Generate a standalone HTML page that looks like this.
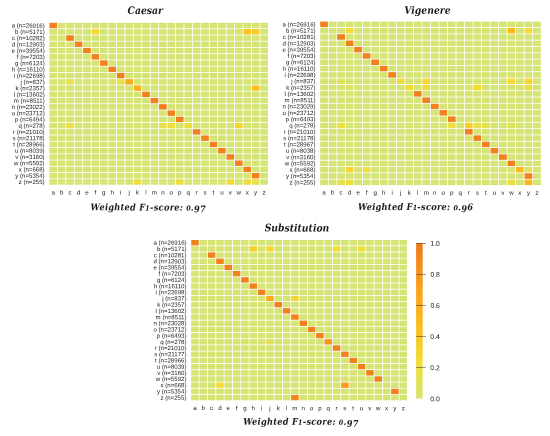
<!DOCTYPE html>
<html><head><meta charset="utf-8"><title>Confusion matrices</title>
<style>
html,body{margin:0;padding:0;background:#fff}
body{width:550px;height:436px;overflow:hidden}
svg{display:block}
text{font-family:"Liberation Sans",sans-serif;fill:#1a1a1a;text-rendering:geometricPrecision}
.yl text{font-size:6.1px;text-anchor:end}
.xl text{font-size:6.2px;text-anchor:middle}
.cbl text{font-size:6.8px}
.ti,.ca{font-family:"DejaVu Serif Condensed","DejaVu Serif","Liberation Serif",serif;font-weight:bold;font-style:italic;fill:#1c1c1c;text-anchor:middle}
.ti{font-size:10.3px}
.ca{font-size:9.2px;letter-spacing:0.24px}
.os{font-size:7.1px}
</style></head><body>
<svg width="550" height="436" viewBox="0 0 550 436">
<rect width="550" height="436" fill="#fff"/>
<g filter="url(#bl)">
<rect x="49.00" y="22.40" width="219.30" height="162.70" fill="#ffffff"/>
<rect x="49.40" y="22.80" width="7.63" height="5.46" fill="#f0811a"/>
<rect x="57.83" y="22.80" width="7.63" height="5.46" fill="#d5e474"/>
<rect x="66.27" y="22.80" width="7.63" height="5.46" fill="#d5e474"/>
<rect x="74.70" y="22.80" width="7.63" height="5.46" fill="#d5e474"/>
<rect x="83.14" y="22.80" width="7.63" height="5.46" fill="#d5e474"/>
<rect x="91.57" y="22.80" width="7.63" height="5.46" fill="#d5e474"/>
<rect x="100.01" y="22.80" width="7.63" height="5.46" fill="#d5e474"/>
<rect x="108.44" y="22.80" width="7.63" height="5.46" fill="#d5e474"/>
<rect x="116.88" y="22.80" width="7.63" height="5.46" fill="#d5e474"/>
<rect x="125.31" y="22.80" width="7.63" height="5.46" fill="#d5e474"/>
<rect x="133.75" y="22.80" width="7.63" height="5.46" fill="#d5e474"/>
<rect x="142.18" y="22.80" width="7.63" height="5.46" fill="#d5e474"/>
<rect x="150.62" y="22.80" width="7.63" height="5.46" fill="#d5e474"/>
<rect x="159.05" y="22.80" width="7.63" height="5.46" fill="#d5e474"/>
<rect x="167.48" y="22.80" width="7.63" height="5.46" fill="#d5e474"/>
<rect x="175.92" y="22.80" width="7.63" height="5.46" fill="#d5e474"/>
<rect x="184.35" y="22.80" width="7.63" height="5.46" fill="#d5e474"/>
<rect x="192.79" y="22.80" width="7.63" height="5.46" fill="#d5e474"/>
<rect x="201.22" y="22.80" width="7.63" height="5.46" fill="#d5e474"/>
<rect x="209.66" y="22.80" width="7.63" height="5.46" fill="#d5e474"/>
<rect x="218.09" y="22.80" width="7.63" height="5.46" fill="#d5e474"/>
<rect x="226.53" y="22.80" width="7.63" height="5.46" fill="#d5e474"/>
<rect x="234.96" y="22.80" width="7.63" height="5.46" fill="#d5e474"/>
<rect x="243.40" y="22.80" width="7.63" height="5.46" fill="#d5e474"/>
<rect x="251.83" y="22.80" width="7.63" height="5.46" fill="#d5e474"/>
<rect x="260.27" y="22.80" width="7.63" height="5.46" fill="#d5e474"/>
<rect x="49.40" y="29.06" width="7.63" height="5.46" fill="#d5e474"/>
<rect x="57.83" y="29.06" width="7.63" height="5.46" fill="#d5e474"/>
<rect x="66.27" y="29.06" width="7.63" height="5.46" fill="#d5e474"/>
<rect x="74.70" y="29.06" width="7.63" height="5.46" fill="#d5e474"/>
<rect x="83.14" y="29.06" width="7.63" height="5.46" fill="#d5e474"/>
<rect x="91.57" y="29.06" width="7.63" height="5.46" fill="#f3db33"/>
<rect x="100.01" y="29.06" width="7.63" height="5.46" fill="#d5e474"/>
<rect x="108.44" y="29.06" width="7.63" height="5.46" fill="#d5e474"/>
<rect x="116.88" y="29.06" width="7.63" height="5.46" fill="#d5e474"/>
<rect x="125.31" y="29.06" width="7.63" height="5.46" fill="#d5e474"/>
<rect x="133.75" y="29.06" width="7.63" height="5.46" fill="#d5e474"/>
<rect x="142.18" y="29.06" width="7.63" height="5.46" fill="#d5e474"/>
<rect x="150.62" y="29.06" width="7.63" height="5.46" fill="#d5e474"/>
<rect x="159.05" y="29.06" width="7.63" height="5.46" fill="#d5e474"/>
<rect x="167.48" y="29.06" width="7.63" height="5.46" fill="#d5e474"/>
<rect x="175.92" y="29.06" width="7.63" height="5.46" fill="#d5e474"/>
<rect x="184.35" y="29.06" width="7.63" height="5.46" fill="#d5e474"/>
<rect x="192.79" y="29.06" width="7.63" height="5.46" fill="#d5e474"/>
<rect x="201.22" y="29.06" width="7.63" height="5.46" fill="#d5e474"/>
<rect x="209.66" y="29.06" width="7.63" height="5.46" fill="#d5e474"/>
<rect x="218.09" y="29.06" width="7.63" height="5.46" fill="#d5e474"/>
<rect x="226.53" y="29.06" width="7.63" height="5.46" fill="#d5e474"/>
<rect x="234.96" y="29.06" width="7.63" height="5.46" fill="#dfe160"/>
<rect x="243.40" y="29.06" width="7.63" height="5.46" fill="#f8c422"/>
<rect x="251.83" y="29.06" width="7.63" height="5.46" fill="#f7ca26"/>
<rect x="260.27" y="29.06" width="7.63" height="5.46" fill="#d5e474"/>
<rect x="49.40" y="35.32" width="7.63" height="5.46" fill="#d5e474"/>
<rect x="57.83" y="35.32" width="7.63" height="5.46" fill="#d5e474"/>
<rect x="66.27" y="35.32" width="7.63" height="5.46" fill="#f0811a"/>
<rect x="74.70" y="35.32" width="7.63" height="5.46" fill="#d5e474"/>
<rect x="83.14" y="35.32" width="7.63" height="5.46" fill="#d5e474"/>
<rect x="91.57" y="35.32" width="7.63" height="5.46" fill="#d5e474"/>
<rect x="100.01" y="35.32" width="7.63" height="5.46" fill="#d5e474"/>
<rect x="108.44" y="35.32" width="7.63" height="5.46" fill="#d5e474"/>
<rect x="116.88" y="35.32" width="7.63" height="5.46" fill="#d5e474"/>
<rect x="125.31" y="35.32" width="7.63" height="5.46" fill="#d5e474"/>
<rect x="133.75" y="35.32" width="7.63" height="5.46" fill="#d5e474"/>
<rect x="142.18" y="35.32" width="7.63" height="5.46" fill="#d5e474"/>
<rect x="150.62" y="35.32" width="7.63" height="5.46" fill="#d5e474"/>
<rect x="159.05" y="35.32" width="7.63" height="5.46" fill="#d5e474"/>
<rect x="167.48" y="35.32" width="7.63" height="5.46" fill="#d5e474"/>
<rect x="175.92" y="35.32" width="7.63" height="5.46" fill="#d5e474"/>
<rect x="184.35" y="35.32" width="7.63" height="5.46" fill="#d5e474"/>
<rect x="192.79" y="35.32" width="7.63" height="5.46" fill="#d5e474"/>
<rect x="201.22" y="35.32" width="7.63" height="5.46" fill="#d5e474"/>
<rect x="209.66" y="35.32" width="7.63" height="5.46" fill="#d5e474"/>
<rect x="218.09" y="35.32" width="7.63" height="5.46" fill="#d5e474"/>
<rect x="226.53" y="35.32" width="7.63" height="5.46" fill="#d5e474"/>
<rect x="234.96" y="35.32" width="7.63" height="5.46" fill="#d5e474"/>
<rect x="243.40" y="35.32" width="7.63" height="5.46" fill="#d5e474"/>
<rect x="251.83" y="35.32" width="7.63" height="5.46" fill="#d5e474"/>
<rect x="260.27" y="35.32" width="7.63" height="5.46" fill="#d5e474"/>
<rect x="49.40" y="41.57" width="7.63" height="5.46" fill="#d5e474"/>
<rect x="57.83" y="41.57" width="7.63" height="5.46" fill="#d5e474"/>
<rect x="66.27" y="41.57" width="7.63" height="5.46" fill="#d5e474"/>
<rect x="74.70" y="41.57" width="7.63" height="5.46" fill="#f0811a"/>
<rect x="83.14" y="41.57" width="7.63" height="5.46" fill="#d5e474"/>
<rect x="91.57" y="41.57" width="7.63" height="5.46" fill="#d5e474"/>
<rect x="100.01" y="41.57" width="7.63" height="5.46" fill="#d5e474"/>
<rect x="108.44" y="41.57" width="7.63" height="5.46" fill="#d5e474"/>
<rect x="116.88" y="41.57" width="7.63" height="5.46" fill="#d5e474"/>
<rect x="125.31" y="41.57" width="7.63" height="5.46" fill="#d5e474"/>
<rect x="133.75" y="41.57" width="7.63" height="5.46" fill="#d5e474"/>
<rect x="142.18" y="41.57" width="7.63" height="5.46" fill="#d5e474"/>
<rect x="150.62" y="41.57" width="7.63" height="5.46" fill="#d5e474"/>
<rect x="159.05" y="41.57" width="7.63" height="5.46" fill="#d5e474"/>
<rect x="167.48" y="41.57" width="7.63" height="5.46" fill="#d5e474"/>
<rect x="175.92" y="41.57" width="7.63" height="5.46" fill="#d5e474"/>
<rect x="184.35" y="41.57" width="7.63" height="5.46" fill="#d5e474"/>
<rect x="192.79" y="41.57" width="7.63" height="5.46" fill="#d5e474"/>
<rect x="201.22" y="41.57" width="7.63" height="5.46" fill="#d5e474"/>
<rect x="209.66" y="41.57" width="7.63" height="5.46" fill="#d5e474"/>
<rect x="218.09" y="41.57" width="7.63" height="5.46" fill="#d5e474"/>
<rect x="226.53" y="41.57" width="7.63" height="5.46" fill="#d5e474"/>
<rect x="234.96" y="41.57" width="7.63" height="5.46" fill="#d5e474"/>
<rect x="243.40" y="41.57" width="7.63" height="5.46" fill="#d5e474"/>
<rect x="251.83" y="41.57" width="7.63" height="5.46" fill="#d5e474"/>
<rect x="260.27" y="41.57" width="7.63" height="5.46" fill="#d5e474"/>
<rect x="49.40" y="47.83" width="7.63" height="5.46" fill="#d5e474"/>
<rect x="57.83" y="47.83" width="7.63" height="5.46" fill="#d5e474"/>
<rect x="66.27" y="47.83" width="7.63" height="5.46" fill="#d5e474"/>
<rect x="74.70" y="47.83" width="7.63" height="5.46" fill="#d5e474"/>
<rect x="83.14" y="47.83" width="7.63" height="5.46" fill="#f0811a"/>
<rect x="91.57" y="47.83" width="7.63" height="5.46" fill="#d5e474"/>
<rect x="100.01" y="47.83" width="7.63" height="5.46" fill="#d5e474"/>
<rect x="108.44" y="47.83" width="7.63" height="5.46" fill="#d5e474"/>
<rect x="116.88" y="47.83" width="7.63" height="5.46" fill="#d5e474"/>
<rect x="125.31" y="47.83" width="7.63" height="5.46" fill="#d5e474"/>
<rect x="133.75" y="47.83" width="7.63" height="5.46" fill="#d5e474"/>
<rect x="142.18" y="47.83" width="7.63" height="5.46" fill="#d5e474"/>
<rect x="150.62" y="47.83" width="7.63" height="5.46" fill="#d5e474"/>
<rect x="159.05" y="47.83" width="7.63" height="5.46" fill="#d5e474"/>
<rect x="167.48" y="47.83" width="7.63" height="5.46" fill="#d5e474"/>
<rect x="175.92" y="47.83" width="7.63" height="5.46" fill="#d5e474"/>
<rect x="184.35" y="47.83" width="7.63" height="5.46" fill="#d5e474"/>
<rect x="192.79" y="47.83" width="7.63" height="5.46" fill="#d5e474"/>
<rect x="201.22" y="47.83" width="7.63" height="5.46" fill="#d5e474"/>
<rect x="209.66" y="47.83" width="7.63" height="5.46" fill="#d5e474"/>
<rect x="218.09" y="47.83" width="7.63" height="5.46" fill="#d5e474"/>
<rect x="226.53" y="47.83" width="7.63" height="5.46" fill="#d5e474"/>
<rect x="234.96" y="47.83" width="7.63" height="5.46" fill="#d5e474"/>
<rect x="243.40" y="47.83" width="7.63" height="5.46" fill="#d5e474"/>
<rect x="251.83" y="47.83" width="7.63" height="5.46" fill="#d5e474"/>
<rect x="260.27" y="47.83" width="7.63" height="5.46" fill="#d5e474"/>
<rect x="49.40" y="54.09" width="7.63" height="5.46" fill="#d5e474"/>
<rect x="57.83" y="54.09" width="7.63" height="5.46" fill="#d5e474"/>
<rect x="66.27" y="54.09" width="7.63" height="5.46" fill="#d5e474"/>
<rect x="74.70" y="54.09" width="7.63" height="5.46" fill="#d5e474"/>
<rect x="83.14" y="54.09" width="7.63" height="5.46" fill="#d5e474"/>
<rect x="91.57" y="54.09" width="7.63" height="5.46" fill="#f0811a"/>
<rect x="100.01" y="54.09" width="7.63" height="5.46" fill="#d5e474"/>
<rect x="108.44" y="54.09" width="7.63" height="5.46" fill="#d5e474"/>
<rect x="116.88" y="54.09" width="7.63" height="5.46" fill="#d5e474"/>
<rect x="125.31" y="54.09" width="7.63" height="5.46" fill="#d5e474"/>
<rect x="133.75" y="54.09" width="7.63" height="5.46" fill="#d5e474"/>
<rect x="142.18" y="54.09" width="7.63" height="5.46" fill="#d5e474"/>
<rect x="150.62" y="54.09" width="7.63" height="5.46" fill="#d5e474"/>
<rect x="159.05" y="54.09" width="7.63" height="5.46" fill="#d5e474"/>
<rect x="167.48" y="54.09" width="7.63" height="5.46" fill="#d5e474"/>
<rect x="175.92" y="54.09" width="7.63" height="5.46" fill="#d5e474"/>
<rect x="184.35" y="54.09" width="7.63" height="5.46" fill="#d5e474"/>
<rect x="192.79" y="54.09" width="7.63" height="5.46" fill="#d5e474"/>
<rect x="201.22" y="54.09" width="7.63" height="5.46" fill="#d5e474"/>
<rect x="209.66" y="54.09" width="7.63" height="5.46" fill="#d5e474"/>
<rect x="218.09" y="54.09" width="7.63" height="5.46" fill="#d5e474"/>
<rect x="226.53" y="54.09" width="7.63" height="5.46" fill="#d5e474"/>
<rect x="234.96" y="54.09" width="7.63" height="5.46" fill="#d5e474"/>
<rect x="243.40" y="54.09" width="7.63" height="5.46" fill="#d5e474"/>
<rect x="251.83" y="54.09" width="7.63" height="5.46" fill="#d5e474"/>
<rect x="260.27" y="54.09" width="7.63" height="5.46" fill="#d5e474"/>
<rect x="49.40" y="60.35" width="7.63" height="5.46" fill="#d5e474"/>
<rect x="57.83" y="60.35" width="7.63" height="5.46" fill="#d5e474"/>
<rect x="66.27" y="60.35" width="7.63" height="5.46" fill="#d5e474"/>
<rect x="74.70" y="60.35" width="7.63" height="5.46" fill="#d5e474"/>
<rect x="83.14" y="60.35" width="7.63" height="5.46" fill="#d5e474"/>
<rect x="91.57" y="60.35" width="7.63" height="5.46" fill="#d5e474"/>
<rect x="100.01" y="60.35" width="7.63" height="5.46" fill="#f0811a"/>
<rect x="108.44" y="60.35" width="7.63" height="5.46" fill="#d5e474"/>
<rect x="116.88" y="60.35" width="7.63" height="5.46" fill="#d5e474"/>
<rect x="125.31" y="60.35" width="7.63" height="5.46" fill="#d5e474"/>
<rect x="133.75" y="60.35" width="7.63" height="5.46" fill="#d5e474"/>
<rect x="142.18" y="60.35" width="7.63" height="5.46" fill="#d5e474"/>
<rect x="150.62" y="60.35" width="7.63" height="5.46" fill="#d5e474"/>
<rect x="159.05" y="60.35" width="7.63" height="5.46" fill="#d5e474"/>
<rect x="167.48" y="60.35" width="7.63" height="5.46" fill="#d5e474"/>
<rect x="175.92" y="60.35" width="7.63" height="5.46" fill="#d5e474"/>
<rect x="184.35" y="60.35" width="7.63" height="5.46" fill="#d5e474"/>
<rect x="192.79" y="60.35" width="7.63" height="5.46" fill="#d5e474"/>
<rect x="201.22" y="60.35" width="7.63" height="5.46" fill="#d5e474"/>
<rect x="209.66" y="60.35" width="7.63" height="5.46" fill="#d5e474"/>
<rect x="218.09" y="60.35" width="7.63" height="5.46" fill="#d5e474"/>
<rect x="226.53" y="60.35" width="7.63" height="5.46" fill="#d5e474"/>
<rect x="234.96" y="60.35" width="7.63" height="5.46" fill="#d5e474"/>
<rect x="243.40" y="60.35" width="7.63" height="5.46" fill="#d5e474"/>
<rect x="251.83" y="60.35" width="7.63" height="5.46" fill="#d5e474"/>
<rect x="260.27" y="60.35" width="7.63" height="5.46" fill="#d5e474"/>
<rect x="49.40" y="66.60" width="7.63" height="5.46" fill="#d5e474"/>
<rect x="57.83" y="66.60" width="7.63" height="5.46" fill="#d5e474"/>
<rect x="66.27" y="66.60" width="7.63" height="5.46" fill="#d5e474"/>
<rect x="74.70" y="66.60" width="7.63" height="5.46" fill="#d5e474"/>
<rect x="83.14" y="66.60" width="7.63" height="5.46" fill="#d5e474"/>
<rect x="91.57" y="66.60" width="7.63" height="5.46" fill="#d5e474"/>
<rect x="100.01" y="66.60" width="7.63" height="5.46" fill="#d5e474"/>
<rect x="108.44" y="66.60" width="7.63" height="5.46" fill="#f0811a"/>
<rect x="116.88" y="66.60" width="7.63" height="5.46" fill="#d5e474"/>
<rect x="125.31" y="66.60" width="7.63" height="5.46" fill="#d5e474"/>
<rect x="133.75" y="66.60" width="7.63" height="5.46" fill="#d5e474"/>
<rect x="142.18" y="66.60" width="7.63" height="5.46" fill="#d5e474"/>
<rect x="150.62" y="66.60" width="7.63" height="5.46" fill="#d5e474"/>
<rect x="159.05" y="66.60" width="7.63" height="5.46" fill="#d5e474"/>
<rect x="167.48" y="66.60" width="7.63" height="5.46" fill="#d5e474"/>
<rect x="175.92" y="66.60" width="7.63" height="5.46" fill="#d5e474"/>
<rect x="184.35" y="66.60" width="7.63" height="5.46" fill="#d5e474"/>
<rect x="192.79" y="66.60" width="7.63" height="5.46" fill="#d5e474"/>
<rect x="201.22" y="66.60" width="7.63" height="5.46" fill="#d5e474"/>
<rect x="209.66" y="66.60" width="7.63" height="5.46" fill="#d5e474"/>
<rect x="218.09" y="66.60" width="7.63" height="5.46" fill="#d5e474"/>
<rect x="226.53" y="66.60" width="7.63" height="5.46" fill="#d5e474"/>
<rect x="234.96" y="66.60" width="7.63" height="5.46" fill="#d5e474"/>
<rect x="243.40" y="66.60" width="7.63" height="5.46" fill="#d5e474"/>
<rect x="251.83" y="66.60" width="7.63" height="5.46" fill="#d5e474"/>
<rect x="260.27" y="66.60" width="7.63" height="5.46" fill="#d5e474"/>
<rect x="49.40" y="72.86" width="7.63" height="5.46" fill="#d5e474"/>
<rect x="57.83" y="72.86" width="7.63" height="5.46" fill="#d5e474"/>
<rect x="66.27" y="72.86" width="7.63" height="5.46" fill="#d5e474"/>
<rect x="74.70" y="72.86" width="7.63" height="5.46" fill="#d5e474"/>
<rect x="83.14" y="72.86" width="7.63" height="5.46" fill="#d5e474"/>
<rect x="91.57" y="72.86" width="7.63" height="5.46" fill="#d5e474"/>
<rect x="100.01" y="72.86" width="7.63" height="5.46" fill="#d5e474"/>
<rect x="108.44" y="72.86" width="7.63" height="5.46" fill="#d5e474"/>
<rect x="116.88" y="72.86" width="7.63" height="5.46" fill="#f0811a"/>
<rect x="125.31" y="72.86" width="7.63" height="5.46" fill="#d5e474"/>
<rect x="133.75" y="72.86" width="7.63" height="5.46" fill="#d5e474"/>
<rect x="142.18" y="72.86" width="7.63" height="5.46" fill="#d5e474"/>
<rect x="150.62" y="72.86" width="7.63" height="5.46" fill="#d5e474"/>
<rect x="159.05" y="72.86" width="7.63" height="5.46" fill="#d5e474"/>
<rect x="167.48" y="72.86" width="7.63" height="5.46" fill="#d5e474"/>
<rect x="175.92" y="72.86" width="7.63" height="5.46" fill="#d5e474"/>
<rect x="184.35" y="72.86" width="7.63" height="5.46" fill="#d5e474"/>
<rect x="192.79" y="72.86" width="7.63" height="5.46" fill="#d5e474"/>
<rect x="201.22" y="72.86" width="7.63" height="5.46" fill="#d5e474"/>
<rect x="209.66" y="72.86" width="7.63" height="5.46" fill="#d5e474"/>
<rect x="218.09" y="72.86" width="7.63" height="5.46" fill="#d5e474"/>
<rect x="226.53" y="72.86" width="7.63" height="5.46" fill="#d5e474"/>
<rect x="234.96" y="72.86" width="7.63" height="5.46" fill="#d5e474"/>
<rect x="243.40" y="72.86" width="7.63" height="5.46" fill="#d5e474"/>
<rect x="251.83" y="72.86" width="7.63" height="5.46" fill="#d5e474"/>
<rect x="260.27" y="72.86" width="7.63" height="5.46" fill="#d5e474"/>
<rect x="49.40" y="79.12" width="7.63" height="5.46" fill="#d5e474"/>
<rect x="57.83" y="79.12" width="7.63" height="5.46" fill="#d5e474"/>
<rect x="66.27" y="79.12" width="7.63" height="5.46" fill="#e8df4b"/>
<rect x="74.70" y="79.12" width="7.63" height="5.46" fill="#d5e474"/>
<rect x="83.14" y="79.12" width="7.63" height="5.46" fill="#d5e474"/>
<rect x="91.57" y="79.12" width="7.63" height="5.46" fill="#d5e474"/>
<rect x="100.01" y="79.12" width="7.63" height="5.46" fill="#d5e474"/>
<rect x="108.44" y="79.12" width="7.63" height="5.46" fill="#dbe267"/>
<rect x="116.88" y="79.12" width="7.63" height="5.46" fill="#e7df4e"/>
<rect x="125.31" y="79.12" width="7.63" height="5.46" fill="#faab1b"/>
<rect x="133.75" y="79.12" width="7.63" height="5.46" fill="#d5e474"/>
<rect x="142.18" y="79.12" width="7.63" height="5.46" fill="#d5e474"/>
<rect x="150.62" y="79.12" width="7.63" height="5.46" fill="#dfe160"/>
<rect x="159.05" y="79.12" width="7.63" height="5.46" fill="#d5e474"/>
<rect x="167.48" y="79.12" width="7.63" height="5.46" fill="#d5e474"/>
<rect x="175.92" y="79.12" width="7.63" height="5.46" fill="#d5e474"/>
<rect x="184.35" y="79.12" width="7.63" height="5.46" fill="#d5e474"/>
<rect x="192.79" y="79.12" width="7.63" height="5.46" fill="#d5e474"/>
<rect x="201.22" y="79.12" width="7.63" height="5.46" fill="#d5e474"/>
<rect x="209.66" y="79.12" width="7.63" height="5.46" fill="#d5e474"/>
<rect x="218.09" y="79.12" width="7.63" height="5.46" fill="#d5e474"/>
<rect x="226.53" y="79.12" width="7.63" height="5.46" fill="#d5e474"/>
<rect x="234.96" y="79.12" width="7.63" height="5.46" fill="#d5e474"/>
<rect x="243.40" y="79.12" width="7.63" height="5.46" fill="#d5e474"/>
<rect x="251.83" y="79.12" width="7.63" height="5.46" fill="#d5e474"/>
<rect x="260.27" y="79.12" width="7.63" height="5.46" fill="#d5e474"/>
<rect x="49.40" y="85.38" width="7.63" height="5.46" fill="#d5e474"/>
<rect x="57.83" y="85.38" width="7.63" height="5.46" fill="#d5e474"/>
<rect x="66.27" y="85.38" width="7.63" height="5.46" fill="#d5e474"/>
<rect x="74.70" y="85.38" width="7.63" height="5.46" fill="#d5e474"/>
<rect x="83.14" y="85.38" width="7.63" height="5.46" fill="#d5e474"/>
<rect x="91.57" y="85.38" width="7.63" height="5.46" fill="#d5e474"/>
<rect x="100.01" y="85.38" width="7.63" height="5.46" fill="#d5e474"/>
<rect x="108.44" y="85.38" width="7.63" height="5.46" fill="#d5e474"/>
<rect x="116.88" y="85.38" width="7.63" height="5.46" fill="#d5e474"/>
<rect x="125.31" y="85.38" width="7.63" height="5.46" fill="#d5e474"/>
<rect x="133.75" y="85.38" width="7.63" height="5.46" fill="#fab01b"/>
<rect x="142.18" y="85.38" width="7.63" height="5.46" fill="#d5e474"/>
<rect x="150.62" y="85.38" width="7.63" height="5.46" fill="#d5e474"/>
<rect x="159.05" y="85.38" width="7.63" height="5.46" fill="#d5e474"/>
<rect x="167.48" y="85.38" width="7.63" height="5.46" fill="#d5e474"/>
<rect x="175.92" y="85.38" width="7.63" height="5.46" fill="#d5e474"/>
<rect x="184.35" y="85.38" width="7.63" height="5.46" fill="#d5e474"/>
<rect x="192.79" y="85.38" width="7.63" height="5.46" fill="#d5e474"/>
<rect x="201.22" y="85.38" width="7.63" height="5.46" fill="#d5e474"/>
<rect x="209.66" y="85.38" width="7.63" height="5.46" fill="#d5e474"/>
<rect x="218.09" y="85.38" width="7.63" height="5.46" fill="#d5e474"/>
<rect x="226.53" y="85.38" width="7.63" height="5.46" fill="#d5e474"/>
<rect x="234.96" y="85.38" width="7.63" height="5.46" fill="#d5e474"/>
<rect x="243.40" y="85.38" width="7.63" height="5.46" fill="#d5e474"/>
<rect x="251.83" y="85.38" width="7.63" height="5.46" fill="#f8c422"/>
<rect x="260.27" y="85.38" width="7.63" height="5.46" fill="#d5e474"/>
<rect x="49.40" y="91.63" width="7.63" height="5.46" fill="#d5e474"/>
<rect x="57.83" y="91.63" width="7.63" height="5.46" fill="#d5e474"/>
<rect x="66.27" y="91.63" width="7.63" height="5.46" fill="#d5e474"/>
<rect x="74.70" y="91.63" width="7.63" height="5.46" fill="#d5e474"/>
<rect x="83.14" y="91.63" width="7.63" height="5.46" fill="#d5e474"/>
<rect x="91.57" y="91.63" width="7.63" height="5.46" fill="#d5e474"/>
<rect x="100.01" y="91.63" width="7.63" height="5.46" fill="#d5e474"/>
<rect x="108.44" y="91.63" width="7.63" height="5.46" fill="#d5e474"/>
<rect x="116.88" y="91.63" width="7.63" height="5.46" fill="#d5e474"/>
<rect x="125.31" y="91.63" width="7.63" height="5.46" fill="#d5e474"/>
<rect x="133.75" y="91.63" width="7.63" height="5.46" fill="#d5e474"/>
<rect x="142.18" y="91.63" width="7.63" height="5.46" fill="#f0811a"/>
<rect x="150.62" y="91.63" width="7.63" height="5.46" fill="#d5e474"/>
<rect x="159.05" y="91.63" width="7.63" height="5.46" fill="#d5e474"/>
<rect x="167.48" y="91.63" width="7.63" height="5.46" fill="#d5e474"/>
<rect x="175.92" y="91.63" width="7.63" height="5.46" fill="#d5e474"/>
<rect x="184.35" y="91.63" width="7.63" height="5.46" fill="#d5e474"/>
<rect x="192.79" y="91.63" width="7.63" height="5.46" fill="#d5e474"/>
<rect x="201.22" y="91.63" width="7.63" height="5.46" fill="#d5e474"/>
<rect x="209.66" y="91.63" width="7.63" height="5.46" fill="#d5e474"/>
<rect x="218.09" y="91.63" width="7.63" height="5.46" fill="#d5e474"/>
<rect x="226.53" y="91.63" width="7.63" height="5.46" fill="#d5e474"/>
<rect x="234.96" y="91.63" width="7.63" height="5.46" fill="#d5e474"/>
<rect x="243.40" y="91.63" width="7.63" height="5.46" fill="#d5e474"/>
<rect x="251.83" y="91.63" width="7.63" height="5.46" fill="#d5e474"/>
<rect x="260.27" y="91.63" width="7.63" height="5.46" fill="#d5e474"/>
<rect x="49.40" y="97.89" width="7.63" height="5.46" fill="#d5e474"/>
<rect x="57.83" y="97.89" width="7.63" height="5.46" fill="#d5e474"/>
<rect x="66.27" y="97.89" width="7.63" height="5.46" fill="#d5e474"/>
<rect x="74.70" y="97.89" width="7.63" height="5.46" fill="#d5e474"/>
<rect x="83.14" y="97.89" width="7.63" height="5.46" fill="#d5e474"/>
<rect x="91.57" y="97.89" width="7.63" height="5.46" fill="#d5e474"/>
<rect x="100.01" y="97.89" width="7.63" height="5.46" fill="#d5e474"/>
<rect x="108.44" y="97.89" width="7.63" height="5.46" fill="#d5e474"/>
<rect x="116.88" y="97.89" width="7.63" height="5.46" fill="#d5e474"/>
<rect x="125.31" y="97.89" width="7.63" height="5.46" fill="#d5e474"/>
<rect x="133.75" y="97.89" width="7.63" height="5.46" fill="#d5e474"/>
<rect x="142.18" y="97.89" width="7.63" height="5.46" fill="#d5e474"/>
<rect x="150.62" y="97.89" width="7.63" height="5.46" fill="#f0811a"/>
<rect x="159.05" y="97.89" width="7.63" height="5.46" fill="#d5e474"/>
<rect x="167.48" y="97.89" width="7.63" height="5.46" fill="#d5e474"/>
<rect x="175.92" y="97.89" width="7.63" height="5.46" fill="#d5e474"/>
<rect x="184.35" y="97.89" width="7.63" height="5.46" fill="#d5e474"/>
<rect x="192.79" y="97.89" width="7.63" height="5.46" fill="#d5e474"/>
<rect x="201.22" y="97.89" width="7.63" height="5.46" fill="#d5e474"/>
<rect x="209.66" y="97.89" width="7.63" height="5.46" fill="#d5e474"/>
<rect x="218.09" y="97.89" width="7.63" height="5.46" fill="#d5e474"/>
<rect x="226.53" y="97.89" width="7.63" height="5.46" fill="#d5e474"/>
<rect x="234.96" y="97.89" width="7.63" height="5.46" fill="#d5e474"/>
<rect x="243.40" y="97.89" width="7.63" height="5.46" fill="#d5e474"/>
<rect x="251.83" y="97.89" width="7.63" height="5.46" fill="#d5e474"/>
<rect x="260.27" y="97.89" width="7.63" height="5.46" fill="#d5e474"/>
<rect x="49.40" y="104.15" width="7.63" height="5.46" fill="#d5e474"/>
<rect x="57.83" y="104.15" width="7.63" height="5.46" fill="#d5e474"/>
<rect x="66.27" y="104.15" width="7.63" height="5.46" fill="#d5e474"/>
<rect x="74.70" y="104.15" width="7.63" height="5.46" fill="#d5e474"/>
<rect x="83.14" y="104.15" width="7.63" height="5.46" fill="#d5e474"/>
<rect x="91.57" y="104.15" width="7.63" height="5.46" fill="#d5e474"/>
<rect x="100.01" y="104.15" width="7.63" height="5.46" fill="#d5e474"/>
<rect x="108.44" y="104.15" width="7.63" height="5.46" fill="#d5e474"/>
<rect x="116.88" y="104.15" width="7.63" height="5.46" fill="#d5e474"/>
<rect x="125.31" y="104.15" width="7.63" height="5.46" fill="#d5e474"/>
<rect x="133.75" y="104.15" width="7.63" height="5.46" fill="#d5e474"/>
<rect x="142.18" y="104.15" width="7.63" height="5.46" fill="#d5e474"/>
<rect x="150.62" y="104.15" width="7.63" height="5.46" fill="#d5e474"/>
<rect x="159.05" y="104.15" width="7.63" height="5.46" fill="#f0811a"/>
<rect x="167.48" y="104.15" width="7.63" height="5.46" fill="#d5e474"/>
<rect x="175.92" y="104.15" width="7.63" height="5.46" fill="#d5e474"/>
<rect x="184.35" y="104.15" width="7.63" height="5.46" fill="#d5e474"/>
<rect x="192.79" y="104.15" width="7.63" height="5.46" fill="#d5e474"/>
<rect x="201.22" y="104.15" width="7.63" height="5.46" fill="#d5e474"/>
<rect x="209.66" y="104.15" width="7.63" height="5.46" fill="#d5e474"/>
<rect x="218.09" y="104.15" width="7.63" height="5.46" fill="#d5e474"/>
<rect x="226.53" y="104.15" width="7.63" height="5.46" fill="#d5e474"/>
<rect x="234.96" y="104.15" width="7.63" height="5.46" fill="#d5e474"/>
<rect x="243.40" y="104.15" width="7.63" height="5.46" fill="#d5e474"/>
<rect x="251.83" y="104.15" width="7.63" height="5.46" fill="#d5e474"/>
<rect x="260.27" y="104.15" width="7.63" height="5.46" fill="#d5e474"/>
<rect x="49.40" y="110.41" width="7.63" height="5.46" fill="#d5e474"/>
<rect x="57.83" y="110.41" width="7.63" height="5.46" fill="#d5e474"/>
<rect x="66.27" y="110.41" width="7.63" height="5.46" fill="#d5e474"/>
<rect x="74.70" y="110.41" width="7.63" height="5.46" fill="#d5e474"/>
<rect x="83.14" y="110.41" width="7.63" height="5.46" fill="#d5e474"/>
<rect x="91.57" y="110.41" width="7.63" height="5.46" fill="#d5e474"/>
<rect x="100.01" y="110.41" width="7.63" height="5.46" fill="#d5e474"/>
<rect x="108.44" y="110.41" width="7.63" height="5.46" fill="#d5e474"/>
<rect x="116.88" y="110.41" width="7.63" height="5.46" fill="#d5e474"/>
<rect x="125.31" y="110.41" width="7.63" height="5.46" fill="#d5e474"/>
<rect x="133.75" y="110.41" width="7.63" height="5.46" fill="#d5e474"/>
<rect x="142.18" y="110.41" width="7.63" height="5.46" fill="#d5e474"/>
<rect x="150.62" y="110.41" width="7.63" height="5.46" fill="#d5e474"/>
<rect x="159.05" y="110.41" width="7.63" height="5.46" fill="#d5e474"/>
<rect x="167.48" y="110.41" width="7.63" height="5.46" fill="#f0811a"/>
<rect x="175.92" y="110.41" width="7.63" height="5.46" fill="#d5e474"/>
<rect x="184.35" y="110.41" width="7.63" height="5.46" fill="#d5e474"/>
<rect x="192.79" y="110.41" width="7.63" height="5.46" fill="#d5e474"/>
<rect x="201.22" y="110.41" width="7.63" height="5.46" fill="#d5e474"/>
<rect x="209.66" y="110.41" width="7.63" height="5.46" fill="#d5e474"/>
<rect x="218.09" y="110.41" width="7.63" height="5.46" fill="#d5e474"/>
<rect x="226.53" y="110.41" width="7.63" height="5.46" fill="#d5e474"/>
<rect x="234.96" y="110.41" width="7.63" height="5.46" fill="#d5e474"/>
<rect x="243.40" y="110.41" width="7.63" height="5.46" fill="#d5e474"/>
<rect x="251.83" y="110.41" width="7.63" height="5.46" fill="#d5e474"/>
<rect x="260.27" y="110.41" width="7.63" height="5.46" fill="#d5e474"/>
<rect x="49.40" y="116.67" width="7.63" height="5.46" fill="#d5e474"/>
<rect x="57.83" y="116.67" width="7.63" height="5.46" fill="#d5e474"/>
<rect x="66.27" y="116.67" width="7.63" height="5.46" fill="#d5e474"/>
<rect x="74.70" y="116.67" width="7.63" height="5.46" fill="#d5e474"/>
<rect x="83.14" y="116.67" width="7.63" height="5.46" fill="#d5e474"/>
<rect x="91.57" y="116.67" width="7.63" height="5.46" fill="#d5e474"/>
<rect x="100.01" y="116.67" width="7.63" height="5.46" fill="#d5e474"/>
<rect x="108.44" y="116.67" width="7.63" height="5.46" fill="#d5e474"/>
<rect x="116.88" y="116.67" width="7.63" height="5.46" fill="#d5e474"/>
<rect x="125.31" y="116.67" width="7.63" height="5.46" fill="#d5e474"/>
<rect x="133.75" y="116.67" width="7.63" height="5.46" fill="#d5e474"/>
<rect x="142.18" y="116.67" width="7.63" height="5.46" fill="#d5e474"/>
<rect x="150.62" y="116.67" width="7.63" height="5.46" fill="#d5e474"/>
<rect x="159.05" y="116.67" width="7.63" height="5.46" fill="#d5e474"/>
<rect x="167.48" y="116.67" width="7.63" height="5.46" fill="#d5e474"/>
<rect x="175.92" y="116.67" width="7.63" height="5.46" fill="#f0811a"/>
<rect x="184.35" y="116.67" width="7.63" height="5.46" fill="#d5e474"/>
<rect x="192.79" y="116.67" width="7.63" height="5.46" fill="#d5e474"/>
<rect x="201.22" y="116.67" width="7.63" height="5.46" fill="#d5e474"/>
<rect x="209.66" y="116.67" width="7.63" height="5.46" fill="#d5e474"/>
<rect x="218.09" y="116.67" width="7.63" height="5.46" fill="#d5e474"/>
<rect x="226.53" y="116.67" width="7.63" height="5.46" fill="#d5e474"/>
<rect x="234.96" y="116.67" width="7.63" height="5.46" fill="#d5e474"/>
<rect x="243.40" y="116.67" width="7.63" height="5.46" fill="#d5e474"/>
<rect x="251.83" y="116.67" width="7.63" height="5.46" fill="#d5e474"/>
<rect x="260.27" y="116.67" width="7.63" height="5.46" fill="#d5e474"/>
<rect x="49.40" y="122.92" width="7.63" height="5.46" fill="#d5e474"/>
<rect x="57.83" y="122.92" width="7.63" height="5.46" fill="#d5e474"/>
<rect x="66.27" y="122.92" width="7.63" height="5.46" fill="#edde41"/>
<rect x="74.70" y="122.92" width="7.63" height="5.46" fill="#d5e474"/>
<rect x="83.14" y="122.92" width="7.63" height="5.46" fill="#d5e474"/>
<rect x="91.57" y="122.92" width="7.63" height="5.46" fill="#d5e474"/>
<rect x="100.01" y="122.92" width="7.63" height="5.46" fill="#d5e474"/>
<rect x="108.44" y="122.92" width="7.63" height="5.46" fill="#d5e474"/>
<rect x="116.88" y="122.92" width="7.63" height="5.46" fill="#d5e474"/>
<rect x="125.31" y="122.92" width="7.63" height="5.46" fill="#d5e474"/>
<rect x="133.75" y="122.92" width="7.63" height="5.46" fill="#d5e474"/>
<rect x="142.18" y="122.92" width="7.63" height="5.46" fill="#d5e474"/>
<rect x="150.62" y="122.92" width="7.63" height="5.46" fill="#d5e474"/>
<rect x="159.05" y="122.92" width="7.63" height="5.46" fill="#e7df4e"/>
<rect x="167.48" y="122.92" width="7.63" height="5.46" fill="#edde41"/>
<rect x="175.92" y="122.92" width="7.63" height="5.46" fill="#d5e474"/>
<rect x="184.35" y="122.92" width="7.63" height="5.46" fill="#edde41"/>
<rect x="192.79" y="122.92" width="7.63" height="5.46" fill="#d5e474"/>
<rect x="201.22" y="122.92" width="7.63" height="5.46" fill="#d5e474"/>
<rect x="209.66" y="122.92" width="7.63" height="5.46" fill="#d5e474"/>
<rect x="218.09" y="122.92" width="7.63" height="5.46" fill="#d5e474"/>
<rect x="226.53" y="122.92" width="7.63" height="5.46" fill="#d5e474"/>
<rect x="234.96" y="122.92" width="7.63" height="5.46" fill="#f5d52f"/>
<rect x="243.40" y="122.92" width="7.63" height="5.46" fill="#d5e474"/>
<rect x="251.83" y="122.92" width="7.63" height="5.46" fill="#d5e474"/>
<rect x="260.27" y="122.92" width="7.63" height="5.46" fill="#d5e474"/>
<rect x="49.40" y="129.18" width="7.63" height="5.46" fill="#d5e474"/>
<rect x="57.83" y="129.18" width="7.63" height="5.46" fill="#d5e474"/>
<rect x="66.27" y="129.18" width="7.63" height="5.46" fill="#d5e474"/>
<rect x="74.70" y="129.18" width="7.63" height="5.46" fill="#d5e474"/>
<rect x="83.14" y="129.18" width="7.63" height="5.46" fill="#d5e474"/>
<rect x="91.57" y="129.18" width="7.63" height="5.46" fill="#d5e474"/>
<rect x="100.01" y="129.18" width="7.63" height="5.46" fill="#d5e474"/>
<rect x="108.44" y="129.18" width="7.63" height="5.46" fill="#d5e474"/>
<rect x="116.88" y="129.18" width="7.63" height="5.46" fill="#d5e474"/>
<rect x="125.31" y="129.18" width="7.63" height="5.46" fill="#d5e474"/>
<rect x="133.75" y="129.18" width="7.63" height="5.46" fill="#d5e474"/>
<rect x="142.18" y="129.18" width="7.63" height="5.46" fill="#d5e474"/>
<rect x="150.62" y="129.18" width="7.63" height="5.46" fill="#d5e474"/>
<rect x="159.05" y="129.18" width="7.63" height="5.46" fill="#d5e474"/>
<rect x="167.48" y="129.18" width="7.63" height="5.46" fill="#d5e474"/>
<rect x="175.92" y="129.18" width="7.63" height="5.46" fill="#d5e474"/>
<rect x="184.35" y="129.18" width="7.63" height="5.46" fill="#d5e474"/>
<rect x="192.79" y="129.18" width="7.63" height="5.46" fill="#f0811a"/>
<rect x="201.22" y="129.18" width="7.63" height="5.46" fill="#d5e474"/>
<rect x="209.66" y="129.18" width="7.63" height="5.46" fill="#d5e474"/>
<rect x="218.09" y="129.18" width="7.63" height="5.46" fill="#d5e474"/>
<rect x="226.53" y="129.18" width="7.63" height="5.46" fill="#d5e474"/>
<rect x="234.96" y="129.18" width="7.63" height="5.46" fill="#d5e474"/>
<rect x="243.40" y="129.18" width="7.63" height="5.46" fill="#d5e474"/>
<rect x="251.83" y="129.18" width="7.63" height="5.46" fill="#d5e474"/>
<rect x="260.27" y="129.18" width="7.63" height="5.46" fill="#d5e474"/>
<rect x="49.40" y="135.44" width="7.63" height="5.46" fill="#d5e474"/>
<rect x="57.83" y="135.44" width="7.63" height="5.46" fill="#d5e474"/>
<rect x="66.27" y="135.44" width="7.63" height="5.46" fill="#d5e474"/>
<rect x="74.70" y="135.44" width="7.63" height="5.46" fill="#d5e474"/>
<rect x="83.14" y="135.44" width="7.63" height="5.46" fill="#d5e474"/>
<rect x="91.57" y="135.44" width="7.63" height="5.46" fill="#d5e474"/>
<rect x="100.01" y="135.44" width="7.63" height="5.46" fill="#d5e474"/>
<rect x="108.44" y="135.44" width="7.63" height="5.46" fill="#d5e474"/>
<rect x="116.88" y="135.44" width="7.63" height="5.46" fill="#d5e474"/>
<rect x="125.31" y="135.44" width="7.63" height="5.46" fill="#d5e474"/>
<rect x="133.75" y="135.44" width="7.63" height="5.46" fill="#d5e474"/>
<rect x="142.18" y="135.44" width="7.63" height="5.46" fill="#d5e474"/>
<rect x="150.62" y="135.44" width="7.63" height="5.46" fill="#d5e474"/>
<rect x="159.05" y="135.44" width="7.63" height="5.46" fill="#d5e474"/>
<rect x="167.48" y="135.44" width="7.63" height="5.46" fill="#d5e474"/>
<rect x="175.92" y="135.44" width="7.63" height="5.46" fill="#d5e474"/>
<rect x="184.35" y="135.44" width="7.63" height="5.46" fill="#d5e474"/>
<rect x="192.79" y="135.44" width="7.63" height="5.46" fill="#d5e474"/>
<rect x="201.22" y="135.44" width="7.63" height="5.46" fill="#f0811a"/>
<rect x="209.66" y="135.44" width="7.63" height="5.46" fill="#d5e474"/>
<rect x="218.09" y="135.44" width="7.63" height="5.46" fill="#d5e474"/>
<rect x="226.53" y="135.44" width="7.63" height="5.46" fill="#d5e474"/>
<rect x="234.96" y="135.44" width="7.63" height="5.46" fill="#d5e474"/>
<rect x="243.40" y="135.44" width="7.63" height="5.46" fill="#d5e474"/>
<rect x="251.83" y="135.44" width="7.63" height="5.46" fill="#d5e474"/>
<rect x="260.27" y="135.44" width="7.63" height="5.46" fill="#d5e474"/>
<rect x="49.40" y="141.70" width="7.63" height="5.46" fill="#d5e474"/>
<rect x="57.83" y="141.70" width="7.63" height="5.46" fill="#d5e474"/>
<rect x="66.27" y="141.70" width="7.63" height="5.46" fill="#d5e474"/>
<rect x="74.70" y="141.70" width="7.63" height="5.46" fill="#d5e474"/>
<rect x="83.14" y="141.70" width="7.63" height="5.46" fill="#d5e474"/>
<rect x="91.57" y="141.70" width="7.63" height="5.46" fill="#d5e474"/>
<rect x="100.01" y="141.70" width="7.63" height="5.46" fill="#d5e474"/>
<rect x="108.44" y="141.70" width="7.63" height="5.46" fill="#d5e474"/>
<rect x="116.88" y="141.70" width="7.63" height="5.46" fill="#d5e474"/>
<rect x="125.31" y="141.70" width="7.63" height="5.46" fill="#d5e474"/>
<rect x="133.75" y="141.70" width="7.63" height="5.46" fill="#d5e474"/>
<rect x="142.18" y="141.70" width="7.63" height="5.46" fill="#d5e474"/>
<rect x="150.62" y="141.70" width="7.63" height="5.46" fill="#d5e474"/>
<rect x="159.05" y="141.70" width="7.63" height="5.46" fill="#d5e474"/>
<rect x="167.48" y="141.70" width="7.63" height="5.46" fill="#d5e474"/>
<rect x="175.92" y="141.70" width="7.63" height="5.46" fill="#d5e474"/>
<rect x="184.35" y="141.70" width="7.63" height="5.46" fill="#d5e474"/>
<rect x="192.79" y="141.70" width="7.63" height="5.46" fill="#d5e474"/>
<rect x="201.22" y="141.70" width="7.63" height="5.46" fill="#d5e474"/>
<rect x="209.66" y="141.70" width="7.63" height="5.46" fill="#f0811a"/>
<rect x="218.09" y="141.70" width="7.63" height="5.46" fill="#d5e474"/>
<rect x="226.53" y="141.70" width="7.63" height="5.46" fill="#d5e474"/>
<rect x="234.96" y="141.70" width="7.63" height="5.46" fill="#d5e474"/>
<rect x="243.40" y="141.70" width="7.63" height="5.46" fill="#d5e474"/>
<rect x="251.83" y="141.70" width="7.63" height="5.46" fill="#d5e474"/>
<rect x="260.27" y="141.70" width="7.63" height="5.46" fill="#d5e474"/>
<rect x="49.40" y="147.95" width="7.63" height="5.46" fill="#d5e474"/>
<rect x="57.83" y="147.95" width="7.63" height="5.46" fill="#d5e474"/>
<rect x="66.27" y="147.95" width="7.63" height="5.46" fill="#d5e474"/>
<rect x="74.70" y="147.95" width="7.63" height="5.46" fill="#d5e474"/>
<rect x="83.14" y="147.95" width="7.63" height="5.46" fill="#d5e474"/>
<rect x="91.57" y="147.95" width="7.63" height="5.46" fill="#d5e474"/>
<rect x="100.01" y="147.95" width="7.63" height="5.46" fill="#d5e474"/>
<rect x="108.44" y="147.95" width="7.63" height="5.46" fill="#d5e474"/>
<rect x="116.88" y="147.95" width="7.63" height="5.46" fill="#d5e474"/>
<rect x="125.31" y="147.95" width="7.63" height="5.46" fill="#d5e474"/>
<rect x="133.75" y="147.95" width="7.63" height="5.46" fill="#d5e474"/>
<rect x="142.18" y="147.95" width="7.63" height="5.46" fill="#d5e474"/>
<rect x="150.62" y="147.95" width="7.63" height="5.46" fill="#d5e474"/>
<rect x="159.05" y="147.95" width="7.63" height="5.46" fill="#d5e474"/>
<rect x="167.48" y="147.95" width="7.63" height="5.46" fill="#d5e474"/>
<rect x="175.92" y="147.95" width="7.63" height="5.46" fill="#d5e474"/>
<rect x="184.35" y="147.95" width="7.63" height="5.46" fill="#d5e474"/>
<rect x="192.79" y="147.95" width="7.63" height="5.46" fill="#d5e474"/>
<rect x="201.22" y="147.95" width="7.63" height="5.46" fill="#d5e474"/>
<rect x="209.66" y="147.95" width="7.63" height="5.46" fill="#d5e474"/>
<rect x="218.09" y="147.95" width="7.63" height="5.46" fill="#f0811a"/>
<rect x="226.53" y="147.95" width="7.63" height="5.46" fill="#d5e474"/>
<rect x="234.96" y="147.95" width="7.63" height="5.46" fill="#d5e474"/>
<rect x="243.40" y="147.95" width="7.63" height="5.46" fill="#d5e474"/>
<rect x="251.83" y="147.95" width="7.63" height="5.46" fill="#d5e474"/>
<rect x="260.27" y="147.95" width="7.63" height="5.46" fill="#d5e474"/>
<rect x="49.40" y="154.21" width="7.63" height="5.46" fill="#d5e474"/>
<rect x="57.83" y="154.21" width="7.63" height="5.46" fill="#d5e474"/>
<rect x="66.27" y="154.21" width="7.63" height="5.46" fill="#d5e474"/>
<rect x="74.70" y="154.21" width="7.63" height="5.46" fill="#d5e474"/>
<rect x="83.14" y="154.21" width="7.63" height="5.46" fill="#d5e474"/>
<rect x="91.57" y="154.21" width="7.63" height="5.46" fill="#d5e474"/>
<rect x="100.01" y="154.21" width="7.63" height="5.46" fill="#d5e474"/>
<rect x="108.44" y="154.21" width="7.63" height="5.46" fill="#d5e474"/>
<rect x="116.88" y="154.21" width="7.63" height="5.46" fill="#d5e474"/>
<rect x="125.31" y="154.21" width="7.63" height="5.46" fill="#d5e474"/>
<rect x="133.75" y="154.21" width="7.63" height="5.46" fill="#d5e474"/>
<rect x="142.18" y="154.21" width="7.63" height="5.46" fill="#d5e474"/>
<rect x="150.62" y="154.21" width="7.63" height="5.46" fill="#d5e474"/>
<rect x="159.05" y="154.21" width="7.63" height="5.46" fill="#d5e474"/>
<rect x="167.48" y="154.21" width="7.63" height="5.46" fill="#d5e474"/>
<rect x="175.92" y="154.21" width="7.63" height="5.46" fill="#d5e474"/>
<rect x="184.35" y="154.21" width="7.63" height="5.46" fill="#d5e474"/>
<rect x="192.79" y="154.21" width="7.63" height="5.46" fill="#d5e474"/>
<rect x="201.22" y="154.21" width="7.63" height="5.46" fill="#d5e474"/>
<rect x="209.66" y="154.21" width="7.63" height="5.46" fill="#d5e474"/>
<rect x="218.09" y="154.21" width="7.63" height="5.46" fill="#d5e474"/>
<rect x="226.53" y="154.21" width="7.63" height="5.46" fill="#f0811a"/>
<rect x="234.96" y="154.21" width="7.63" height="5.46" fill="#d5e474"/>
<rect x="243.40" y="154.21" width="7.63" height="5.46" fill="#d5e474"/>
<rect x="251.83" y="154.21" width="7.63" height="5.46" fill="#d5e474"/>
<rect x="260.27" y="154.21" width="7.63" height="5.46" fill="#d5e474"/>
<rect x="49.40" y="160.47" width="7.63" height="5.46" fill="#d5e474"/>
<rect x="57.83" y="160.47" width="7.63" height="5.46" fill="#d5e474"/>
<rect x="66.27" y="160.47" width="7.63" height="5.46" fill="#d5e474"/>
<rect x="74.70" y="160.47" width="7.63" height="5.46" fill="#d5e474"/>
<rect x="83.14" y="160.47" width="7.63" height="5.46" fill="#d5e474"/>
<rect x="91.57" y="160.47" width="7.63" height="5.46" fill="#d5e474"/>
<rect x="100.01" y="160.47" width="7.63" height="5.46" fill="#d5e474"/>
<rect x="108.44" y="160.47" width="7.63" height="5.46" fill="#d5e474"/>
<rect x="116.88" y="160.47" width="7.63" height="5.46" fill="#d5e474"/>
<rect x="125.31" y="160.47" width="7.63" height="5.46" fill="#d5e474"/>
<rect x="133.75" y="160.47" width="7.63" height="5.46" fill="#d5e474"/>
<rect x="142.18" y="160.47" width="7.63" height="5.46" fill="#d5e474"/>
<rect x="150.62" y="160.47" width="7.63" height="5.46" fill="#d5e474"/>
<rect x="159.05" y="160.47" width="7.63" height="5.46" fill="#d5e474"/>
<rect x="167.48" y="160.47" width="7.63" height="5.46" fill="#d5e474"/>
<rect x="175.92" y="160.47" width="7.63" height="5.46" fill="#d5e474"/>
<rect x="184.35" y="160.47" width="7.63" height="5.46" fill="#d5e474"/>
<rect x="192.79" y="160.47" width="7.63" height="5.46" fill="#d5e474"/>
<rect x="201.22" y="160.47" width="7.63" height="5.46" fill="#d5e474"/>
<rect x="209.66" y="160.47" width="7.63" height="5.46" fill="#d5e474"/>
<rect x="218.09" y="160.47" width="7.63" height="5.46" fill="#d5e474"/>
<rect x="226.53" y="160.47" width="7.63" height="5.46" fill="#d5e474"/>
<rect x="234.96" y="160.47" width="7.63" height="5.46" fill="#f0811a"/>
<rect x="243.40" y="160.47" width="7.63" height="5.46" fill="#d5e474"/>
<rect x="251.83" y="160.47" width="7.63" height="5.46" fill="#d5e474"/>
<rect x="260.27" y="160.47" width="7.63" height="5.46" fill="#d5e474"/>
<rect x="49.40" y="166.73" width="7.63" height="5.46" fill="#d5e474"/>
<rect x="57.83" y="166.73" width="7.63" height="5.46" fill="#d5e474"/>
<rect x="66.27" y="166.73" width="7.63" height="5.46" fill="#d5e474"/>
<rect x="74.70" y="166.73" width="7.63" height="5.46" fill="#d5e474"/>
<rect x="83.14" y="166.73" width="7.63" height="5.46" fill="#d5e474"/>
<rect x="91.57" y="166.73" width="7.63" height="5.46" fill="#d5e474"/>
<rect x="100.01" y="166.73" width="7.63" height="5.46" fill="#d5e474"/>
<rect x="108.44" y="166.73" width="7.63" height="5.46" fill="#d5e474"/>
<rect x="116.88" y="166.73" width="7.63" height="5.46" fill="#d5e474"/>
<rect x="125.31" y="166.73" width="7.63" height="5.46" fill="#d5e474"/>
<rect x="133.75" y="166.73" width="7.63" height="5.46" fill="#d5e474"/>
<rect x="142.18" y="166.73" width="7.63" height="5.46" fill="#d5e474"/>
<rect x="150.62" y="166.73" width="7.63" height="5.46" fill="#d5e474"/>
<rect x="159.05" y="166.73" width="7.63" height="5.46" fill="#d5e474"/>
<rect x="167.48" y="166.73" width="7.63" height="5.46" fill="#d5e474"/>
<rect x="175.92" y="166.73" width="7.63" height="5.46" fill="#d5e474"/>
<rect x="184.35" y="166.73" width="7.63" height="5.46" fill="#d5e474"/>
<rect x="192.79" y="166.73" width="7.63" height="5.46" fill="#d5e474"/>
<rect x="201.22" y="166.73" width="7.63" height="5.46" fill="#d5e474"/>
<rect x="209.66" y="166.73" width="7.63" height="5.46" fill="#d5e474"/>
<rect x="218.09" y="166.73" width="7.63" height="5.46" fill="#d5e474"/>
<rect x="226.53" y="166.73" width="7.63" height="5.46" fill="#d5e474"/>
<rect x="234.96" y="166.73" width="7.63" height="5.46" fill="#d5e474"/>
<rect x="243.40" y="166.73" width="7.63" height="5.46" fill="#f0811a"/>
<rect x="251.83" y="166.73" width="7.63" height="5.46" fill="#d5e474"/>
<rect x="260.27" y="166.73" width="7.63" height="5.46" fill="#d5e474"/>
<rect x="49.40" y="172.98" width="7.63" height="5.46" fill="#d5e474"/>
<rect x="57.83" y="172.98" width="7.63" height="5.46" fill="#d5e474"/>
<rect x="66.27" y="172.98" width="7.63" height="5.46" fill="#d5e474"/>
<rect x="74.70" y="172.98" width="7.63" height="5.46" fill="#d5e474"/>
<rect x="83.14" y="172.98" width="7.63" height="5.46" fill="#d5e474"/>
<rect x="91.57" y="172.98" width="7.63" height="5.46" fill="#d5e474"/>
<rect x="100.01" y="172.98" width="7.63" height="5.46" fill="#d5e474"/>
<rect x="108.44" y="172.98" width="7.63" height="5.46" fill="#d5e474"/>
<rect x="116.88" y="172.98" width="7.63" height="5.46" fill="#d5e474"/>
<rect x="125.31" y="172.98" width="7.63" height="5.46" fill="#d5e474"/>
<rect x="133.75" y="172.98" width="7.63" height="5.46" fill="#d5e474"/>
<rect x="142.18" y="172.98" width="7.63" height="5.46" fill="#d5e474"/>
<rect x="150.62" y="172.98" width="7.63" height="5.46" fill="#d5e474"/>
<rect x="159.05" y="172.98" width="7.63" height="5.46" fill="#d5e474"/>
<rect x="167.48" y="172.98" width="7.63" height="5.46" fill="#d5e474"/>
<rect x="175.92" y="172.98" width="7.63" height="5.46" fill="#d5e474"/>
<rect x="184.35" y="172.98" width="7.63" height="5.46" fill="#d5e474"/>
<rect x="192.79" y="172.98" width="7.63" height="5.46" fill="#d5e474"/>
<rect x="201.22" y="172.98" width="7.63" height="5.46" fill="#d5e474"/>
<rect x="209.66" y="172.98" width="7.63" height="5.46" fill="#d5e474"/>
<rect x="218.09" y="172.98" width="7.63" height="5.46" fill="#d5e474"/>
<rect x="226.53" y="172.98" width="7.63" height="5.46" fill="#d5e474"/>
<rect x="234.96" y="172.98" width="7.63" height="5.46" fill="#d5e474"/>
<rect x="243.40" y="172.98" width="7.63" height="5.46" fill="#d5e474"/>
<rect x="251.83" y="172.98" width="7.63" height="5.46" fill="#f0811a"/>
<rect x="260.27" y="172.98" width="7.63" height="5.46" fill="#d5e474"/>
<rect x="49.40" y="179.24" width="7.63" height="5.46" fill="#d5e474"/>
<rect x="57.83" y="179.24" width="7.63" height="5.46" fill="#d5e474"/>
<rect x="66.27" y="179.24" width="7.63" height="5.46" fill="#d5e474"/>
<rect x="74.70" y="179.24" width="7.63" height="5.46" fill="#d5e474"/>
<rect x="83.14" y="179.24" width="7.63" height="5.46" fill="#d5e474"/>
<rect x="91.57" y="179.24" width="7.63" height="5.46" fill="#d5e474"/>
<rect x="100.01" y="179.24" width="7.63" height="5.46" fill="#d5e474"/>
<rect x="108.44" y="179.24" width="7.63" height="5.46" fill="#d5e474"/>
<rect x="116.88" y="179.24" width="7.63" height="5.46" fill="#d5e474"/>
<rect x="125.31" y="179.24" width="7.63" height="5.46" fill="#d5e474"/>
<rect x="133.75" y="179.24" width="7.63" height="5.46" fill="#edde41"/>
<rect x="142.18" y="179.24" width="7.63" height="5.46" fill="#d5e474"/>
<rect x="150.62" y="179.24" width="7.63" height="5.46" fill="#d5e474"/>
<rect x="159.05" y="179.24" width="7.63" height="5.46" fill="#d5e474"/>
<rect x="167.48" y="179.24" width="7.63" height="5.46" fill="#d5e474"/>
<rect x="175.92" y="179.24" width="7.63" height="5.46" fill="#edde41"/>
<rect x="184.35" y="179.24" width="7.63" height="5.46" fill="#d5e474"/>
<rect x="192.79" y="179.24" width="7.63" height="5.46" fill="#d5e474"/>
<rect x="201.22" y="179.24" width="7.63" height="5.46" fill="#d5e474"/>
<rect x="209.66" y="179.24" width="7.63" height="5.46" fill="#d5e474"/>
<rect x="218.09" y="179.24" width="7.63" height="5.46" fill="#d5e474"/>
<rect x="226.53" y="179.24" width="7.63" height="5.46" fill="#f4d932"/>
<rect x="234.96" y="179.24" width="7.63" height="5.46" fill="#d5e474"/>
<rect x="243.40" y="179.24" width="7.63" height="5.46" fill="#edde41"/>
<rect x="251.83" y="179.24" width="7.63" height="5.46" fill="#e8df4b"/>
<rect x="260.27" y="179.24" width="7.63" height="5.46" fill="#d5e474"/>
</g>
<g class="yl" transform="rotate(0.05 29 104)">
<text x="44.70" y="27.63">a (n=26916)</text>
<text x="44.70" y="33.89">b (n=5171)</text>
<text x="44.70" y="40.14">c (n=10282)</text>
<text x="44.70" y="46.40">d (n=12903)</text>
<text x="44.70" y="52.66">e (n=39554)</text>
<text x="44.70" y="58.92">f (n=7203)</text>
<text x="44.70" y="65.17">g (n=6124)</text>
<text x="44.70" y="71.43">h (n=16110)</text>
<text x="44.70" y="77.69">i (n=22698)</text>
<text x="44.70" y="83.95">j (n=837)</text>
<text x="44.70" y="90.21">k (n=2357)</text>
<text x="44.70" y="96.46">l (n=13602)</text>
<text x="44.70" y="102.72">m (n=8511)</text>
<text x="44.70" y="108.98">n (n=23022)</text>
<text x="44.70" y="115.24">o (n=23712)</text>
<text x="44.70" y="121.49">p (n=6494)</text>
<text x="44.70" y="127.75">q (n=278)</text>
<text x="44.70" y="134.01">r (n=21010)</text>
<text x="44.70" y="140.27">s (n=21178)</text>
<text x="44.70" y="146.53">t (n=28966)</text>
<text x="44.70" y="152.78">u (n=8039)</text>
<text x="44.70" y="159.04">v (n=3160)</text>
<text x="44.70" y="165.30">w (n=5592)</text>
<text x="44.70" y="171.56">x (n=668)</text>
<text x="44.70" y="177.81">y (n=5354)</text>
<text x="44.70" y="184.07">z (n=255)</text>
</g><g class="xl" transform="rotate(0.05 159 194)">
<text x="53.22" y="194.50">a</text>
<text x="61.65" y="194.50">b</text>
<text x="70.09" y="194.50">c</text>
<text x="78.52" y="194.50">d</text>
<text x="86.96" y="194.50">e</text>
<text x="95.39" y="194.50">f</text>
<text x="103.82" y="194.50">g</text>
<text x="112.26" y="194.50">h</text>
<text x="120.69" y="194.50">i</text>
<text x="129.13" y="194.50">j</text>
<text x="137.56" y="194.50">k</text>
<text x="146.00" y="194.50">l</text>
<text x="154.43" y="194.50">m</text>
<text x="162.87" y="194.50">n</text>
<text x="171.30" y="194.50">o</text>
<text x="179.74" y="194.50">p</text>
<text x="188.17" y="194.50">q</text>
<text x="196.61" y="194.50">r</text>
<text x="205.04" y="194.50">s</text>
<text x="213.47" y="194.50">t</text>
<text x="221.91" y="194.50">u</text>
<text x="230.34" y="194.50">v</text>
<text x="238.78" y="194.50">w</text>
<text x="247.21" y="194.50">x</text>
<text x="255.65" y="194.50">y</text>
<text x="264.08" y="194.50">z</text>
</g>
<text class="ti" x="145.20" y="14.00" transform="rotate(0.05 145 14)">Caesar</text>
<text class="ca" x="148.30" y="210.40" transform="rotate(0.05 148 210)">Weighted F<tspan class="os">1</tspan>-score: <tspan class="os">0</tspan>.<tspan dy="1.9">9</tspan>7</text>
<g filter="url(#bl)">
<rect x="319.80" y="21.20" width="221.40" height="164.30" fill="#ffffff"/>
<rect x="320.20" y="21.60" width="7.72" height="5.52" fill="#f0811a"/>
<rect x="328.72" y="21.60" width="7.72" height="5.52" fill="#d5e474"/>
<rect x="337.23" y="21.60" width="7.72" height="5.52" fill="#d5e474"/>
<rect x="345.75" y="21.60" width="7.72" height="5.52" fill="#d5e474"/>
<rect x="354.26" y="21.60" width="7.72" height="5.52" fill="#d5e474"/>
<rect x="362.78" y="21.60" width="7.72" height="5.52" fill="#d5e474"/>
<rect x="371.29" y="21.60" width="7.72" height="5.52" fill="#d5e474"/>
<rect x="379.81" y="21.60" width="7.72" height="5.52" fill="#d5e474"/>
<rect x="388.32" y="21.60" width="7.72" height="5.52" fill="#d5e474"/>
<rect x="396.84" y="21.60" width="7.72" height="5.52" fill="#d5e474"/>
<rect x="405.35" y="21.60" width="7.72" height="5.52" fill="#d5e474"/>
<rect x="413.87" y="21.60" width="7.72" height="5.52" fill="#d5e474"/>
<rect x="422.38" y="21.60" width="7.72" height="5.52" fill="#d5e474"/>
<rect x="430.90" y="21.60" width="7.72" height="5.52" fill="#d5e474"/>
<rect x="439.42" y="21.60" width="7.72" height="5.52" fill="#d5e474"/>
<rect x="447.93" y="21.60" width="7.72" height="5.52" fill="#d5e474"/>
<rect x="456.45" y="21.60" width="7.72" height="5.52" fill="#d5e474"/>
<rect x="464.96" y="21.60" width="7.72" height="5.52" fill="#d5e474"/>
<rect x="473.48" y="21.60" width="7.72" height="5.52" fill="#d5e474"/>
<rect x="481.99" y="21.60" width="7.72" height="5.52" fill="#d5e474"/>
<rect x="490.51" y="21.60" width="7.72" height="5.52" fill="#d5e474"/>
<rect x="499.02" y="21.60" width="7.72" height="5.52" fill="#d5e474"/>
<rect x="507.54" y="21.60" width="7.72" height="5.52" fill="#d5e474"/>
<rect x="516.05" y="21.60" width="7.72" height="5.52" fill="#d5e474"/>
<rect x="524.57" y="21.60" width="7.72" height="5.52" fill="#d5e474"/>
<rect x="533.08" y="21.60" width="7.72" height="5.52" fill="#d5e474"/>
<rect x="320.20" y="27.92" width="7.72" height="5.52" fill="#d5e474"/>
<rect x="328.72" y="27.92" width="7.72" height="5.52" fill="#d5e474"/>
<rect x="337.23" y="27.92" width="7.72" height="5.52" fill="#d5e474"/>
<rect x="345.75" y="27.92" width="7.72" height="5.52" fill="#f3dc34"/>
<rect x="354.26" y="27.92" width="7.72" height="5.52" fill="#d5e474"/>
<rect x="362.78" y="27.92" width="7.72" height="5.52" fill="#d5e474"/>
<rect x="371.29" y="27.92" width="7.72" height="5.52" fill="#d5e474"/>
<rect x="379.81" y="27.92" width="7.72" height="5.52" fill="#d5e474"/>
<rect x="388.32" y="27.92" width="7.72" height="5.52" fill="#d5e474"/>
<rect x="396.84" y="27.92" width="7.72" height="5.52" fill="#d5e474"/>
<rect x="405.35" y="27.92" width="7.72" height="5.52" fill="#d5e474"/>
<rect x="413.87" y="27.92" width="7.72" height="5.52" fill="#d5e474"/>
<rect x="422.38" y="27.92" width="7.72" height="5.52" fill="#d5e474"/>
<rect x="430.90" y="27.92" width="7.72" height="5.52" fill="#d5e474"/>
<rect x="439.42" y="27.92" width="7.72" height="5.52" fill="#d5e474"/>
<rect x="447.93" y="27.92" width="7.72" height="5.52" fill="#d5e474"/>
<rect x="456.45" y="27.92" width="7.72" height="5.52" fill="#d5e474"/>
<rect x="464.96" y="27.92" width="7.72" height="5.52" fill="#d5e474"/>
<rect x="473.48" y="27.92" width="7.72" height="5.52" fill="#d5e474"/>
<rect x="481.99" y="27.92" width="7.72" height="5.52" fill="#d5e474"/>
<rect x="490.51" y="27.92" width="7.72" height="5.52" fill="#d5e474"/>
<rect x="499.02" y="27.92" width="7.72" height="5.52" fill="#d5e474"/>
<rect x="507.54" y="27.92" width="7.72" height="5.52" fill="#fbb91a"/>
<rect x="516.05" y="27.92" width="7.72" height="5.52" fill="#d5e474"/>
<rect x="524.57" y="27.92" width="7.72" height="5.52" fill="#f3dc34"/>
<rect x="533.08" y="27.92" width="7.72" height="5.52" fill="#d5e474"/>
<rect x="320.20" y="34.24" width="7.72" height="5.52" fill="#d5e474"/>
<rect x="328.72" y="34.24" width="7.72" height="5.52" fill="#d5e474"/>
<rect x="337.23" y="34.24" width="7.72" height="5.52" fill="#f0811a"/>
<rect x="345.75" y="34.24" width="7.72" height="5.52" fill="#d5e474"/>
<rect x="354.26" y="34.24" width="7.72" height="5.52" fill="#d5e474"/>
<rect x="362.78" y="34.24" width="7.72" height="5.52" fill="#d5e474"/>
<rect x="371.29" y="34.24" width="7.72" height="5.52" fill="#d5e474"/>
<rect x="379.81" y="34.24" width="7.72" height="5.52" fill="#d5e474"/>
<rect x="388.32" y="34.24" width="7.72" height="5.52" fill="#d5e474"/>
<rect x="396.84" y="34.24" width="7.72" height="5.52" fill="#d5e474"/>
<rect x="405.35" y="34.24" width="7.72" height="5.52" fill="#d5e474"/>
<rect x="413.87" y="34.24" width="7.72" height="5.52" fill="#d5e474"/>
<rect x="422.38" y="34.24" width="7.72" height="5.52" fill="#d5e474"/>
<rect x="430.90" y="34.24" width="7.72" height="5.52" fill="#d5e474"/>
<rect x="439.42" y="34.24" width="7.72" height="5.52" fill="#d5e474"/>
<rect x="447.93" y="34.24" width="7.72" height="5.52" fill="#d5e474"/>
<rect x="456.45" y="34.24" width="7.72" height="5.52" fill="#d5e474"/>
<rect x="464.96" y="34.24" width="7.72" height="5.52" fill="#d5e474"/>
<rect x="473.48" y="34.24" width="7.72" height="5.52" fill="#d5e474"/>
<rect x="481.99" y="34.24" width="7.72" height="5.52" fill="#d5e474"/>
<rect x="490.51" y="34.24" width="7.72" height="5.52" fill="#d5e474"/>
<rect x="499.02" y="34.24" width="7.72" height="5.52" fill="#d5e474"/>
<rect x="507.54" y="34.24" width="7.72" height="5.52" fill="#d5e474"/>
<rect x="516.05" y="34.24" width="7.72" height="5.52" fill="#d5e474"/>
<rect x="524.57" y="34.24" width="7.72" height="5.52" fill="#d5e474"/>
<rect x="533.08" y="34.24" width="7.72" height="5.52" fill="#d5e474"/>
<rect x="320.20" y="40.56" width="7.72" height="5.52" fill="#d5e474"/>
<rect x="328.72" y="40.56" width="7.72" height="5.52" fill="#d5e474"/>
<rect x="337.23" y="40.56" width="7.72" height="5.52" fill="#d5e474"/>
<rect x="345.75" y="40.56" width="7.72" height="5.52" fill="#f0811a"/>
<rect x="354.26" y="40.56" width="7.72" height="5.52" fill="#d5e474"/>
<rect x="362.78" y="40.56" width="7.72" height="5.52" fill="#d5e474"/>
<rect x="371.29" y="40.56" width="7.72" height="5.52" fill="#d5e474"/>
<rect x="379.81" y="40.56" width="7.72" height="5.52" fill="#d5e474"/>
<rect x="388.32" y="40.56" width="7.72" height="5.52" fill="#d5e474"/>
<rect x="396.84" y="40.56" width="7.72" height="5.52" fill="#d5e474"/>
<rect x="405.35" y="40.56" width="7.72" height="5.52" fill="#d5e474"/>
<rect x="413.87" y="40.56" width="7.72" height="5.52" fill="#d5e474"/>
<rect x="422.38" y="40.56" width="7.72" height="5.52" fill="#d5e474"/>
<rect x="430.90" y="40.56" width="7.72" height="5.52" fill="#d5e474"/>
<rect x="439.42" y="40.56" width="7.72" height="5.52" fill="#d5e474"/>
<rect x="447.93" y="40.56" width="7.72" height="5.52" fill="#d5e474"/>
<rect x="456.45" y="40.56" width="7.72" height="5.52" fill="#d5e474"/>
<rect x="464.96" y="40.56" width="7.72" height="5.52" fill="#d5e474"/>
<rect x="473.48" y="40.56" width="7.72" height="5.52" fill="#d5e474"/>
<rect x="481.99" y="40.56" width="7.72" height="5.52" fill="#d5e474"/>
<rect x="490.51" y="40.56" width="7.72" height="5.52" fill="#d5e474"/>
<rect x="499.02" y="40.56" width="7.72" height="5.52" fill="#d5e474"/>
<rect x="507.54" y="40.56" width="7.72" height="5.52" fill="#d5e474"/>
<rect x="516.05" y="40.56" width="7.72" height="5.52" fill="#d5e474"/>
<rect x="524.57" y="40.56" width="7.72" height="5.52" fill="#d5e474"/>
<rect x="533.08" y="40.56" width="7.72" height="5.52" fill="#d5e474"/>
<rect x="320.20" y="46.88" width="7.72" height="5.52" fill="#d5e474"/>
<rect x="328.72" y="46.88" width="7.72" height="5.52" fill="#d5e474"/>
<rect x="337.23" y="46.88" width="7.72" height="5.52" fill="#d5e474"/>
<rect x="345.75" y="46.88" width="7.72" height="5.52" fill="#d5e474"/>
<rect x="354.26" y="46.88" width="7.72" height="5.52" fill="#f0811a"/>
<rect x="362.78" y="46.88" width="7.72" height="5.52" fill="#d5e474"/>
<rect x="371.29" y="46.88" width="7.72" height="5.52" fill="#d5e474"/>
<rect x="379.81" y="46.88" width="7.72" height="5.52" fill="#d5e474"/>
<rect x="388.32" y="46.88" width="7.72" height="5.52" fill="#d5e474"/>
<rect x="396.84" y="46.88" width="7.72" height="5.52" fill="#d5e474"/>
<rect x="405.35" y="46.88" width="7.72" height="5.52" fill="#d5e474"/>
<rect x="413.87" y="46.88" width="7.72" height="5.52" fill="#d5e474"/>
<rect x="422.38" y="46.88" width="7.72" height="5.52" fill="#d5e474"/>
<rect x="430.90" y="46.88" width="7.72" height="5.52" fill="#d5e474"/>
<rect x="439.42" y="46.88" width="7.72" height="5.52" fill="#d5e474"/>
<rect x="447.93" y="46.88" width="7.72" height="5.52" fill="#d5e474"/>
<rect x="456.45" y="46.88" width="7.72" height="5.52" fill="#d5e474"/>
<rect x="464.96" y="46.88" width="7.72" height="5.52" fill="#d5e474"/>
<rect x="473.48" y="46.88" width="7.72" height="5.52" fill="#d5e474"/>
<rect x="481.99" y="46.88" width="7.72" height="5.52" fill="#d5e474"/>
<rect x="490.51" y="46.88" width="7.72" height="5.52" fill="#d5e474"/>
<rect x="499.02" y="46.88" width="7.72" height="5.52" fill="#d5e474"/>
<rect x="507.54" y="46.88" width="7.72" height="5.52" fill="#d5e474"/>
<rect x="516.05" y="46.88" width="7.72" height="5.52" fill="#d5e474"/>
<rect x="524.57" y="46.88" width="7.72" height="5.52" fill="#d5e474"/>
<rect x="533.08" y="46.88" width="7.72" height="5.52" fill="#d5e474"/>
<rect x="320.20" y="53.20" width="7.72" height="5.52" fill="#d5e474"/>
<rect x="328.72" y="53.20" width="7.72" height="5.52" fill="#d5e474"/>
<rect x="337.23" y="53.20" width="7.72" height="5.52" fill="#d5e474"/>
<rect x="345.75" y="53.20" width="7.72" height="5.52" fill="#d5e474"/>
<rect x="354.26" y="53.20" width="7.72" height="5.52" fill="#d5e474"/>
<rect x="362.78" y="53.20" width="7.72" height="5.52" fill="#f0811a"/>
<rect x="371.29" y="53.20" width="7.72" height="5.52" fill="#d5e474"/>
<rect x="379.81" y="53.20" width="7.72" height="5.52" fill="#d5e474"/>
<rect x="388.32" y="53.20" width="7.72" height="5.52" fill="#d5e474"/>
<rect x="396.84" y="53.20" width="7.72" height="5.52" fill="#d5e474"/>
<rect x="405.35" y="53.20" width="7.72" height="5.52" fill="#d5e474"/>
<rect x="413.87" y="53.20" width="7.72" height="5.52" fill="#d5e474"/>
<rect x="422.38" y="53.20" width="7.72" height="5.52" fill="#d5e474"/>
<rect x="430.90" y="53.20" width="7.72" height="5.52" fill="#d5e474"/>
<rect x="439.42" y="53.20" width="7.72" height="5.52" fill="#d5e474"/>
<rect x="447.93" y="53.20" width="7.72" height="5.52" fill="#d5e474"/>
<rect x="456.45" y="53.20" width="7.72" height="5.52" fill="#d5e474"/>
<rect x="464.96" y="53.20" width="7.72" height="5.52" fill="#d5e474"/>
<rect x="473.48" y="53.20" width="7.72" height="5.52" fill="#d5e474"/>
<rect x="481.99" y="53.20" width="7.72" height="5.52" fill="#d5e474"/>
<rect x="490.51" y="53.20" width="7.72" height="5.52" fill="#d5e474"/>
<rect x="499.02" y="53.20" width="7.72" height="5.52" fill="#d5e474"/>
<rect x="507.54" y="53.20" width="7.72" height="5.52" fill="#d5e474"/>
<rect x="516.05" y="53.20" width="7.72" height="5.52" fill="#d5e474"/>
<rect x="524.57" y="53.20" width="7.72" height="5.52" fill="#d5e474"/>
<rect x="533.08" y="53.20" width="7.72" height="5.52" fill="#d5e474"/>
<rect x="320.20" y="59.52" width="7.72" height="5.52" fill="#d5e474"/>
<rect x="328.72" y="59.52" width="7.72" height="5.52" fill="#d5e474"/>
<rect x="337.23" y="59.52" width="7.72" height="5.52" fill="#d5e474"/>
<rect x="345.75" y="59.52" width="7.72" height="5.52" fill="#d5e474"/>
<rect x="354.26" y="59.52" width="7.72" height="5.52" fill="#d5e474"/>
<rect x="362.78" y="59.52" width="7.72" height="5.52" fill="#d5e474"/>
<rect x="371.29" y="59.52" width="7.72" height="5.52" fill="#f0811a"/>
<rect x="379.81" y="59.52" width="7.72" height="5.52" fill="#d5e474"/>
<rect x="388.32" y="59.52" width="7.72" height="5.52" fill="#d5e474"/>
<rect x="396.84" y="59.52" width="7.72" height="5.52" fill="#d5e474"/>
<rect x="405.35" y="59.52" width="7.72" height="5.52" fill="#d5e474"/>
<rect x="413.87" y="59.52" width="7.72" height="5.52" fill="#d5e474"/>
<rect x="422.38" y="59.52" width="7.72" height="5.52" fill="#d5e474"/>
<rect x="430.90" y="59.52" width="7.72" height="5.52" fill="#d5e474"/>
<rect x="439.42" y="59.52" width="7.72" height="5.52" fill="#d5e474"/>
<rect x="447.93" y="59.52" width="7.72" height="5.52" fill="#d5e474"/>
<rect x="456.45" y="59.52" width="7.72" height="5.52" fill="#d5e474"/>
<rect x="464.96" y="59.52" width="7.72" height="5.52" fill="#d5e474"/>
<rect x="473.48" y="59.52" width="7.72" height="5.52" fill="#d5e474"/>
<rect x="481.99" y="59.52" width="7.72" height="5.52" fill="#d5e474"/>
<rect x="490.51" y="59.52" width="7.72" height="5.52" fill="#d5e474"/>
<rect x="499.02" y="59.52" width="7.72" height="5.52" fill="#d5e474"/>
<rect x="507.54" y="59.52" width="7.72" height="5.52" fill="#d5e474"/>
<rect x="516.05" y="59.52" width="7.72" height="5.52" fill="#d5e474"/>
<rect x="524.57" y="59.52" width="7.72" height="5.52" fill="#d5e474"/>
<rect x="533.08" y="59.52" width="7.72" height="5.52" fill="#d5e474"/>
<rect x="320.20" y="65.83" width="7.72" height="5.52" fill="#d5e474"/>
<rect x="328.72" y="65.83" width="7.72" height="5.52" fill="#d5e474"/>
<rect x="337.23" y="65.83" width="7.72" height="5.52" fill="#d5e474"/>
<rect x="345.75" y="65.83" width="7.72" height="5.52" fill="#d5e474"/>
<rect x="354.26" y="65.83" width="7.72" height="5.52" fill="#d5e474"/>
<rect x="362.78" y="65.83" width="7.72" height="5.52" fill="#d5e474"/>
<rect x="371.29" y="65.83" width="7.72" height="5.52" fill="#d5e474"/>
<rect x="379.81" y="65.83" width="7.72" height="5.52" fill="#f0811a"/>
<rect x="388.32" y="65.83" width="7.72" height="5.52" fill="#d5e474"/>
<rect x="396.84" y="65.83" width="7.72" height="5.52" fill="#d5e474"/>
<rect x="405.35" y="65.83" width="7.72" height="5.52" fill="#d5e474"/>
<rect x="413.87" y="65.83" width="7.72" height="5.52" fill="#d5e474"/>
<rect x="422.38" y="65.83" width="7.72" height="5.52" fill="#d5e474"/>
<rect x="430.90" y="65.83" width="7.72" height="5.52" fill="#d5e474"/>
<rect x="439.42" y="65.83" width="7.72" height="5.52" fill="#d5e474"/>
<rect x="447.93" y="65.83" width="7.72" height="5.52" fill="#d5e474"/>
<rect x="456.45" y="65.83" width="7.72" height="5.52" fill="#d5e474"/>
<rect x="464.96" y="65.83" width="7.72" height="5.52" fill="#d5e474"/>
<rect x="473.48" y="65.83" width="7.72" height="5.52" fill="#d5e474"/>
<rect x="481.99" y="65.83" width="7.72" height="5.52" fill="#d5e474"/>
<rect x="490.51" y="65.83" width="7.72" height="5.52" fill="#d5e474"/>
<rect x="499.02" y="65.83" width="7.72" height="5.52" fill="#d5e474"/>
<rect x="507.54" y="65.83" width="7.72" height="5.52" fill="#d5e474"/>
<rect x="516.05" y="65.83" width="7.72" height="5.52" fill="#d5e474"/>
<rect x="524.57" y="65.83" width="7.72" height="5.52" fill="#d5e474"/>
<rect x="533.08" y="65.83" width="7.72" height="5.52" fill="#d5e474"/>
<rect x="320.20" y="72.15" width="7.72" height="5.52" fill="#d5e474"/>
<rect x="328.72" y="72.15" width="7.72" height="5.52" fill="#d5e474"/>
<rect x="337.23" y="72.15" width="7.72" height="5.52" fill="#d5e474"/>
<rect x="345.75" y="72.15" width="7.72" height="5.52" fill="#d5e474"/>
<rect x="354.26" y="72.15" width="7.72" height="5.52" fill="#d5e474"/>
<rect x="362.78" y="72.15" width="7.72" height="5.52" fill="#d5e474"/>
<rect x="371.29" y="72.15" width="7.72" height="5.52" fill="#d5e474"/>
<rect x="379.81" y="72.15" width="7.72" height="5.52" fill="#d5e474"/>
<rect x="388.32" y="72.15" width="7.72" height="5.52" fill="#f0811a"/>
<rect x="396.84" y="72.15" width="7.72" height="5.52" fill="#d5e474"/>
<rect x="405.35" y="72.15" width="7.72" height="5.52" fill="#d5e474"/>
<rect x="413.87" y="72.15" width="7.72" height="5.52" fill="#d5e474"/>
<rect x="422.38" y="72.15" width="7.72" height="5.52" fill="#d5e474"/>
<rect x="430.90" y="72.15" width="7.72" height="5.52" fill="#d5e474"/>
<rect x="439.42" y="72.15" width="7.72" height="5.52" fill="#d5e474"/>
<rect x="447.93" y="72.15" width="7.72" height="5.52" fill="#d5e474"/>
<rect x="456.45" y="72.15" width="7.72" height="5.52" fill="#d5e474"/>
<rect x="464.96" y="72.15" width="7.72" height="5.52" fill="#d5e474"/>
<rect x="473.48" y="72.15" width="7.72" height="5.52" fill="#d5e474"/>
<rect x="481.99" y="72.15" width="7.72" height="5.52" fill="#d5e474"/>
<rect x="490.51" y="72.15" width="7.72" height="5.52" fill="#d5e474"/>
<rect x="499.02" y="72.15" width="7.72" height="5.52" fill="#d5e474"/>
<rect x="507.54" y="72.15" width="7.72" height="5.52" fill="#d5e474"/>
<rect x="516.05" y="72.15" width="7.72" height="5.52" fill="#d5e474"/>
<rect x="524.57" y="72.15" width="7.72" height="5.52" fill="#d5e474"/>
<rect x="533.08" y="72.15" width="7.72" height="5.52" fill="#d5e474"/>
<rect x="320.20" y="78.47" width="7.72" height="5.52" fill="#d5e474"/>
<rect x="328.72" y="78.47" width="7.72" height="5.52" fill="#d5e474"/>
<rect x="337.23" y="78.47" width="7.72" height="5.52" fill="#e1e15a"/>
<rect x="345.75" y="78.47" width="7.72" height="5.52" fill="#d5e474"/>
<rect x="354.26" y="78.47" width="7.72" height="5.52" fill="#d5e474"/>
<rect x="362.78" y="78.47" width="7.72" height="5.52" fill="#d5e474"/>
<rect x="371.29" y="78.47" width="7.72" height="5.52" fill="#d5e474"/>
<rect x="379.81" y="78.47" width="7.72" height="5.52" fill="#d5e474"/>
<rect x="388.32" y="78.47" width="7.72" height="5.52" fill="#d5e474"/>
<rect x="396.84" y="78.47" width="7.72" height="5.52" fill="#edde41"/>
<rect x="405.35" y="78.47" width="7.72" height="5.52" fill="#d5e474"/>
<rect x="413.87" y="78.47" width="7.72" height="5.52" fill="#d5e474"/>
<rect x="422.38" y="78.47" width="7.72" height="5.52" fill="#f5d52f"/>
<rect x="430.90" y="78.47" width="7.72" height="5.52" fill="#d5e474"/>
<rect x="439.42" y="78.47" width="7.72" height="5.52" fill="#d5e474"/>
<rect x="447.93" y="78.47" width="7.72" height="5.52" fill="#d5e474"/>
<rect x="456.45" y="78.47" width="7.72" height="5.52" fill="#d5e474"/>
<rect x="464.96" y="78.47" width="7.72" height="5.52" fill="#d5e474"/>
<rect x="473.48" y="78.47" width="7.72" height="5.52" fill="#d5e474"/>
<rect x="481.99" y="78.47" width="7.72" height="5.52" fill="#d5e474"/>
<rect x="490.51" y="78.47" width="7.72" height="5.52" fill="#d5e474"/>
<rect x="499.02" y="78.47" width="7.72" height="5.52" fill="#d5e474"/>
<rect x="507.54" y="78.47" width="7.72" height="5.52" fill="#f3dc34"/>
<rect x="516.05" y="78.47" width="7.72" height="5.52" fill="#d5e474"/>
<rect x="524.57" y="78.47" width="7.72" height="5.52" fill="#f5d52f"/>
<rect x="533.08" y="78.47" width="7.72" height="5.52" fill="#d5e474"/>
<rect x="320.20" y="84.79" width="7.72" height="5.52" fill="#d5e474"/>
<rect x="328.72" y="84.79" width="7.72" height="5.52" fill="#d5e474"/>
<rect x="337.23" y="84.79" width="7.72" height="5.52" fill="#d5e474"/>
<rect x="345.75" y="84.79" width="7.72" height="5.52" fill="#dde262"/>
<rect x="354.26" y="84.79" width="7.72" height="5.52" fill="#d5e474"/>
<rect x="362.78" y="84.79" width="7.72" height="5.52" fill="#d5e474"/>
<rect x="371.29" y="84.79" width="7.72" height="5.52" fill="#d5e474"/>
<rect x="379.81" y="84.79" width="7.72" height="5.52" fill="#d5e474"/>
<rect x="388.32" y="84.79" width="7.72" height="5.52" fill="#d5e474"/>
<rect x="396.84" y="84.79" width="7.72" height="5.52" fill="#d5e474"/>
<rect x="405.35" y="84.79" width="7.72" height="5.52" fill="#f4d932"/>
<rect x="413.87" y="84.79" width="7.72" height="5.52" fill="#d5e474"/>
<rect x="422.38" y="84.79" width="7.72" height="5.52" fill="#edde41"/>
<rect x="430.90" y="84.79" width="7.72" height="5.52" fill="#d5e474"/>
<rect x="439.42" y="84.79" width="7.72" height="5.52" fill="#d5e474"/>
<rect x="447.93" y="84.79" width="7.72" height="5.52" fill="#d5e474"/>
<rect x="456.45" y="84.79" width="7.72" height="5.52" fill="#d5e474"/>
<rect x="464.96" y="84.79" width="7.72" height="5.52" fill="#d5e474"/>
<rect x="473.48" y="84.79" width="7.72" height="5.52" fill="#f4d932"/>
<rect x="481.99" y="84.79" width="7.72" height="5.52" fill="#d5e474"/>
<rect x="490.51" y="84.79" width="7.72" height="5.52" fill="#d5e474"/>
<rect x="499.02" y="84.79" width="7.72" height="5.52" fill="#d5e474"/>
<rect x="507.54" y="84.79" width="7.72" height="5.52" fill="#d5e474"/>
<rect x="516.05" y="84.79" width="7.72" height="5.52" fill="#d5e474"/>
<rect x="524.57" y="84.79" width="7.72" height="5.52" fill="#edde41"/>
<rect x="533.08" y="84.79" width="7.72" height="5.52" fill="#d5e474"/>
<rect x="320.20" y="91.11" width="7.72" height="5.52" fill="#d5e474"/>
<rect x="328.72" y="91.11" width="7.72" height="5.52" fill="#d5e474"/>
<rect x="337.23" y="91.11" width="7.72" height="5.52" fill="#d5e474"/>
<rect x="345.75" y="91.11" width="7.72" height="5.52" fill="#d5e474"/>
<rect x="354.26" y="91.11" width="7.72" height="5.52" fill="#d5e474"/>
<rect x="362.78" y="91.11" width="7.72" height="5.52" fill="#d5e474"/>
<rect x="371.29" y="91.11" width="7.72" height="5.52" fill="#d5e474"/>
<rect x="379.81" y="91.11" width="7.72" height="5.52" fill="#d5e474"/>
<rect x="388.32" y="91.11" width="7.72" height="5.52" fill="#d5e474"/>
<rect x="396.84" y="91.11" width="7.72" height="5.52" fill="#d5e474"/>
<rect x="405.35" y="91.11" width="7.72" height="5.52" fill="#d5e474"/>
<rect x="413.87" y="91.11" width="7.72" height="5.52" fill="#f0811a"/>
<rect x="422.38" y="91.11" width="7.72" height="5.52" fill="#d5e474"/>
<rect x="430.90" y="91.11" width="7.72" height="5.52" fill="#d5e474"/>
<rect x="439.42" y="91.11" width="7.72" height="5.52" fill="#d5e474"/>
<rect x="447.93" y="91.11" width="7.72" height="5.52" fill="#d5e474"/>
<rect x="456.45" y="91.11" width="7.72" height="5.52" fill="#d5e474"/>
<rect x="464.96" y="91.11" width="7.72" height="5.52" fill="#d5e474"/>
<rect x="473.48" y="91.11" width="7.72" height="5.52" fill="#d5e474"/>
<rect x="481.99" y="91.11" width="7.72" height="5.52" fill="#d5e474"/>
<rect x="490.51" y="91.11" width="7.72" height="5.52" fill="#d5e474"/>
<rect x="499.02" y="91.11" width="7.72" height="5.52" fill="#d5e474"/>
<rect x="507.54" y="91.11" width="7.72" height="5.52" fill="#d5e474"/>
<rect x="516.05" y="91.11" width="7.72" height="5.52" fill="#d5e474"/>
<rect x="524.57" y="91.11" width="7.72" height="5.52" fill="#d5e474"/>
<rect x="533.08" y="91.11" width="7.72" height="5.52" fill="#d5e474"/>
<rect x="320.20" y="97.43" width="7.72" height="5.52" fill="#d5e474"/>
<rect x="328.72" y="97.43" width="7.72" height="5.52" fill="#d5e474"/>
<rect x="337.23" y="97.43" width="7.72" height="5.52" fill="#d5e474"/>
<rect x="345.75" y="97.43" width="7.72" height="5.52" fill="#d5e474"/>
<rect x="354.26" y="97.43" width="7.72" height="5.52" fill="#d5e474"/>
<rect x="362.78" y="97.43" width="7.72" height="5.52" fill="#d5e474"/>
<rect x="371.29" y="97.43" width="7.72" height="5.52" fill="#d5e474"/>
<rect x="379.81" y="97.43" width="7.72" height="5.52" fill="#d5e474"/>
<rect x="388.32" y="97.43" width="7.72" height="5.52" fill="#d5e474"/>
<rect x="396.84" y="97.43" width="7.72" height="5.52" fill="#d5e474"/>
<rect x="405.35" y="97.43" width="7.72" height="5.52" fill="#d5e474"/>
<rect x="413.87" y="97.43" width="7.72" height="5.52" fill="#d5e474"/>
<rect x="422.38" y="97.43" width="7.72" height="5.52" fill="#f0811a"/>
<rect x="430.90" y="97.43" width="7.72" height="5.52" fill="#d5e474"/>
<rect x="439.42" y="97.43" width="7.72" height="5.52" fill="#d5e474"/>
<rect x="447.93" y="97.43" width="7.72" height="5.52" fill="#d5e474"/>
<rect x="456.45" y="97.43" width="7.72" height="5.52" fill="#d5e474"/>
<rect x="464.96" y="97.43" width="7.72" height="5.52" fill="#d5e474"/>
<rect x="473.48" y="97.43" width="7.72" height="5.52" fill="#d5e474"/>
<rect x="481.99" y="97.43" width="7.72" height="5.52" fill="#d5e474"/>
<rect x="490.51" y="97.43" width="7.72" height="5.52" fill="#d5e474"/>
<rect x="499.02" y="97.43" width="7.72" height="5.52" fill="#d5e474"/>
<rect x="507.54" y="97.43" width="7.72" height="5.52" fill="#d5e474"/>
<rect x="516.05" y="97.43" width="7.72" height="5.52" fill="#d5e474"/>
<rect x="524.57" y="97.43" width="7.72" height="5.52" fill="#d5e474"/>
<rect x="533.08" y="97.43" width="7.72" height="5.52" fill="#d5e474"/>
<rect x="320.20" y="103.75" width="7.72" height="5.52" fill="#d5e474"/>
<rect x="328.72" y="103.75" width="7.72" height="5.52" fill="#d5e474"/>
<rect x="337.23" y="103.75" width="7.72" height="5.52" fill="#d5e474"/>
<rect x="345.75" y="103.75" width="7.72" height="5.52" fill="#d5e474"/>
<rect x="354.26" y="103.75" width="7.72" height="5.52" fill="#d5e474"/>
<rect x="362.78" y="103.75" width="7.72" height="5.52" fill="#d5e474"/>
<rect x="371.29" y="103.75" width="7.72" height="5.52" fill="#d5e474"/>
<rect x="379.81" y="103.75" width="7.72" height="5.52" fill="#d5e474"/>
<rect x="388.32" y="103.75" width="7.72" height="5.52" fill="#d5e474"/>
<rect x="396.84" y="103.75" width="7.72" height="5.52" fill="#d5e474"/>
<rect x="405.35" y="103.75" width="7.72" height="5.52" fill="#d5e474"/>
<rect x="413.87" y="103.75" width="7.72" height="5.52" fill="#d5e474"/>
<rect x="422.38" y="103.75" width="7.72" height="5.52" fill="#d5e474"/>
<rect x="430.90" y="103.75" width="7.72" height="5.52" fill="#f0811a"/>
<rect x="439.42" y="103.75" width="7.72" height="5.52" fill="#d5e474"/>
<rect x="447.93" y="103.75" width="7.72" height="5.52" fill="#d5e474"/>
<rect x="456.45" y="103.75" width="7.72" height="5.52" fill="#d5e474"/>
<rect x="464.96" y="103.75" width="7.72" height="5.52" fill="#d5e474"/>
<rect x="473.48" y="103.75" width="7.72" height="5.52" fill="#d5e474"/>
<rect x="481.99" y="103.75" width="7.72" height="5.52" fill="#d5e474"/>
<rect x="490.51" y="103.75" width="7.72" height="5.52" fill="#d5e474"/>
<rect x="499.02" y="103.75" width="7.72" height="5.52" fill="#d5e474"/>
<rect x="507.54" y="103.75" width="7.72" height="5.52" fill="#d5e474"/>
<rect x="516.05" y="103.75" width="7.72" height="5.52" fill="#d5e474"/>
<rect x="524.57" y="103.75" width="7.72" height="5.52" fill="#d5e474"/>
<rect x="533.08" y="103.75" width="7.72" height="5.52" fill="#d5e474"/>
<rect x="320.20" y="110.07" width="7.72" height="5.52" fill="#d5e474"/>
<rect x="328.72" y="110.07" width="7.72" height="5.52" fill="#d5e474"/>
<rect x="337.23" y="110.07" width="7.72" height="5.52" fill="#d5e474"/>
<rect x="345.75" y="110.07" width="7.72" height="5.52" fill="#d5e474"/>
<rect x="354.26" y="110.07" width="7.72" height="5.52" fill="#d5e474"/>
<rect x="362.78" y="110.07" width="7.72" height="5.52" fill="#d5e474"/>
<rect x="371.29" y="110.07" width="7.72" height="5.52" fill="#d5e474"/>
<rect x="379.81" y="110.07" width="7.72" height="5.52" fill="#d5e474"/>
<rect x="388.32" y="110.07" width="7.72" height="5.52" fill="#d5e474"/>
<rect x="396.84" y="110.07" width="7.72" height="5.52" fill="#d5e474"/>
<rect x="405.35" y="110.07" width="7.72" height="5.52" fill="#d5e474"/>
<rect x="413.87" y="110.07" width="7.72" height="5.52" fill="#d5e474"/>
<rect x="422.38" y="110.07" width="7.72" height="5.52" fill="#d5e474"/>
<rect x="430.90" y="110.07" width="7.72" height="5.52" fill="#d5e474"/>
<rect x="439.42" y="110.07" width="7.72" height="5.52" fill="#f0811a"/>
<rect x="447.93" y="110.07" width="7.72" height="5.52" fill="#d5e474"/>
<rect x="456.45" y="110.07" width="7.72" height="5.52" fill="#d5e474"/>
<rect x="464.96" y="110.07" width="7.72" height="5.52" fill="#d5e474"/>
<rect x="473.48" y="110.07" width="7.72" height="5.52" fill="#d5e474"/>
<rect x="481.99" y="110.07" width="7.72" height="5.52" fill="#d5e474"/>
<rect x="490.51" y="110.07" width="7.72" height="5.52" fill="#d5e474"/>
<rect x="499.02" y="110.07" width="7.72" height="5.52" fill="#d5e474"/>
<rect x="507.54" y="110.07" width="7.72" height="5.52" fill="#d5e474"/>
<rect x="516.05" y="110.07" width="7.72" height="5.52" fill="#d5e474"/>
<rect x="524.57" y="110.07" width="7.72" height="5.52" fill="#d5e474"/>
<rect x="533.08" y="110.07" width="7.72" height="5.52" fill="#d5e474"/>
<rect x="320.20" y="116.39" width="7.72" height="5.52" fill="#d5e474"/>
<rect x="328.72" y="116.39" width="7.72" height="5.52" fill="#d5e474"/>
<rect x="337.23" y="116.39" width="7.72" height="5.52" fill="#d5e474"/>
<rect x="345.75" y="116.39" width="7.72" height="5.52" fill="#d5e474"/>
<rect x="354.26" y="116.39" width="7.72" height="5.52" fill="#d5e474"/>
<rect x="362.78" y="116.39" width="7.72" height="5.52" fill="#d5e474"/>
<rect x="371.29" y="116.39" width="7.72" height="5.52" fill="#d5e474"/>
<rect x="379.81" y="116.39" width="7.72" height="5.52" fill="#d5e474"/>
<rect x="388.32" y="116.39" width="7.72" height="5.52" fill="#d5e474"/>
<rect x="396.84" y="116.39" width="7.72" height="5.52" fill="#d5e474"/>
<rect x="405.35" y="116.39" width="7.72" height="5.52" fill="#d5e474"/>
<rect x="413.87" y="116.39" width="7.72" height="5.52" fill="#d5e474"/>
<rect x="422.38" y="116.39" width="7.72" height="5.52" fill="#d5e474"/>
<rect x="430.90" y="116.39" width="7.72" height="5.52" fill="#d5e474"/>
<rect x="439.42" y="116.39" width="7.72" height="5.52" fill="#d5e474"/>
<rect x="447.93" y="116.39" width="7.72" height="5.52" fill="#f0811a"/>
<rect x="456.45" y="116.39" width="7.72" height="5.52" fill="#d5e474"/>
<rect x="464.96" y="116.39" width="7.72" height="5.52" fill="#d5e474"/>
<rect x="473.48" y="116.39" width="7.72" height="5.52" fill="#d5e474"/>
<rect x="481.99" y="116.39" width="7.72" height="5.52" fill="#d5e474"/>
<rect x="490.51" y="116.39" width="7.72" height="5.52" fill="#d5e474"/>
<rect x="499.02" y="116.39" width="7.72" height="5.52" fill="#d5e474"/>
<rect x="507.54" y="116.39" width="7.72" height="5.52" fill="#d5e474"/>
<rect x="516.05" y="116.39" width="7.72" height="5.52" fill="#d5e474"/>
<rect x="524.57" y="116.39" width="7.72" height="5.52" fill="#d5e474"/>
<rect x="533.08" y="116.39" width="7.72" height="5.52" fill="#d5e474"/>
<rect x="320.20" y="122.71" width="7.72" height="5.52" fill="#d5e474"/>
<rect x="328.72" y="122.71" width="7.72" height="5.52" fill="#d5e474"/>
<rect x="337.23" y="122.71" width="7.72" height="5.52" fill="#edde41"/>
<rect x="345.75" y="122.71" width="7.72" height="5.52" fill="#d5e474"/>
<rect x="354.26" y="122.71" width="7.72" height="5.52" fill="#d5e474"/>
<rect x="362.78" y="122.71" width="7.72" height="5.52" fill="#d5e474"/>
<rect x="371.29" y="122.71" width="7.72" height="5.52" fill="#d5e474"/>
<rect x="379.81" y="122.71" width="7.72" height="5.52" fill="#d5e474"/>
<rect x="388.32" y="122.71" width="7.72" height="5.52" fill="#d5e474"/>
<rect x="396.84" y="122.71" width="7.72" height="5.52" fill="#d5e474"/>
<rect x="405.35" y="122.71" width="7.72" height="5.52" fill="#d5e474"/>
<rect x="413.87" y="122.71" width="7.72" height="5.52" fill="#d5e474"/>
<rect x="422.38" y="122.71" width="7.72" height="5.52" fill="#d5e474"/>
<rect x="430.90" y="122.71" width="7.72" height="5.52" fill="#d5e474"/>
<rect x="439.42" y="122.71" width="7.72" height="5.52" fill="#d5e474"/>
<rect x="447.93" y="122.71" width="7.72" height="5.52" fill="#edde41"/>
<rect x="456.45" y="122.71" width="7.72" height="5.52" fill="#d5e474"/>
<rect x="464.96" y="122.71" width="7.72" height="5.52" fill="#f6cf2b"/>
<rect x="473.48" y="122.71" width="7.72" height="5.52" fill="#e6e050"/>
<rect x="481.99" y="122.71" width="7.72" height="5.52" fill="#e6e050"/>
<rect x="490.51" y="122.71" width="7.72" height="5.52" fill="#d5e474"/>
<rect x="499.02" y="122.71" width="7.72" height="5.52" fill="#d5e474"/>
<rect x="507.54" y="122.71" width="7.72" height="5.52" fill="#e1e15a"/>
<rect x="516.05" y="122.71" width="7.72" height="5.52" fill="#d5e474"/>
<rect x="524.57" y="122.71" width="7.72" height="5.52" fill="#d5e474"/>
<rect x="533.08" y="122.71" width="7.72" height="5.52" fill="#d5e474"/>
<rect x="320.20" y="129.03" width="7.72" height="5.52" fill="#d5e474"/>
<rect x="328.72" y="129.03" width="7.72" height="5.52" fill="#d5e474"/>
<rect x="337.23" y="129.03" width="7.72" height="5.52" fill="#d5e474"/>
<rect x="345.75" y="129.03" width="7.72" height="5.52" fill="#d5e474"/>
<rect x="354.26" y="129.03" width="7.72" height="5.52" fill="#d5e474"/>
<rect x="362.78" y="129.03" width="7.72" height="5.52" fill="#d5e474"/>
<rect x="371.29" y="129.03" width="7.72" height="5.52" fill="#d5e474"/>
<rect x="379.81" y="129.03" width="7.72" height="5.52" fill="#d5e474"/>
<rect x="388.32" y="129.03" width="7.72" height="5.52" fill="#d5e474"/>
<rect x="396.84" y="129.03" width="7.72" height="5.52" fill="#d5e474"/>
<rect x="405.35" y="129.03" width="7.72" height="5.52" fill="#d5e474"/>
<rect x="413.87" y="129.03" width="7.72" height="5.52" fill="#d5e474"/>
<rect x="422.38" y="129.03" width="7.72" height="5.52" fill="#d5e474"/>
<rect x="430.90" y="129.03" width="7.72" height="5.52" fill="#d5e474"/>
<rect x="439.42" y="129.03" width="7.72" height="5.52" fill="#d5e474"/>
<rect x="447.93" y="129.03" width="7.72" height="5.52" fill="#d5e474"/>
<rect x="456.45" y="129.03" width="7.72" height="5.52" fill="#d5e474"/>
<rect x="464.96" y="129.03" width="7.72" height="5.52" fill="#f0811a"/>
<rect x="473.48" y="129.03" width="7.72" height="5.52" fill="#d5e474"/>
<rect x="481.99" y="129.03" width="7.72" height="5.52" fill="#d5e474"/>
<rect x="490.51" y="129.03" width="7.72" height="5.52" fill="#d5e474"/>
<rect x="499.02" y="129.03" width="7.72" height="5.52" fill="#d5e474"/>
<rect x="507.54" y="129.03" width="7.72" height="5.52" fill="#d5e474"/>
<rect x="516.05" y="129.03" width="7.72" height="5.52" fill="#d5e474"/>
<rect x="524.57" y="129.03" width="7.72" height="5.52" fill="#d5e474"/>
<rect x="533.08" y="129.03" width="7.72" height="5.52" fill="#d5e474"/>
<rect x="320.20" y="135.35" width="7.72" height="5.52" fill="#d5e474"/>
<rect x="328.72" y="135.35" width="7.72" height="5.52" fill="#d5e474"/>
<rect x="337.23" y="135.35" width="7.72" height="5.52" fill="#d5e474"/>
<rect x="345.75" y="135.35" width="7.72" height="5.52" fill="#d5e474"/>
<rect x="354.26" y="135.35" width="7.72" height="5.52" fill="#d5e474"/>
<rect x="362.78" y="135.35" width="7.72" height="5.52" fill="#d5e474"/>
<rect x="371.29" y="135.35" width="7.72" height="5.52" fill="#d5e474"/>
<rect x="379.81" y="135.35" width="7.72" height="5.52" fill="#d5e474"/>
<rect x="388.32" y="135.35" width="7.72" height="5.52" fill="#d5e474"/>
<rect x="396.84" y="135.35" width="7.72" height="5.52" fill="#d5e474"/>
<rect x="405.35" y="135.35" width="7.72" height="5.52" fill="#d5e474"/>
<rect x="413.87" y="135.35" width="7.72" height="5.52" fill="#d5e474"/>
<rect x="422.38" y="135.35" width="7.72" height="5.52" fill="#d5e474"/>
<rect x="430.90" y="135.35" width="7.72" height="5.52" fill="#d5e474"/>
<rect x="439.42" y="135.35" width="7.72" height="5.52" fill="#d5e474"/>
<rect x="447.93" y="135.35" width="7.72" height="5.52" fill="#d5e474"/>
<rect x="456.45" y="135.35" width="7.72" height="5.52" fill="#d5e474"/>
<rect x="464.96" y="135.35" width="7.72" height="5.52" fill="#d5e474"/>
<rect x="473.48" y="135.35" width="7.72" height="5.52" fill="#f0811a"/>
<rect x="481.99" y="135.35" width="7.72" height="5.52" fill="#d5e474"/>
<rect x="490.51" y="135.35" width="7.72" height="5.52" fill="#d5e474"/>
<rect x="499.02" y="135.35" width="7.72" height="5.52" fill="#d5e474"/>
<rect x="507.54" y="135.35" width="7.72" height="5.52" fill="#d5e474"/>
<rect x="516.05" y="135.35" width="7.72" height="5.52" fill="#d5e474"/>
<rect x="524.57" y="135.35" width="7.72" height="5.52" fill="#d5e474"/>
<rect x="533.08" y="135.35" width="7.72" height="5.52" fill="#d5e474"/>
<rect x="320.20" y="141.67" width="7.72" height="5.52" fill="#d5e474"/>
<rect x="328.72" y="141.67" width="7.72" height="5.52" fill="#d5e474"/>
<rect x="337.23" y="141.67" width="7.72" height="5.52" fill="#d5e474"/>
<rect x="345.75" y="141.67" width="7.72" height="5.52" fill="#d5e474"/>
<rect x="354.26" y="141.67" width="7.72" height="5.52" fill="#d5e474"/>
<rect x="362.78" y="141.67" width="7.72" height="5.52" fill="#d5e474"/>
<rect x="371.29" y="141.67" width="7.72" height="5.52" fill="#d5e474"/>
<rect x="379.81" y="141.67" width="7.72" height="5.52" fill="#d5e474"/>
<rect x="388.32" y="141.67" width="7.72" height="5.52" fill="#d5e474"/>
<rect x="396.84" y="141.67" width="7.72" height="5.52" fill="#d5e474"/>
<rect x="405.35" y="141.67" width="7.72" height="5.52" fill="#d5e474"/>
<rect x="413.87" y="141.67" width="7.72" height="5.52" fill="#d5e474"/>
<rect x="422.38" y="141.67" width="7.72" height="5.52" fill="#d5e474"/>
<rect x="430.90" y="141.67" width="7.72" height="5.52" fill="#d5e474"/>
<rect x="439.42" y="141.67" width="7.72" height="5.52" fill="#d5e474"/>
<rect x="447.93" y="141.67" width="7.72" height="5.52" fill="#d5e474"/>
<rect x="456.45" y="141.67" width="7.72" height="5.52" fill="#d5e474"/>
<rect x="464.96" y="141.67" width="7.72" height="5.52" fill="#d5e474"/>
<rect x="473.48" y="141.67" width="7.72" height="5.52" fill="#d5e474"/>
<rect x="481.99" y="141.67" width="7.72" height="5.52" fill="#f0811a"/>
<rect x="490.51" y="141.67" width="7.72" height="5.52" fill="#d5e474"/>
<rect x="499.02" y="141.67" width="7.72" height="5.52" fill="#d5e474"/>
<rect x="507.54" y="141.67" width="7.72" height="5.52" fill="#d5e474"/>
<rect x="516.05" y="141.67" width="7.72" height="5.52" fill="#d5e474"/>
<rect x="524.57" y="141.67" width="7.72" height="5.52" fill="#d5e474"/>
<rect x="533.08" y="141.67" width="7.72" height="5.52" fill="#d5e474"/>
<rect x="320.20" y="147.98" width="7.72" height="5.52" fill="#d5e474"/>
<rect x="328.72" y="147.98" width="7.72" height="5.52" fill="#d5e474"/>
<rect x="337.23" y="147.98" width="7.72" height="5.52" fill="#d5e474"/>
<rect x="345.75" y="147.98" width="7.72" height="5.52" fill="#d5e474"/>
<rect x="354.26" y="147.98" width="7.72" height="5.52" fill="#d5e474"/>
<rect x="362.78" y="147.98" width="7.72" height="5.52" fill="#d5e474"/>
<rect x="371.29" y="147.98" width="7.72" height="5.52" fill="#d5e474"/>
<rect x="379.81" y="147.98" width="7.72" height="5.52" fill="#d5e474"/>
<rect x="388.32" y="147.98" width="7.72" height="5.52" fill="#d5e474"/>
<rect x="396.84" y="147.98" width="7.72" height="5.52" fill="#d5e474"/>
<rect x="405.35" y="147.98" width="7.72" height="5.52" fill="#d5e474"/>
<rect x="413.87" y="147.98" width="7.72" height="5.52" fill="#d5e474"/>
<rect x="422.38" y="147.98" width="7.72" height="5.52" fill="#d5e474"/>
<rect x="430.90" y="147.98" width="7.72" height="5.52" fill="#d5e474"/>
<rect x="439.42" y="147.98" width="7.72" height="5.52" fill="#d5e474"/>
<rect x="447.93" y="147.98" width="7.72" height="5.52" fill="#d5e474"/>
<rect x="456.45" y="147.98" width="7.72" height="5.52" fill="#d5e474"/>
<rect x="464.96" y="147.98" width="7.72" height="5.52" fill="#d5e474"/>
<rect x="473.48" y="147.98" width="7.72" height="5.52" fill="#d5e474"/>
<rect x="481.99" y="147.98" width="7.72" height="5.52" fill="#d5e474"/>
<rect x="490.51" y="147.98" width="7.72" height="5.52" fill="#f0811a"/>
<rect x="499.02" y="147.98" width="7.72" height="5.52" fill="#d5e474"/>
<rect x="507.54" y="147.98" width="7.72" height="5.52" fill="#d5e474"/>
<rect x="516.05" y="147.98" width="7.72" height="5.52" fill="#d5e474"/>
<rect x="524.57" y="147.98" width="7.72" height="5.52" fill="#d5e474"/>
<rect x="533.08" y="147.98" width="7.72" height="5.52" fill="#d5e474"/>
<rect x="320.20" y="154.30" width="7.72" height="5.52" fill="#d5e474"/>
<rect x="328.72" y="154.30" width="7.72" height="5.52" fill="#d5e474"/>
<rect x="337.23" y="154.30" width="7.72" height="5.52" fill="#d5e474"/>
<rect x="345.75" y="154.30" width="7.72" height="5.52" fill="#d5e474"/>
<rect x="354.26" y="154.30" width="7.72" height="5.52" fill="#d5e474"/>
<rect x="362.78" y="154.30" width="7.72" height="5.52" fill="#d5e474"/>
<rect x="371.29" y="154.30" width="7.72" height="5.52" fill="#d5e474"/>
<rect x="379.81" y="154.30" width="7.72" height="5.52" fill="#d5e474"/>
<rect x="388.32" y="154.30" width="7.72" height="5.52" fill="#d5e474"/>
<rect x="396.84" y="154.30" width="7.72" height="5.52" fill="#d5e474"/>
<rect x="405.35" y="154.30" width="7.72" height="5.52" fill="#d5e474"/>
<rect x="413.87" y="154.30" width="7.72" height="5.52" fill="#d5e474"/>
<rect x="422.38" y="154.30" width="7.72" height="5.52" fill="#d5e474"/>
<rect x="430.90" y="154.30" width="7.72" height="5.52" fill="#d5e474"/>
<rect x="439.42" y="154.30" width="7.72" height="5.52" fill="#d5e474"/>
<rect x="447.93" y="154.30" width="7.72" height="5.52" fill="#d5e474"/>
<rect x="456.45" y="154.30" width="7.72" height="5.52" fill="#d5e474"/>
<rect x="464.96" y="154.30" width="7.72" height="5.52" fill="#d5e474"/>
<rect x="473.48" y="154.30" width="7.72" height="5.52" fill="#d5e474"/>
<rect x="481.99" y="154.30" width="7.72" height="5.52" fill="#d5e474"/>
<rect x="490.51" y="154.30" width="7.72" height="5.52" fill="#d5e474"/>
<rect x="499.02" y="154.30" width="7.72" height="5.52" fill="#f0811a"/>
<rect x="507.54" y="154.30" width="7.72" height="5.52" fill="#d5e474"/>
<rect x="516.05" y="154.30" width="7.72" height="5.52" fill="#d5e474"/>
<rect x="524.57" y="154.30" width="7.72" height="5.52" fill="#d5e474"/>
<rect x="533.08" y="154.30" width="7.72" height="5.52" fill="#d5e474"/>
<rect x="320.20" y="160.62" width="7.72" height="5.52" fill="#d5e474"/>
<rect x="328.72" y="160.62" width="7.72" height="5.52" fill="#d5e474"/>
<rect x="337.23" y="160.62" width="7.72" height="5.52" fill="#d5e474"/>
<rect x="345.75" y="160.62" width="7.72" height="5.52" fill="#d5e474"/>
<rect x="354.26" y="160.62" width="7.72" height="5.52" fill="#d5e474"/>
<rect x="362.78" y="160.62" width="7.72" height="5.52" fill="#d5e474"/>
<rect x="371.29" y="160.62" width="7.72" height="5.52" fill="#d5e474"/>
<rect x="379.81" y="160.62" width="7.72" height="5.52" fill="#d5e474"/>
<rect x="388.32" y="160.62" width="7.72" height="5.52" fill="#d5e474"/>
<rect x="396.84" y="160.62" width="7.72" height="5.52" fill="#d5e474"/>
<rect x="405.35" y="160.62" width="7.72" height="5.52" fill="#d5e474"/>
<rect x="413.87" y="160.62" width="7.72" height="5.52" fill="#d5e474"/>
<rect x="422.38" y="160.62" width="7.72" height="5.52" fill="#d5e474"/>
<rect x="430.90" y="160.62" width="7.72" height="5.52" fill="#d5e474"/>
<rect x="439.42" y="160.62" width="7.72" height="5.52" fill="#d5e474"/>
<rect x="447.93" y="160.62" width="7.72" height="5.52" fill="#d5e474"/>
<rect x="456.45" y="160.62" width="7.72" height="5.52" fill="#d5e474"/>
<rect x="464.96" y="160.62" width="7.72" height="5.52" fill="#d5e474"/>
<rect x="473.48" y="160.62" width="7.72" height="5.52" fill="#d5e474"/>
<rect x="481.99" y="160.62" width="7.72" height="5.52" fill="#d5e474"/>
<rect x="490.51" y="160.62" width="7.72" height="5.52" fill="#d5e474"/>
<rect x="499.02" y="160.62" width="7.72" height="5.52" fill="#d5e474"/>
<rect x="507.54" y="160.62" width="7.72" height="5.52" fill="#f0811a"/>
<rect x="516.05" y="160.62" width="7.72" height="5.52" fill="#d5e474"/>
<rect x="524.57" y="160.62" width="7.72" height="5.52" fill="#d5e474"/>
<rect x="533.08" y="160.62" width="7.72" height="5.52" fill="#d5e474"/>
<rect x="320.20" y="166.94" width="7.72" height="5.52" fill="#d5e474"/>
<rect x="328.72" y="166.94" width="7.72" height="5.52" fill="#d5e474"/>
<rect x="337.23" y="166.94" width="7.72" height="5.52" fill="#d5e474"/>
<rect x="345.75" y="166.94" width="7.72" height="5.52" fill="#f5d52f"/>
<rect x="354.26" y="166.94" width="7.72" height="5.52" fill="#d5e474"/>
<rect x="362.78" y="166.94" width="7.72" height="5.52" fill="#edde41"/>
<rect x="371.29" y="166.94" width="7.72" height="5.52" fill="#d5e474"/>
<rect x="379.81" y="166.94" width="7.72" height="5.52" fill="#d5e474"/>
<rect x="388.32" y="166.94" width="7.72" height="5.52" fill="#d5e474"/>
<rect x="396.84" y="166.94" width="7.72" height="5.52" fill="#d5e474"/>
<rect x="405.35" y="166.94" width="7.72" height="5.52" fill="#d5e474"/>
<rect x="413.87" y="166.94" width="7.72" height="5.52" fill="#d5e474"/>
<rect x="422.38" y="166.94" width="7.72" height="5.52" fill="#d5e474"/>
<rect x="430.90" y="166.94" width="7.72" height="5.52" fill="#d5e474"/>
<rect x="439.42" y="166.94" width="7.72" height="5.52" fill="#d5e474"/>
<rect x="447.93" y="166.94" width="7.72" height="5.52" fill="#d5e474"/>
<rect x="456.45" y="166.94" width="7.72" height="5.52" fill="#d5e474"/>
<rect x="464.96" y="166.94" width="7.72" height="5.52" fill="#d5e474"/>
<rect x="473.48" y="166.94" width="7.72" height="5.52" fill="#d5e474"/>
<rect x="481.99" y="166.94" width="7.72" height="5.52" fill="#d5e474"/>
<rect x="490.51" y="166.94" width="7.72" height="5.52" fill="#d5e474"/>
<rect x="499.02" y="166.94" width="7.72" height="5.52" fill="#d5e474"/>
<rect x="507.54" y="166.94" width="7.72" height="5.52" fill="#d5e474"/>
<rect x="516.05" y="166.94" width="7.72" height="5.52" fill="#fbb91a"/>
<rect x="524.57" y="166.94" width="7.72" height="5.52" fill="#e1e15a"/>
<rect x="533.08" y="166.94" width="7.72" height="5.52" fill="#d5e474"/>
<rect x="320.20" y="173.26" width="7.72" height="5.52" fill="#d5e474"/>
<rect x="328.72" y="173.26" width="7.72" height="5.52" fill="#d5e474"/>
<rect x="337.23" y="173.26" width="7.72" height="5.52" fill="#d5e474"/>
<rect x="345.75" y="173.26" width="7.72" height="5.52" fill="#d5e474"/>
<rect x="354.26" y="173.26" width="7.72" height="5.52" fill="#d5e474"/>
<rect x="362.78" y="173.26" width="7.72" height="5.52" fill="#d5e474"/>
<rect x="371.29" y="173.26" width="7.72" height="5.52" fill="#d5e474"/>
<rect x="379.81" y="173.26" width="7.72" height="5.52" fill="#d5e474"/>
<rect x="388.32" y="173.26" width="7.72" height="5.52" fill="#d5e474"/>
<rect x="396.84" y="173.26" width="7.72" height="5.52" fill="#d5e474"/>
<rect x="405.35" y="173.26" width="7.72" height="5.52" fill="#d5e474"/>
<rect x="413.87" y="173.26" width="7.72" height="5.52" fill="#d5e474"/>
<rect x="422.38" y="173.26" width="7.72" height="5.52" fill="#d5e474"/>
<rect x="430.90" y="173.26" width="7.72" height="5.52" fill="#d5e474"/>
<rect x="439.42" y="173.26" width="7.72" height="5.52" fill="#d5e474"/>
<rect x="447.93" y="173.26" width="7.72" height="5.52" fill="#d5e474"/>
<rect x="456.45" y="173.26" width="7.72" height="5.52" fill="#d5e474"/>
<rect x="464.96" y="173.26" width="7.72" height="5.52" fill="#d5e474"/>
<rect x="473.48" y="173.26" width="7.72" height="5.52" fill="#d5e474"/>
<rect x="481.99" y="173.26" width="7.72" height="5.52" fill="#d5e474"/>
<rect x="490.51" y="173.26" width="7.72" height="5.52" fill="#d5e474"/>
<rect x="499.02" y="173.26" width="7.72" height="5.52" fill="#d5e474"/>
<rect x="507.54" y="173.26" width="7.72" height="5.52" fill="#d5e474"/>
<rect x="516.05" y="173.26" width="7.72" height="5.52" fill="#d5e474"/>
<rect x="524.57" y="173.26" width="7.72" height="5.52" fill="#f0811a"/>
<rect x="533.08" y="173.26" width="7.72" height="5.52" fill="#d5e474"/>
<rect x="320.20" y="179.58" width="7.72" height="5.52" fill="#d5e474"/>
<rect x="328.72" y="179.58" width="7.72" height="5.52" fill="#d5e474"/>
<rect x="337.23" y="179.58" width="7.72" height="5.52" fill="#e6e050"/>
<rect x="345.75" y="179.58" width="7.72" height="5.52" fill="#edde41"/>
<rect x="354.26" y="179.58" width="7.72" height="5.52" fill="#d5e474"/>
<rect x="362.78" y="179.58" width="7.72" height="5.52" fill="#d5e474"/>
<rect x="371.29" y="179.58" width="7.72" height="5.52" fill="#d5e474"/>
<rect x="379.81" y="179.58" width="7.72" height="5.52" fill="#d5e474"/>
<rect x="388.32" y="179.58" width="7.72" height="5.52" fill="#d5e474"/>
<rect x="396.84" y="179.58" width="7.72" height="5.52" fill="#d5e474"/>
<rect x="405.35" y="179.58" width="7.72" height="5.52" fill="#d5e474"/>
<rect x="413.87" y="179.58" width="7.72" height="5.52" fill="#d5e474"/>
<rect x="422.38" y="179.58" width="7.72" height="5.52" fill="#d5e474"/>
<rect x="430.90" y="179.58" width="7.72" height="5.52" fill="#d5e474"/>
<rect x="439.42" y="179.58" width="7.72" height="5.52" fill="#d5e474"/>
<rect x="447.93" y="179.58" width="7.72" height="5.52" fill="#d5e474"/>
<rect x="456.45" y="179.58" width="7.72" height="5.52" fill="#d5e474"/>
<rect x="464.96" y="179.58" width="7.72" height="5.52" fill="#d5e474"/>
<rect x="473.48" y="179.58" width="7.72" height="5.52" fill="#d5e474"/>
<rect x="481.99" y="179.58" width="7.72" height="5.52" fill="#d5e474"/>
<rect x="490.51" y="179.58" width="7.72" height="5.52" fill="#d5e474"/>
<rect x="499.02" y="179.58" width="7.72" height="5.52" fill="#d5e474"/>
<rect x="507.54" y="179.58" width="7.72" height="5.52" fill="#edde41"/>
<rect x="516.05" y="179.58" width="7.72" height="5.52" fill="#d5e474"/>
<rect x="524.57" y="179.58" width="7.72" height="5.52" fill="#fbb91a"/>
<rect x="533.08" y="179.58" width="7.72" height="5.52" fill="#d5e474"/>
</g>
<g class="yl" transform="rotate(0.05 300 103)">
<text x="315.50" y="26.46">a (n=26916)</text>
<text x="315.50" y="32.78">b (n=5171)</text>
<text x="315.50" y="39.10">c (n=10281)</text>
<text x="315.50" y="45.42">d (n=12903)</text>
<text x="315.50" y="51.74">e (n=39554)</text>
<text x="315.50" y="58.06">f (n=7203)</text>
<text x="315.50" y="64.38">g (n=6124)</text>
<text x="315.50" y="70.69">h (n=16110)</text>
<text x="315.50" y="77.01">i (n=22698)</text>
<text x="315.50" y="83.33">j (n=837)</text>
<text x="315.50" y="89.65">k (n=2357)</text>
<text x="315.50" y="95.97">l (n=13602)</text>
<text x="315.50" y="102.29">m (n=8511)</text>
<text x="315.50" y="108.61">n (n=23029)</text>
<text x="315.50" y="114.93">o (n=23712)</text>
<text x="315.50" y="121.25">p (n=6493)</text>
<text x="315.50" y="127.57">q (n=278)</text>
<text x="315.50" y="133.89">r (n=21010)</text>
<text x="315.50" y="140.21">s (n=21178)</text>
<text x="315.50" y="146.53">t (n=28967)</text>
<text x="315.50" y="152.84">u (n=8038)</text>
<text x="315.50" y="159.16">v (n=3160)</text>
<text x="315.50" y="165.48">w (n=5592)</text>
<text x="315.50" y="171.80">x (n=668)</text>
<text x="315.50" y="178.12">y (n=5354)</text>
<text x="315.50" y="184.44">z (n=255)</text>
</g><g class="xl" transform="rotate(0.05 430 195)">
<text x="324.06" y="194.70">a</text>
<text x="332.57" y="194.70">b</text>
<text x="341.09" y="194.70">c</text>
<text x="349.60" y="194.70">d</text>
<text x="358.12" y="194.70">e</text>
<text x="366.63" y="194.70">f</text>
<text x="375.15" y="194.70">g</text>
<text x="383.67" y="194.70">h</text>
<text x="392.18" y="194.70">i</text>
<text x="400.70" y="194.70">j</text>
<text x="409.21" y="194.70">k</text>
<text x="417.73" y="194.70">l</text>
<text x="426.24" y="194.70">m</text>
<text x="434.76" y="194.70">n</text>
<text x="443.27" y="194.70">o</text>
<text x="451.79" y="194.70">p</text>
<text x="460.30" y="194.70">q</text>
<text x="468.82" y="194.70">r</text>
<text x="477.33" y="194.70">s</text>
<text x="485.85" y="194.70">t</text>
<text x="494.37" y="194.70">u</text>
<text x="502.88" y="194.70">v</text>
<text x="511.40" y="194.70">w</text>
<text x="519.91" y="194.70">x</text>
<text x="528.43" y="194.70">y</text>
<text x="536.94" y="194.70">z</text>
</g>
<text class="ti" x="427.50" y="13.80" transform="rotate(0.05 428 14)">Vigenere</text>
<text class="ca" x="415.60" y="210.10" transform="rotate(0.05 416 210)">Weighted F<tspan class="os">1</tspan>-score: <tspan class="os">0</tspan>.<tspan dy="1.9">9</tspan><tspan dy="-1.9">6</tspan></text>
<g filter="url(#bl)">
<rect x="190.80" y="239.60" width="216.60" height="161.10" fill="#ffffff"/>
<rect x="191.20" y="240.00" width="7.53" height="5.40" fill="#f0811a"/>
<rect x="199.53" y="240.00" width="7.53" height="5.40" fill="#d5e474"/>
<rect x="207.86" y="240.00" width="7.53" height="5.40" fill="#d5e474"/>
<rect x="216.19" y="240.00" width="7.53" height="5.40" fill="#d5e474"/>
<rect x="224.52" y="240.00" width="7.53" height="5.40" fill="#d5e474"/>
<rect x="232.85" y="240.00" width="7.53" height="5.40" fill="#d5e474"/>
<rect x="241.18" y="240.00" width="7.53" height="5.40" fill="#d5e474"/>
<rect x="249.52" y="240.00" width="7.53" height="5.40" fill="#d5e474"/>
<rect x="257.85" y="240.00" width="7.53" height="5.40" fill="#d5e474"/>
<rect x="266.18" y="240.00" width="7.53" height="5.40" fill="#d5e474"/>
<rect x="274.51" y="240.00" width="7.53" height="5.40" fill="#d5e474"/>
<rect x="282.84" y="240.00" width="7.53" height="5.40" fill="#d5e474"/>
<rect x="291.17" y="240.00" width="7.53" height="5.40" fill="#d5e474"/>
<rect x="299.50" y="240.00" width="7.53" height="5.40" fill="#d5e474"/>
<rect x="307.83" y="240.00" width="7.53" height="5.40" fill="#d5e474"/>
<rect x="316.16" y="240.00" width="7.53" height="5.40" fill="#d5e474"/>
<rect x="324.49" y="240.00" width="7.53" height="5.40" fill="#d5e474"/>
<rect x="332.82" y="240.00" width="7.53" height="5.40" fill="#d5e474"/>
<rect x="341.15" y="240.00" width="7.53" height="5.40" fill="#d5e474"/>
<rect x="349.48" y="240.00" width="7.53" height="5.40" fill="#d5e474"/>
<rect x="357.82" y="240.00" width="7.53" height="5.40" fill="#d5e474"/>
<rect x="366.15" y="240.00" width="7.53" height="5.40" fill="#d5e474"/>
<rect x="374.48" y="240.00" width="7.53" height="5.40" fill="#d5e474"/>
<rect x="382.81" y="240.00" width="7.53" height="5.40" fill="#d5e474"/>
<rect x="391.14" y="240.00" width="7.53" height="5.40" fill="#d5e474"/>
<rect x="399.47" y="240.00" width="7.53" height="5.40" fill="#d5e474"/>
<rect x="191.20" y="246.20" width="7.53" height="5.40" fill="#d5e474"/>
<rect x="199.53" y="246.20" width="7.53" height="5.40" fill="#d5e474"/>
<rect x="207.86" y="246.20" width="7.53" height="5.40" fill="#d5e474"/>
<rect x="216.19" y="246.20" width="7.53" height="5.40" fill="#d5e474"/>
<rect x="224.52" y="246.20" width="7.53" height="5.40" fill="#d5e474"/>
<rect x="232.85" y="246.20" width="7.53" height="5.40" fill="#d5e474"/>
<rect x="241.18" y="246.20" width="7.53" height="5.40" fill="#d5e474"/>
<rect x="249.52" y="246.20" width="7.53" height="5.40" fill="#f6ce2a"/>
<rect x="257.85" y="246.20" width="7.53" height="5.40" fill="#d5e474"/>
<rect x="266.18" y="246.20" width="7.53" height="5.40" fill="#f5d52f"/>
<rect x="274.51" y="246.20" width="7.53" height="5.40" fill="#d5e474"/>
<rect x="282.84" y="246.20" width="7.53" height="5.40" fill="#d5e474"/>
<rect x="291.17" y="246.20" width="7.53" height="5.40" fill="#d5e474"/>
<rect x="299.50" y="246.20" width="7.53" height="5.40" fill="#d5e474"/>
<rect x="307.83" y="246.20" width="7.53" height="5.40" fill="#d5e474"/>
<rect x="316.16" y="246.20" width="7.53" height="5.40" fill="#d5e474"/>
<rect x="324.49" y="246.20" width="7.53" height="5.40" fill="#d5e474"/>
<rect x="332.82" y="246.20" width="7.53" height="5.40" fill="#f3dc34"/>
<rect x="341.15" y="246.20" width="7.53" height="5.40" fill="#d5e474"/>
<rect x="349.48" y="246.20" width="7.53" height="5.40" fill="#d5e474"/>
<rect x="357.82" y="246.20" width="7.53" height="5.40" fill="#edde41"/>
<rect x="366.15" y="246.20" width="7.53" height="5.40" fill="#d5e474"/>
<rect x="374.48" y="246.20" width="7.53" height="5.40" fill="#d5e474"/>
<rect x="382.81" y="246.20" width="7.53" height="5.40" fill="#d5e474"/>
<rect x="391.14" y="246.20" width="7.53" height="5.40" fill="#d5e474"/>
<rect x="399.47" y="246.20" width="7.53" height="5.40" fill="#d5e474"/>
<rect x="191.20" y="252.39" width="7.53" height="5.40" fill="#d5e474"/>
<rect x="199.53" y="252.39" width="7.53" height="5.40" fill="#d5e474"/>
<rect x="207.86" y="252.39" width="7.53" height="5.40" fill="#f0811a"/>
<rect x="216.19" y="252.39" width="7.53" height="5.40" fill="#d5e474"/>
<rect x="224.52" y="252.39" width="7.53" height="5.40" fill="#d5e474"/>
<rect x="232.85" y="252.39" width="7.53" height="5.40" fill="#d5e474"/>
<rect x="241.18" y="252.39" width="7.53" height="5.40" fill="#d5e474"/>
<rect x="249.52" y="252.39" width="7.53" height="5.40" fill="#d5e474"/>
<rect x="257.85" y="252.39" width="7.53" height="5.40" fill="#d5e474"/>
<rect x="266.18" y="252.39" width="7.53" height="5.40" fill="#d5e474"/>
<rect x="274.51" y="252.39" width="7.53" height="5.40" fill="#d5e474"/>
<rect x="282.84" y="252.39" width="7.53" height="5.40" fill="#d5e474"/>
<rect x="291.17" y="252.39" width="7.53" height="5.40" fill="#d5e474"/>
<rect x="299.50" y="252.39" width="7.53" height="5.40" fill="#d5e474"/>
<rect x="307.83" y="252.39" width="7.53" height="5.40" fill="#d5e474"/>
<rect x="316.16" y="252.39" width="7.53" height="5.40" fill="#d5e474"/>
<rect x="324.49" y="252.39" width="7.53" height="5.40" fill="#d5e474"/>
<rect x="332.82" y="252.39" width="7.53" height="5.40" fill="#d5e474"/>
<rect x="341.15" y="252.39" width="7.53" height="5.40" fill="#d5e474"/>
<rect x="349.48" y="252.39" width="7.53" height="5.40" fill="#d5e474"/>
<rect x="357.82" y="252.39" width="7.53" height="5.40" fill="#d5e474"/>
<rect x="366.15" y="252.39" width="7.53" height="5.40" fill="#d5e474"/>
<rect x="374.48" y="252.39" width="7.53" height="5.40" fill="#d5e474"/>
<rect x="382.81" y="252.39" width="7.53" height="5.40" fill="#d5e474"/>
<rect x="391.14" y="252.39" width="7.53" height="5.40" fill="#d5e474"/>
<rect x="399.47" y="252.39" width="7.53" height="5.40" fill="#d5e474"/>
<rect x="191.20" y="258.59" width="7.53" height="5.40" fill="#d5e474"/>
<rect x="199.53" y="258.59" width="7.53" height="5.40" fill="#d5e474"/>
<rect x="207.86" y="258.59" width="7.53" height="5.40" fill="#d5e474"/>
<rect x="216.19" y="258.59" width="7.53" height="5.40" fill="#f0811a"/>
<rect x="224.52" y="258.59" width="7.53" height="5.40" fill="#d5e474"/>
<rect x="232.85" y="258.59" width="7.53" height="5.40" fill="#d5e474"/>
<rect x="241.18" y="258.59" width="7.53" height="5.40" fill="#d5e474"/>
<rect x="249.52" y="258.59" width="7.53" height="5.40" fill="#d5e474"/>
<rect x="257.85" y="258.59" width="7.53" height="5.40" fill="#d5e474"/>
<rect x="266.18" y="258.59" width="7.53" height="5.40" fill="#d5e474"/>
<rect x="274.51" y="258.59" width="7.53" height="5.40" fill="#d5e474"/>
<rect x="282.84" y="258.59" width="7.53" height="5.40" fill="#d5e474"/>
<rect x="291.17" y="258.59" width="7.53" height="5.40" fill="#d5e474"/>
<rect x="299.50" y="258.59" width="7.53" height="5.40" fill="#d5e474"/>
<rect x="307.83" y="258.59" width="7.53" height="5.40" fill="#d5e474"/>
<rect x="316.16" y="258.59" width="7.53" height="5.40" fill="#d5e474"/>
<rect x="324.49" y="258.59" width="7.53" height="5.40" fill="#d5e474"/>
<rect x="332.82" y="258.59" width="7.53" height="5.40" fill="#d5e474"/>
<rect x="341.15" y="258.59" width="7.53" height="5.40" fill="#d5e474"/>
<rect x="349.48" y="258.59" width="7.53" height="5.40" fill="#d5e474"/>
<rect x="357.82" y="258.59" width="7.53" height="5.40" fill="#d5e474"/>
<rect x="366.15" y="258.59" width="7.53" height="5.40" fill="#d5e474"/>
<rect x="374.48" y="258.59" width="7.53" height="5.40" fill="#d5e474"/>
<rect x="382.81" y="258.59" width="7.53" height="5.40" fill="#d5e474"/>
<rect x="391.14" y="258.59" width="7.53" height="5.40" fill="#d5e474"/>
<rect x="399.47" y="258.59" width="7.53" height="5.40" fill="#d5e474"/>
<rect x="191.20" y="264.78" width="7.53" height="5.40" fill="#d5e474"/>
<rect x="199.53" y="264.78" width="7.53" height="5.40" fill="#d5e474"/>
<rect x="207.86" y="264.78" width="7.53" height="5.40" fill="#d5e474"/>
<rect x="216.19" y="264.78" width="7.53" height="5.40" fill="#d5e474"/>
<rect x="224.52" y="264.78" width="7.53" height="5.40" fill="#f0811a"/>
<rect x="232.85" y="264.78" width="7.53" height="5.40" fill="#d5e474"/>
<rect x="241.18" y="264.78" width="7.53" height="5.40" fill="#d5e474"/>
<rect x="249.52" y="264.78" width="7.53" height="5.40" fill="#d5e474"/>
<rect x="257.85" y="264.78" width="7.53" height="5.40" fill="#d5e474"/>
<rect x="266.18" y="264.78" width="7.53" height="5.40" fill="#d5e474"/>
<rect x="274.51" y="264.78" width="7.53" height="5.40" fill="#d5e474"/>
<rect x="282.84" y="264.78" width="7.53" height="5.40" fill="#d5e474"/>
<rect x="291.17" y="264.78" width="7.53" height="5.40" fill="#d5e474"/>
<rect x="299.50" y="264.78" width="7.53" height="5.40" fill="#d5e474"/>
<rect x="307.83" y="264.78" width="7.53" height="5.40" fill="#d5e474"/>
<rect x="316.16" y="264.78" width="7.53" height="5.40" fill="#d5e474"/>
<rect x="324.49" y="264.78" width="7.53" height="5.40" fill="#d5e474"/>
<rect x="332.82" y="264.78" width="7.53" height="5.40" fill="#d5e474"/>
<rect x="341.15" y="264.78" width="7.53" height="5.40" fill="#d5e474"/>
<rect x="349.48" y="264.78" width="7.53" height="5.40" fill="#d5e474"/>
<rect x="357.82" y="264.78" width="7.53" height="5.40" fill="#d5e474"/>
<rect x="366.15" y="264.78" width="7.53" height="5.40" fill="#d5e474"/>
<rect x="374.48" y="264.78" width="7.53" height="5.40" fill="#d5e474"/>
<rect x="382.81" y="264.78" width="7.53" height="5.40" fill="#d5e474"/>
<rect x="391.14" y="264.78" width="7.53" height="5.40" fill="#d5e474"/>
<rect x="399.47" y="264.78" width="7.53" height="5.40" fill="#d5e474"/>
<rect x="191.20" y="270.98" width="7.53" height="5.40" fill="#d5e474"/>
<rect x="199.53" y="270.98" width="7.53" height="5.40" fill="#d5e474"/>
<rect x="207.86" y="270.98" width="7.53" height="5.40" fill="#d5e474"/>
<rect x="216.19" y="270.98" width="7.53" height="5.40" fill="#d5e474"/>
<rect x="224.52" y="270.98" width="7.53" height="5.40" fill="#d5e474"/>
<rect x="232.85" y="270.98" width="7.53" height="5.40" fill="#f0811a"/>
<rect x="241.18" y="270.98" width="7.53" height="5.40" fill="#d5e474"/>
<rect x="249.52" y="270.98" width="7.53" height="5.40" fill="#d5e474"/>
<rect x="257.85" y="270.98" width="7.53" height="5.40" fill="#d5e474"/>
<rect x="266.18" y="270.98" width="7.53" height="5.40" fill="#d5e474"/>
<rect x="274.51" y="270.98" width="7.53" height="5.40" fill="#d5e474"/>
<rect x="282.84" y="270.98" width="7.53" height="5.40" fill="#d5e474"/>
<rect x="291.17" y="270.98" width="7.53" height="5.40" fill="#d5e474"/>
<rect x="299.50" y="270.98" width="7.53" height="5.40" fill="#d5e474"/>
<rect x="307.83" y="270.98" width="7.53" height="5.40" fill="#d5e474"/>
<rect x="316.16" y="270.98" width="7.53" height="5.40" fill="#d5e474"/>
<rect x="324.49" y="270.98" width="7.53" height="5.40" fill="#d5e474"/>
<rect x="332.82" y="270.98" width="7.53" height="5.40" fill="#d5e474"/>
<rect x="341.15" y="270.98" width="7.53" height="5.40" fill="#d5e474"/>
<rect x="349.48" y="270.98" width="7.53" height="5.40" fill="#d5e474"/>
<rect x="357.82" y="270.98" width="7.53" height="5.40" fill="#d5e474"/>
<rect x="366.15" y="270.98" width="7.53" height="5.40" fill="#d5e474"/>
<rect x="374.48" y="270.98" width="7.53" height="5.40" fill="#d5e474"/>
<rect x="382.81" y="270.98" width="7.53" height="5.40" fill="#d5e474"/>
<rect x="391.14" y="270.98" width="7.53" height="5.40" fill="#d5e474"/>
<rect x="399.47" y="270.98" width="7.53" height="5.40" fill="#d5e474"/>
<rect x="191.20" y="277.18" width="7.53" height="5.40" fill="#d5e474"/>
<rect x="199.53" y="277.18" width="7.53" height="5.40" fill="#d5e474"/>
<rect x="207.86" y="277.18" width="7.53" height="5.40" fill="#d5e474"/>
<rect x="216.19" y="277.18" width="7.53" height="5.40" fill="#d5e474"/>
<rect x="224.52" y="277.18" width="7.53" height="5.40" fill="#d5e474"/>
<rect x="232.85" y="277.18" width="7.53" height="5.40" fill="#d5e474"/>
<rect x="241.18" y="277.18" width="7.53" height="5.40" fill="#f0811a"/>
<rect x="249.52" y="277.18" width="7.53" height="5.40" fill="#d5e474"/>
<rect x="257.85" y="277.18" width="7.53" height="5.40" fill="#d5e474"/>
<rect x="266.18" y="277.18" width="7.53" height="5.40" fill="#d5e474"/>
<rect x="274.51" y="277.18" width="7.53" height="5.40" fill="#d5e474"/>
<rect x="282.84" y="277.18" width="7.53" height="5.40" fill="#d5e474"/>
<rect x="291.17" y="277.18" width="7.53" height="5.40" fill="#d5e474"/>
<rect x="299.50" y="277.18" width="7.53" height="5.40" fill="#d5e474"/>
<rect x="307.83" y="277.18" width="7.53" height="5.40" fill="#d5e474"/>
<rect x="316.16" y="277.18" width="7.53" height="5.40" fill="#d5e474"/>
<rect x="324.49" y="277.18" width="7.53" height="5.40" fill="#d5e474"/>
<rect x="332.82" y="277.18" width="7.53" height="5.40" fill="#d5e474"/>
<rect x="341.15" y="277.18" width="7.53" height="5.40" fill="#d5e474"/>
<rect x="349.48" y="277.18" width="7.53" height="5.40" fill="#d5e474"/>
<rect x="357.82" y="277.18" width="7.53" height="5.40" fill="#d5e474"/>
<rect x="366.15" y="277.18" width="7.53" height="5.40" fill="#d5e474"/>
<rect x="374.48" y="277.18" width="7.53" height="5.40" fill="#d5e474"/>
<rect x="382.81" y="277.18" width="7.53" height="5.40" fill="#d5e474"/>
<rect x="391.14" y="277.18" width="7.53" height="5.40" fill="#d5e474"/>
<rect x="399.47" y="277.18" width="7.53" height="5.40" fill="#d5e474"/>
<rect x="191.20" y="283.37" width="7.53" height="5.40" fill="#d5e474"/>
<rect x="199.53" y="283.37" width="7.53" height="5.40" fill="#d5e474"/>
<rect x="207.86" y="283.37" width="7.53" height="5.40" fill="#d5e474"/>
<rect x="216.19" y="283.37" width="7.53" height="5.40" fill="#d5e474"/>
<rect x="224.52" y="283.37" width="7.53" height="5.40" fill="#d5e474"/>
<rect x="232.85" y="283.37" width="7.53" height="5.40" fill="#d5e474"/>
<rect x="241.18" y="283.37" width="7.53" height="5.40" fill="#d5e474"/>
<rect x="249.52" y="283.37" width="7.53" height="5.40" fill="#f0811a"/>
<rect x="257.85" y="283.37" width="7.53" height="5.40" fill="#d5e474"/>
<rect x="266.18" y="283.37" width="7.53" height="5.40" fill="#d5e474"/>
<rect x="274.51" y="283.37" width="7.53" height="5.40" fill="#d5e474"/>
<rect x="282.84" y="283.37" width="7.53" height="5.40" fill="#d5e474"/>
<rect x="291.17" y="283.37" width="7.53" height="5.40" fill="#d5e474"/>
<rect x="299.50" y="283.37" width="7.53" height="5.40" fill="#d5e474"/>
<rect x="307.83" y="283.37" width="7.53" height="5.40" fill="#d5e474"/>
<rect x="316.16" y="283.37" width="7.53" height="5.40" fill="#d5e474"/>
<rect x="324.49" y="283.37" width="7.53" height="5.40" fill="#d5e474"/>
<rect x="332.82" y="283.37" width="7.53" height="5.40" fill="#d5e474"/>
<rect x="341.15" y="283.37" width="7.53" height="5.40" fill="#d5e474"/>
<rect x="349.48" y="283.37" width="7.53" height="5.40" fill="#d5e474"/>
<rect x="357.82" y="283.37" width="7.53" height="5.40" fill="#d5e474"/>
<rect x="366.15" y="283.37" width="7.53" height="5.40" fill="#d5e474"/>
<rect x="374.48" y="283.37" width="7.53" height="5.40" fill="#d5e474"/>
<rect x="382.81" y="283.37" width="7.53" height="5.40" fill="#d5e474"/>
<rect x="391.14" y="283.37" width="7.53" height="5.40" fill="#d5e474"/>
<rect x="399.47" y="283.37" width="7.53" height="5.40" fill="#d5e474"/>
<rect x="191.20" y="289.57" width="7.53" height="5.40" fill="#d5e474"/>
<rect x="199.53" y="289.57" width="7.53" height="5.40" fill="#d5e474"/>
<rect x="207.86" y="289.57" width="7.53" height="5.40" fill="#d5e474"/>
<rect x="216.19" y="289.57" width="7.53" height="5.40" fill="#d5e474"/>
<rect x="224.52" y="289.57" width="7.53" height="5.40" fill="#d5e474"/>
<rect x="232.85" y="289.57" width="7.53" height="5.40" fill="#d5e474"/>
<rect x="241.18" y="289.57" width="7.53" height="5.40" fill="#d5e474"/>
<rect x="249.52" y="289.57" width="7.53" height="5.40" fill="#d5e474"/>
<rect x="257.85" y="289.57" width="7.53" height="5.40" fill="#f0811a"/>
<rect x="266.18" y="289.57" width="7.53" height="5.40" fill="#d5e474"/>
<rect x="274.51" y="289.57" width="7.53" height="5.40" fill="#d5e474"/>
<rect x="282.84" y="289.57" width="7.53" height="5.40" fill="#d5e474"/>
<rect x="291.17" y="289.57" width="7.53" height="5.40" fill="#d5e474"/>
<rect x="299.50" y="289.57" width="7.53" height="5.40" fill="#d5e474"/>
<rect x="307.83" y="289.57" width="7.53" height="5.40" fill="#d5e474"/>
<rect x="316.16" y="289.57" width="7.53" height="5.40" fill="#d5e474"/>
<rect x="324.49" y="289.57" width="7.53" height="5.40" fill="#d5e474"/>
<rect x="332.82" y="289.57" width="7.53" height="5.40" fill="#d5e474"/>
<rect x="341.15" y="289.57" width="7.53" height="5.40" fill="#d5e474"/>
<rect x="349.48" y="289.57" width="7.53" height="5.40" fill="#d5e474"/>
<rect x="357.82" y="289.57" width="7.53" height="5.40" fill="#d5e474"/>
<rect x="366.15" y="289.57" width="7.53" height="5.40" fill="#d5e474"/>
<rect x="374.48" y="289.57" width="7.53" height="5.40" fill="#d5e474"/>
<rect x="382.81" y="289.57" width="7.53" height="5.40" fill="#d5e474"/>
<rect x="391.14" y="289.57" width="7.53" height="5.40" fill="#d5e474"/>
<rect x="399.47" y="289.57" width="7.53" height="5.40" fill="#d5e474"/>
<rect x="191.20" y="295.77" width="7.53" height="5.40" fill="#d5e474"/>
<rect x="199.53" y="295.77" width="7.53" height="5.40" fill="#d5e474"/>
<rect x="207.86" y="295.77" width="7.53" height="5.40" fill="#d5e474"/>
<rect x="216.19" y="295.77" width="7.53" height="5.40" fill="#d5e474"/>
<rect x="224.52" y="295.77" width="7.53" height="5.40" fill="#d5e474"/>
<rect x="232.85" y="295.77" width="7.53" height="5.40" fill="#d5e474"/>
<rect x="241.18" y="295.77" width="7.53" height="5.40" fill="#d5e474"/>
<rect x="249.52" y="295.77" width="7.53" height="5.40" fill="#d5e474"/>
<rect x="257.85" y="295.77" width="7.53" height="5.40" fill="#d5e474"/>
<rect x="266.18" y="295.77" width="7.53" height="5.40" fill="#faab1b"/>
<rect x="274.51" y="295.77" width="7.53" height="5.40" fill="#d5e474"/>
<rect x="282.84" y="295.77" width="7.53" height="5.40" fill="#d5e474"/>
<rect x="291.17" y="295.77" width="7.53" height="5.40" fill="#f5d52f"/>
<rect x="299.50" y="295.77" width="7.53" height="5.40" fill="#d5e474"/>
<rect x="307.83" y="295.77" width="7.53" height="5.40" fill="#d5e474"/>
<rect x="316.16" y="295.77" width="7.53" height="5.40" fill="#d5e474"/>
<rect x="324.49" y="295.77" width="7.53" height="5.40" fill="#d5e474"/>
<rect x="332.82" y="295.77" width="7.53" height="5.40" fill="#d5e474"/>
<rect x="341.15" y="295.77" width="7.53" height="5.40" fill="#d5e474"/>
<rect x="349.48" y="295.77" width="7.53" height="5.40" fill="#d5e474"/>
<rect x="357.82" y="295.77" width="7.53" height="5.40" fill="#d5e474"/>
<rect x="366.15" y="295.77" width="7.53" height="5.40" fill="#d5e474"/>
<rect x="374.48" y="295.77" width="7.53" height="5.40" fill="#d5e474"/>
<rect x="382.81" y="295.77" width="7.53" height="5.40" fill="#d5e474"/>
<rect x="391.14" y="295.77" width="7.53" height="5.40" fill="#d5e474"/>
<rect x="399.47" y="295.77" width="7.53" height="5.40" fill="#d5e474"/>
<rect x="191.20" y="301.96" width="7.53" height="5.40" fill="#d5e474"/>
<rect x="199.53" y="301.96" width="7.53" height="5.40" fill="#d5e474"/>
<rect x="207.86" y="301.96" width="7.53" height="5.40" fill="#d5e474"/>
<rect x="216.19" y="301.96" width="7.53" height="5.40" fill="#d5e474"/>
<rect x="224.52" y="301.96" width="7.53" height="5.40" fill="#d5e474"/>
<rect x="232.85" y="301.96" width="7.53" height="5.40" fill="#d5e474"/>
<rect x="241.18" y="301.96" width="7.53" height="5.40" fill="#d5e474"/>
<rect x="249.52" y="301.96" width="7.53" height="5.40" fill="#d5e474"/>
<rect x="257.85" y="301.96" width="7.53" height="5.40" fill="#d5e474"/>
<rect x="266.18" y="301.96" width="7.53" height="5.40" fill="#d5e474"/>
<rect x="274.51" y="301.96" width="7.53" height="5.40" fill="#f0811a"/>
<rect x="282.84" y="301.96" width="7.53" height="5.40" fill="#d5e474"/>
<rect x="291.17" y="301.96" width="7.53" height="5.40" fill="#d5e474"/>
<rect x="299.50" y="301.96" width="7.53" height="5.40" fill="#d5e474"/>
<rect x="307.83" y="301.96" width="7.53" height="5.40" fill="#d5e474"/>
<rect x="316.16" y="301.96" width="7.53" height="5.40" fill="#d5e474"/>
<rect x="324.49" y="301.96" width="7.53" height="5.40" fill="#d5e474"/>
<rect x="332.82" y="301.96" width="7.53" height="5.40" fill="#d5e474"/>
<rect x="341.15" y="301.96" width="7.53" height="5.40" fill="#d5e474"/>
<rect x="349.48" y="301.96" width="7.53" height="5.40" fill="#d5e474"/>
<rect x="357.82" y="301.96" width="7.53" height="5.40" fill="#d5e474"/>
<rect x="366.15" y="301.96" width="7.53" height="5.40" fill="#d5e474"/>
<rect x="374.48" y="301.96" width="7.53" height="5.40" fill="#d5e474"/>
<rect x="382.81" y="301.96" width="7.53" height="5.40" fill="#d5e474"/>
<rect x="391.14" y="301.96" width="7.53" height="5.40" fill="#d5e474"/>
<rect x="399.47" y="301.96" width="7.53" height="5.40" fill="#d5e474"/>
<rect x="191.20" y="308.16" width="7.53" height="5.40" fill="#d5e474"/>
<rect x="199.53" y="308.16" width="7.53" height="5.40" fill="#d5e474"/>
<rect x="207.86" y="308.16" width="7.53" height="5.40" fill="#d5e474"/>
<rect x="216.19" y="308.16" width="7.53" height="5.40" fill="#d5e474"/>
<rect x="224.52" y="308.16" width="7.53" height="5.40" fill="#d5e474"/>
<rect x="232.85" y="308.16" width="7.53" height="5.40" fill="#d5e474"/>
<rect x="241.18" y="308.16" width="7.53" height="5.40" fill="#d5e474"/>
<rect x="249.52" y="308.16" width="7.53" height="5.40" fill="#d5e474"/>
<rect x="257.85" y="308.16" width="7.53" height="5.40" fill="#d5e474"/>
<rect x="266.18" y="308.16" width="7.53" height="5.40" fill="#d5e474"/>
<rect x="274.51" y="308.16" width="7.53" height="5.40" fill="#d5e474"/>
<rect x="282.84" y="308.16" width="7.53" height="5.40" fill="#f0811a"/>
<rect x="291.17" y="308.16" width="7.53" height="5.40" fill="#d5e474"/>
<rect x="299.50" y="308.16" width="7.53" height="5.40" fill="#d5e474"/>
<rect x="307.83" y="308.16" width="7.53" height="5.40" fill="#d5e474"/>
<rect x="316.16" y="308.16" width="7.53" height="5.40" fill="#d5e474"/>
<rect x="324.49" y="308.16" width="7.53" height="5.40" fill="#d5e474"/>
<rect x="332.82" y="308.16" width="7.53" height="5.40" fill="#d5e474"/>
<rect x="341.15" y="308.16" width="7.53" height="5.40" fill="#d5e474"/>
<rect x="349.48" y="308.16" width="7.53" height="5.40" fill="#d5e474"/>
<rect x="357.82" y="308.16" width="7.53" height="5.40" fill="#d5e474"/>
<rect x="366.15" y="308.16" width="7.53" height="5.40" fill="#d5e474"/>
<rect x="374.48" y="308.16" width="7.53" height="5.40" fill="#d5e474"/>
<rect x="382.81" y="308.16" width="7.53" height="5.40" fill="#d5e474"/>
<rect x="391.14" y="308.16" width="7.53" height="5.40" fill="#d5e474"/>
<rect x="399.47" y="308.16" width="7.53" height="5.40" fill="#d5e474"/>
<rect x="191.20" y="314.35" width="7.53" height="5.40" fill="#d5e474"/>
<rect x="199.53" y="314.35" width="7.53" height="5.40" fill="#d5e474"/>
<rect x="207.86" y="314.35" width="7.53" height="5.40" fill="#d5e474"/>
<rect x="216.19" y="314.35" width="7.53" height="5.40" fill="#d5e474"/>
<rect x="224.52" y="314.35" width="7.53" height="5.40" fill="#d5e474"/>
<rect x="232.85" y="314.35" width="7.53" height="5.40" fill="#d5e474"/>
<rect x="241.18" y="314.35" width="7.53" height="5.40" fill="#d5e474"/>
<rect x="249.52" y="314.35" width="7.53" height="5.40" fill="#d5e474"/>
<rect x="257.85" y="314.35" width="7.53" height="5.40" fill="#d5e474"/>
<rect x="266.18" y="314.35" width="7.53" height="5.40" fill="#d5e474"/>
<rect x="274.51" y="314.35" width="7.53" height="5.40" fill="#d5e474"/>
<rect x="282.84" y="314.35" width="7.53" height="5.40" fill="#d5e474"/>
<rect x="291.17" y="314.35" width="7.53" height="5.40" fill="#f0811a"/>
<rect x="299.50" y="314.35" width="7.53" height="5.40" fill="#d5e474"/>
<rect x="307.83" y="314.35" width="7.53" height="5.40" fill="#d5e474"/>
<rect x="316.16" y="314.35" width="7.53" height="5.40" fill="#d5e474"/>
<rect x="324.49" y="314.35" width="7.53" height="5.40" fill="#d5e474"/>
<rect x="332.82" y="314.35" width="7.53" height="5.40" fill="#d5e474"/>
<rect x="341.15" y="314.35" width="7.53" height="5.40" fill="#d5e474"/>
<rect x="349.48" y="314.35" width="7.53" height="5.40" fill="#d5e474"/>
<rect x="357.82" y="314.35" width="7.53" height="5.40" fill="#d5e474"/>
<rect x="366.15" y="314.35" width="7.53" height="5.40" fill="#d5e474"/>
<rect x="374.48" y="314.35" width="7.53" height="5.40" fill="#d5e474"/>
<rect x="382.81" y="314.35" width="7.53" height="5.40" fill="#d5e474"/>
<rect x="391.14" y="314.35" width="7.53" height="5.40" fill="#d5e474"/>
<rect x="399.47" y="314.35" width="7.53" height="5.40" fill="#d5e474"/>
<rect x="191.20" y="320.55" width="7.53" height="5.40" fill="#d5e474"/>
<rect x="199.53" y="320.55" width="7.53" height="5.40" fill="#d5e474"/>
<rect x="207.86" y="320.55" width="7.53" height="5.40" fill="#d5e474"/>
<rect x="216.19" y="320.55" width="7.53" height="5.40" fill="#d5e474"/>
<rect x="224.52" y="320.55" width="7.53" height="5.40" fill="#d5e474"/>
<rect x="232.85" y="320.55" width="7.53" height="5.40" fill="#d5e474"/>
<rect x="241.18" y="320.55" width="7.53" height="5.40" fill="#d5e474"/>
<rect x="249.52" y="320.55" width="7.53" height="5.40" fill="#d5e474"/>
<rect x="257.85" y="320.55" width="7.53" height="5.40" fill="#d5e474"/>
<rect x="266.18" y="320.55" width="7.53" height="5.40" fill="#d5e474"/>
<rect x="274.51" y="320.55" width="7.53" height="5.40" fill="#d5e474"/>
<rect x="282.84" y="320.55" width="7.53" height="5.40" fill="#d5e474"/>
<rect x="291.17" y="320.55" width="7.53" height="5.40" fill="#d5e474"/>
<rect x="299.50" y="320.55" width="7.53" height="5.40" fill="#f0811a"/>
<rect x="307.83" y="320.55" width="7.53" height="5.40" fill="#d5e474"/>
<rect x="316.16" y="320.55" width="7.53" height="5.40" fill="#d5e474"/>
<rect x="324.49" y="320.55" width="7.53" height="5.40" fill="#d5e474"/>
<rect x="332.82" y="320.55" width="7.53" height="5.40" fill="#d5e474"/>
<rect x="341.15" y="320.55" width="7.53" height="5.40" fill="#d5e474"/>
<rect x="349.48" y="320.55" width="7.53" height="5.40" fill="#d5e474"/>
<rect x="357.82" y="320.55" width="7.53" height="5.40" fill="#d5e474"/>
<rect x="366.15" y="320.55" width="7.53" height="5.40" fill="#d5e474"/>
<rect x="374.48" y="320.55" width="7.53" height="5.40" fill="#d5e474"/>
<rect x="382.81" y="320.55" width="7.53" height="5.40" fill="#d5e474"/>
<rect x="391.14" y="320.55" width="7.53" height="5.40" fill="#d5e474"/>
<rect x="399.47" y="320.55" width="7.53" height="5.40" fill="#d5e474"/>
<rect x="191.20" y="326.75" width="7.53" height="5.40" fill="#d5e474"/>
<rect x="199.53" y="326.75" width="7.53" height="5.40" fill="#d5e474"/>
<rect x="207.86" y="326.75" width="7.53" height="5.40" fill="#d5e474"/>
<rect x="216.19" y="326.75" width="7.53" height="5.40" fill="#d5e474"/>
<rect x="224.52" y="326.75" width="7.53" height="5.40" fill="#d5e474"/>
<rect x="232.85" y="326.75" width="7.53" height="5.40" fill="#d5e474"/>
<rect x="241.18" y="326.75" width="7.53" height="5.40" fill="#d5e474"/>
<rect x="249.52" y="326.75" width="7.53" height="5.40" fill="#d5e474"/>
<rect x="257.85" y="326.75" width="7.53" height="5.40" fill="#d5e474"/>
<rect x="266.18" y="326.75" width="7.53" height="5.40" fill="#d5e474"/>
<rect x="274.51" y="326.75" width="7.53" height="5.40" fill="#d5e474"/>
<rect x="282.84" y="326.75" width="7.53" height="5.40" fill="#d5e474"/>
<rect x="291.17" y="326.75" width="7.53" height="5.40" fill="#d5e474"/>
<rect x="299.50" y="326.75" width="7.53" height="5.40" fill="#d5e474"/>
<rect x="307.83" y="326.75" width="7.53" height="5.40" fill="#f0811a"/>
<rect x="316.16" y="326.75" width="7.53" height="5.40" fill="#d5e474"/>
<rect x="324.49" y="326.75" width="7.53" height="5.40" fill="#d5e474"/>
<rect x="332.82" y="326.75" width="7.53" height="5.40" fill="#d5e474"/>
<rect x="341.15" y="326.75" width="7.53" height="5.40" fill="#d5e474"/>
<rect x="349.48" y="326.75" width="7.53" height="5.40" fill="#d5e474"/>
<rect x="357.82" y="326.75" width="7.53" height="5.40" fill="#d5e474"/>
<rect x="366.15" y="326.75" width="7.53" height="5.40" fill="#d5e474"/>
<rect x="374.48" y="326.75" width="7.53" height="5.40" fill="#d5e474"/>
<rect x="382.81" y="326.75" width="7.53" height="5.40" fill="#d5e474"/>
<rect x="391.14" y="326.75" width="7.53" height="5.40" fill="#d5e474"/>
<rect x="399.47" y="326.75" width="7.53" height="5.40" fill="#d5e474"/>
<rect x="191.20" y="332.94" width="7.53" height="5.40" fill="#d5e474"/>
<rect x="199.53" y="332.94" width="7.53" height="5.40" fill="#d5e474"/>
<rect x="207.86" y="332.94" width="7.53" height="5.40" fill="#d5e474"/>
<rect x="216.19" y="332.94" width="7.53" height="5.40" fill="#d5e474"/>
<rect x="224.52" y="332.94" width="7.53" height="5.40" fill="#d5e474"/>
<rect x="232.85" y="332.94" width="7.53" height="5.40" fill="#d5e474"/>
<rect x="241.18" y="332.94" width="7.53" height="5.40" fill="#d5e474"/>
<rect x="249.52" y="332.94" width="7.53" height="5.40" fill="#d5e474"/>
<rect x="257.85" y="332.94" width="7.53" height="5.40" fill="#d5e474"/>
<rect x="266.18" y="332.94" width="7.53" height="5.40" fill="#d5e474"/>
<rect x="274.51" y="332.94" width="7.53" height="5.40" fill="#d5e474"/>
<rect x="282.84" y="332.94" width="7.53" height="5.40" fill="#d5e474"/>
<rect x="291.17" y="332.94" width="7.53" height="5.40" fill="#d5e474"/>
<rect x="299.50" y="332.94" width="7.53" height="5.40" fill="#d5e474"/>
<rect x="307.83" y="332.94" width="7.53" height="5.40" fill="#d5e474"/>
<rect x="316.16" y="332.94" width="7.53" height="5.40" fill="#f0811a"/>
<rect x="324.49" y="332.94" width="7.53" height="5.40" fill="#d5e474"/>
<rect x="332.82" y="332.94" width="7.53" height="5.40" fill="#d5e474"/>
<rect x="341.15" y="332.94" width="7.53" height="5.40" fill="#d5e474"/>
<rect x="349.48" y="332.94" width="7.53" height="5.40" fill="#d5e474"/>
<rect x="357.82" y="332.94" width="7.53" height="5.40" fill="#d5e474"/>
<rect x="366.15" y="332.94" width="7.53" height="5.40" fill="#d5e474"/>
<rect x="374.48" y="332.94" width="7.53" height="5.40" fill="#d5e474"/>
<rect x="382.81" y="332.94" width="7.53" height="5.40" fill="#d5e474"/>
<rect x="391.14" y="332.94" width="7.53" height="5.40" fill="#d5e474"/>
<rect x="399.47" y="332.94" width="7.53" height="5.40" fill="#d5e474"/>
<rect x="191.20" y="339.14" width="7.53" height="5.40" fill="#d5e474"/>
<rect x="199.53" y="339.14" width="7.53" height="5.40" fill="#d5e474"/>
<rect x="207.86" y="339.14" width="7.53" height="5.40" fill="#d5e474"/>
<rect x="216.19" y="339.14" width="7.53" height="5.40" fill="#d5e474"/>
<rect x="224.52" y="339.14" width="7.53" height="5.40" fill="#d5e474"/>
<rect x="232.85" y="339.14" width="7.53" height="5.40" fill="#d5e474"/>
<rect x="241.18" y="339.14" width="7.53" height="5.40" fill="#dde262"/>
<rect x="249.52" y="339.14" width="7.53" height="5.40" fill="#d5e474"/>
<rect x="257.85" y="339.14" width="7.53" height="5.40" fill="#d5e474"/>
<rect x="266.18" y="339.14" width="7.53" height="5.40" fill="#e5e053"/>
<rect x="274.51" y="339.14" width="7.53" height="5.40" fill="#d5e474"/>
<rect x="282.84" y="339.14" width="7.53" height="5.40" fill="#d5e474"/>
<rect x="291.17" y="339.14" width="7.53" height="5.40" fill="#d5e474"/>
<rect x="299.50" y="339.14" width="7.53" height="5.40" fill="#d5e474"/>
<rect x="307.83" y="339.14" width="7.53" height="5.40" fill="#d5e474"/>
<rect x="316.16" y="339.14" width="7.53" height="5.40" fill="#d5e474"/>
<rect x="324.49" y="339.14" width="7.53" height="5.40" fill="#f6951c"/>
<rect x="332.82" y="339.14" width="7.53" height="5.40" fill="#d5e474"/>
<rect x="341.15" y="339.14" width="7.53" height="5.40" fill="#d5e474"/>
<rect x="349.48" y="339.14" width="7.53" height="5.40" fill="#d5e474"/>
<rect x="357.82" y="339.14" width="7.53" height="5.40" fill="#d5e474"/>
<rect x="366.15" y="339.14" width="7.53" height="5.40" fill="#d5e474"/>
<rect x="374.48" y="339.14" width="7.53" height="5.40" fill="#d5e474"/>
<rect x="382.81" y="339.14" width="7.53" height="5.40" fill="#d5e474"/>
<rect x="391.14" y="339.14" width="7.53" height="5.40" fill="#d5e474"/>
<rect x="399.47" y="339.14" width="7.53" height="5.40" fill="#d5e474"/>
<rect x="191.20" y="345.33" width="7.53" height="5.40" fill="#d5e474"/>
<rect x="199.53" y="345.33" width="7.53" height="5.40" fill="#d5e474"/>
<rect x="207.86" y="345.33" width="7.53" height="5.40" fill="#d5e474"/>
<rect x="216.19" y="345.33" width="7.53" height="5.40" fill="#d5e474"/>
<rect x="224.52" y="345.33" width="7.53" height="5.40" fill="#d5e474"/>
<rect x="232.85" y="345.33" width="7.53" height="5.40" fill="#d5e474"/>
<rect x="241.18" y="345.33" width="7.53" height="5.40" fill="#d5e474"/>
<rect x="249.52" y="345.33" width="7.53" height="5.40" fill="#d5e474"/>
<rect x="257.85" y="345.33" width="7.53" height="5.40" fill="#d5e474"/>
<rect x="266.18" y="345.33" width="7.53" height="5.40" fill="#d5e474"/>
<rect x="274.51" y="345.33" width="7.53" height="5.40" fill="#d5e474"/>
<rect x="282.84" y="345.33" width="7.53" height="5.40" fill="#d5e474"/>
<rect x="291.17" y="345.33" width="7.53" height="5.40" fill="#d5e474"/>
<rect x="299.50" y="345.33" width="7.53" height="5.40" fill="#d5e474"/>
<rect x="307.83" y="345.33" width="7.53" height="5.40" fill="#d5e474"/>
<rect x="316.16" y="345.33" width="7.53" height="5.40" fill="#d5e474"/>
<rect x="324.49" y="345.33" width="7.53" height="5.40" fill="#d5e474"/>
<rect x="332.82" y="345.33" width="7.53" height="5.40" fill="#f0811a"/>
<rect x="341.15" y="345.33" width="7.53" height="5.40" fill="#d5e474"/>
<rect x="349.48" y="345.33" width="7.53" height="5.40" fill="#d5e474"/>
<rect x="357.82" y="345.33" width="7.53" height="5.40" fill="#d5e474"/>
<rect x="366.15" y="345.33" width="7.53" height="5.40" fill="#d5e474"/>
<rect x="374.48" y="345.33" width="7.53" height="5.40" fill="#d5e474"/>
<rect x="382.81" y="345.33" width="7.53" height="5.40" fill="#d5e474"/>
<rect x="391.14" y="345.33" width="7.53" height="5.40" fill="#d5e474"/>
<rect x="399.47" y="345.33" width="7.53" height="5.40" fill="#d5e474"/>
<rect x="191.20" y="351.53" width="7.53" height="5.40" fill="#d5e474"/>
<rect x="199.53" y="351.53" width="7.53" height="5.40" fill="#d5e474"/>
<rect x="207.86" y="351.53" width="7.53" height="5.40" fill="#d5e474"/>
<rect x="216.19" y="351.53" width="7.53" height="5.40" fill="#d5e474"/>
<rect x="224.52" y="351.53" width="7.53" height="5.40" fill="#d5e474"/>
<rect x="232.85" y="351.53" width="7.53" height="5.40" fill="#d5e474"/>
<rect x="241.18" y="351.53" width="7.53" height="5.40" fill="#d5e474"/>
<rect x="249.52" y="351.53" width="7.53" height="5.40" fill="#d5e474"/>
<rect x="257.85" y="351.53" width="7.53" height="5.40" fill="#d5e474"/>
<rect x="266.18" y="351.53" width="7.53" height="5.40" fill="#d5e474"/>
<rect x="274.51" y="351.53" width="7.53" height="5.40" fill="#d5e474"/>
<rect x="282.84" y="351.53" width="7.53" height="5.40" fill="#d5e474"/>
<rect x="291.17" y="351.53" width="7.53" height="5.40" fill="#d5e474"/>
<rect x="299.50" y="351.53" width="7.53" height="5.40" fill="#d5e474"/>
<rect x="307.83" y="351.53" width="7.53" height="5.40" fill="#d5e474"/>
<rect x="316.16" y="351.53" width="7.53" height="5.40" fill="#d5e474"/>
<rect x="324.49" y="351.53" width="7.53" height="5.40" fill="#d5e474"/>
<rect x="332.82" y="351.53" width="7.53" height="5.40" fill="#d5e474"/>
<rect x="341.15" y="351.53" width="7.53" height="5.40" fill="#f0811a"/>
<rect x="349.48" y="351.53" width="7.53" height="5.40" fill="#d5e474"/>
<rect x="357.82" y="351.53" width="7.53" height="5.40" fill="#d5e474"/>
<rect x="366.15" y="351.53" width="7.53" height="5.40" fill="#d5e474"/>
<rect x="374.48" y="351.53" width="7.53" height="5.40" fill="#d5e474"/>
<rect x="382.81" y="351.53" width="7.53" height="5.40" fill="#d5e474"/>
<rect x="391.14" y="351.53" width="7.53" height="5.40" fill="#d5e474"/>
<rect x="399.47" y="351.53" width="7.53" height="5.40" fill="#d5e474"/>
<rect x="191.20" y="357.73" width="7.53" height="5.40" fill="#d5e474"/>
<rect x="199.53" y="357.73" width="7.53" height="5.40" fill="#d5e474"/>
<rect x="207.86" y="357.73" width="7.53" height="5.40" fill="#d5e474"/>
<rect x="216.19" y="357.73" width="7.53" height="5.40" fill="#d5e474"/>
<rect x="224.52" y="357.73" width="7.53" height="5.40" fill="#d5e474"/>
<rect x="232.85" y="357.73" width="7.53" height="5.40" fill="#d5e474"/>
<rect x="241.18" y="357.73" width="7.53" height="5.40" fill="#d5e474"/>
<rect x="249.52" y="357.73" width="7.53" height="5.40" fill="#d5e474"/>
<rect x="257.85" y="357.73" width="7.53" height="5.40" fill="#d5e474"/>
<rect x="266.18" y="357.73" width="7.53" height="5.40" fill="#d5e474"/>
<rect x="274.51" y="357.73" width="7.53" height="5.40" fill="#d5e474"/>
<rect x="282.84" y="357.73" width="7.53" height="5.40" fill="#d5e474"/>
<rect x="291.17" y="357.73" width="7.53" height="5.40" fill="#d5e474"/>
<rect x="299.50" y="357.73" width="7.53" height="5.40" fill="#d5e474"/>
<rect x="307.83" y="357.73" width="7.53" height="5.40" fill="#d5e474"/>
<rect x="316.16" y="357.73" width="7.53" height="5.40" fill="#d5e474"/>
<rect x="324.49" y="357.73" width="7.53" height="5.40" fill="#d5e474"/>
<rect x="332.82" y="357.73" width="7.53" height="5.40" fill="#d5e474"/>
<rect x="341.15" y="357.73" width="7.53" height="5.40" fill="#d5e474"/>
<rect x="349.48" y="357.73" width="7.53" height="5.40" fill="#f0811a"/>
<rect x="357.82" y="357.73" width="7.53" height="5.40" fill="#d5e474"/>
<rect x="366.15" y="357.73" width="7.53" height="5.40" fill="#d5e474"/>
<rect x="374.48" y="357.73" width="7.53" height="5.40" fill="#d5e474"/>
<rect x="382.81" y="357.73" width="7.53" height="5.40" fill="#d5e474"/>
<rect x="391.14" y="357.73" width="7.53" height="5.40" fill="#d5e474"/>
<rect x="399.47" y="357.73" width="7.53" height="5.40" fill="#d5e474"/>
<rect x="191.20" y="363.92" width="7.53" height="5.40" fill="#d5e474"/>
<rect x="199.53" y="363.92" width="7.53" height="5.40" fill="#d5e474"/>
<rect x="207.86" y="363.92" width="7.53" height="5.40" fill="#d5e474"/>
<rect x="216.19" y="363.92" width="7.53" height="5.40" fill="#d5e474"/>
<rect x="224.52" y="363.92" width="7.53" height="5.40" fill="#d5e474"/>
<rect x="232.85" y="363.92" width="7.53" height="5.40" fill="#d5e474"/>
<rect x="241.18" y="363.92" width="7.53" height="5.40" fill="#d5e474"/>
<rect x="249.52" y="363.92" width="7.53" height="5.40" fill="#d5e474"/>
<rect x="257.85" y="363.92" width="7.53" height="5.40" fill="#d5e474"/>
<rect x="266.18" y="363.92" width="7.53" height="5.40" fill="#d5e474"/>
<rect x="274.51" y="363.92" width="7.53" height="5.40" fill="#d5e474"/>
<rect x="282.84" y="363.92" width="7.53" height="5.40" fill="#d5e474"/>
<rect x="291.17" y="363.92" width="7.53" height="5.40" fill="#d5e474"/>
<rect x="299.50" y="363.92" width="7.53" height="5.40" fill="#d5e474"/>
<rect x="307.83" y="363.92" width="7.53" height="5.40" fill="#d5e474"/>
<rect x="316.16" y="363.92" width="7.53" height="5.40" fill="#d5e474"/>
<rect x="324.49" y="363.92" width="7.53" height="5.40" fill="#d5e474"/>
<rect x="332.82" y="363.92" width="7.53" height="5.40" fill="#d5e474"/>
<rect x="341.15" y="363.92" width="7.53" height="5.40" fill="#d5e474"/>
<rect x="349.48" y="363.92" width="7.53" height="5.40" fill="#d5e474"/>
<rect x="357.82" y="363.92" width="7.53" height="5.40" fill="#f0811a"/>
<rect x="366.15" y="363.92" width="7.53" height="5.40" fill="#d5e474"/>
<rect x="374.48" y="363.92" width="7.53" height="5.40" fill="#d5e474"/>
<rect x="382.81" y="363.92" width="7.53" height="5.40" fill="#d5e474"/>
<rect x="391.14" y="363.92" width="7.53" height="5.40" fill="#d5e474"/>
<rect x="399.47" y="363.92" width="7.53" height="5.40" fill="#d5e474"/>
<rect x="191.20" y="370.12" width="7.53" height="5.40" fill="#d5e474"/>
<rect x="199.53" y="370.12" width="7.53" height="5.40" fill="#d5e474"/>
<rect x="207.86" y="370.12" width="7.53" height="5.40" fill="#d5e474"/>
<rect x="216.19" y="370.12" width="7.53" height="5.40" fill="#d5e474"/>
<rect x="224.52" y="370.12" width="7.53" height="5.40" fill="#d5e474"/>
<rect x="232.85" y="370.12" width="7.53" height="5.40" fill="#d5e474"/>
<rect x="241.18" y="370.12" width="7.53" height="5.40" fill="#d5e474"/>
<rect x="249.52" y="370.12" width="7.53" height="5.40" fill="#d5e474"/>
<rect x="257.85" y="370.12" width="7.53" height="5.40" fill="#d5e474"/>
<rect x="266.18" y="370.12" width="7.53" height="5.40" fill="#d5e474"/>
<rect x="274.51" y="370.12" width="7.53" height="5.40" fill="#d5e474"/>
<rect x="282.84" y="370.12" width="7.53" height="5.40" fill="#d5e474"/>
<rect x="291.17" y="370.12" width="7.53" height="5.40" fill="#d5e474"/>
<rect x="299.50" y="370.12" width="7.53" height="5.40" fill="#d5e474"/>
<rect x="307.83" y="370.12" width="7.53" height="5.40" fill="#d5e474"/>
<rect x="316.16" y="370.12" width="7.53" height="5.40" fill="#d5e474"/>
<rect x="324.49" y="370.12" width="7.53" height="5.40" fill="#d5e474"/>
<rect x="332.82" y="370.12" width="7.53" height="5.40" fill="#d5e474"/>
<rect x="341.15" y="370.12" width="7.53" height="5.40" fill="#d5e474"/>
<rect x="349.48" y="370.12" width="7.53" height="5.40" fill="#d5e474"/>
<rect x="357.82" y="370.12" width="7.53" height="5.40" fill="#d5e474"/>
<rect x="366.15" y="370.12" width="7.53" height="5.40" fill="#f0811a"/>
<rect x="374.48" y="370.12" width="7.53" height="5.40" fill="#d5e474"/>
<rect x="382.81" y="370.12" width="7.53" height="5.40" fill="#d5e474"/>
<rect x="391.14" y="370.12" width="7.53" height="5.40" fill="#d5e474"/>
<rect x="399.47" y="370.12" width="7.53" height="5.40" fill="#d5e474"/>
<rect x="191.20" y="376.32" width="7.53" height="5.40" fill="#d5e474"/>
<rect x="199.53" y="376.32" width="7.53" height="5.40" fill="#d5e474"/>
<rect x="207.86" y="376.32" width="7.53" height="5.40" fill="#d5e474"/>
<rect x="216.19" y="376.32" width="7.53" height="5.40" fill="#d5e474"/>
<rect x="224.52" y="376.32" width="7.53" height="5.40" fill="#d5e474"/>
<rect x="232.85" y="376.32" width="7.53" height="5.40" fill="#d5e474"/>
<rect x="241.18" y="376.32" width="7.53" height="5.40" fill="#d5e474"/>
<rect x="249.52" y="376.32" width="7.53" height="5.40" fill="#d5e474"/>
<rect x="257.85" y="376.32" width="7.53" height="5.40" fill="#d5e474"/>
<rect x="266.18" y="376.32" width="7.53" height="5.40" fill="#d5e474"/>
<rect x="274.51" y="376.32" width="7.53" height="5.40" fill="#d5e474"/>
<rect x="282.84" y="376.32" width="7.53" height="5.40" fill="#d5e474"/>
<rect x="291.17" y="376.32" width="7.53" height="5.40" fill="#d5e474"/>
<rect x="299.50" y="376.32" width="7.53" height="5.40" fill="#d5e474"/>
<rect x="307.83" y="376.32" width="7.53" height="5.40" fill="#d5e474"/>
<rect x="316.16" y="376.32" width="7.53" height="5.40" fill="#d5e474"/>
<rect x="324.49" y="376.32" width="7.53" height="5.40" fill="#d5e474"/>
<rect x="332.82" y="376.32" width="7.53" height="5.40" fill="#d5e474"/>
<rect x="341.15" y="376.32" width="7.53" height="5.40" fill="#d5e474"/>
<rect x="349.48" y="376.32" width="7.53" height="5.40" fill="#d5e474"/>
<rect x="357.82" y="376.32" width="7.53" height="5.40" fill="#d5e474"/>
<rect x="366.15" y="376.32" width="7.53" height="5.40" fill="#d5e474"/>
<rect x="374.48" y="376.32" width="7.53" height="5.40" fill="#f0811a"/>
<rect x="382.81" y="376.32" width="7.53" height="5.40" fill="#d5e474"/>
<rect x="391.14" y="376.32" width="7.53" height="5.40" fill="#d5e474"/>
<rect x="399.47" y="376.32" width="7.53" height="5.40" fill="#d5e474"/>
<rect x="191.20" y="382.51" width="7.53" height="5.40" fill="#d5e474"/>
<rect x="199.53" y="382.51" width="7.53" height="5.40" fill="#d5e474"/>
<rect x="207.86" y="382.51" width="7.53" height="5.40" fill="#d5e474"/>
<rect x="216.19" y="382.51" width="7.53" height="5.40" fill="#f3dc34"/>
<rect x="224.52" y="382.51" width="7.53" height="5.40" fill="#d5e474"/>
<rect x="232.85" y="382.51" width="7.53" height="5.40" fill="#d5e474"/>
<rect x="241.18" y="382.51" width="7.53" height="5.40" fill="#d5e474"/>
<rect x="249.52" y="382.51" width="7.53" height="5.40" fill="#d5e474"/>
<rect x="257.85" y="382.51" width="7.53" height="5.40" fill="#d5e474"/>
<rect x="266.18" y="382.51" width="7.53" height="5.40" fill="#d5e474"/>
<rect x="274.51" y="382.51" width="7.53" height="5.40" fill="#d5e474"/>
<rect x="282.84" y="382.51" width="7.53" height="5.40" fill="#d5e474"/>
<rect x="291.17" y="382.51" width="7.53" height="5.40" fill="#d5e474"/>
<rect x="299.50" y="382.51" width="7.53" height="5.40" fill="#d5e474"/>
<rect x="307.83" y="382.51" width="7.53" height="5.40" fill="#d5e474"/>
<rect x="316.16" y="382.51" width="7.53" height="5.40" fill="#d5e474"/>
<rect x="324.49" y="382.51" width="7.53" height="5.40" fill="#d5e474"/>
<rect x="332.82" y="382.51" width="7.53" height="5.40" fill="#d5e474"/>
<rect x="341.15" y="382.51" width="7.53" height="5.40" fill="#f89c1c"/>
<rect x="349.48" y="382.51" width="7.53" height="5.40" fill="#d5e474"/>
<rect x="357.82" y="382.51" width="7.53" height="5.40" fill="#d5e474"/>
<rect x="366.15" y="382.51" width="7.53" height="5.40" fill="#d5e474"/>
<rect x="374.48" y="382.51" width="7.53" height="5.40" fill="#d5e474"/>
<rect x="382.81" y="382.51" width="7.53" height="5.40" fill="#d5e474"/>
<rect x="391.14" y="382.51" width="7.53" height="5.40" fill="#d5e474"/>
<rect x="399.47" y="382.51" width="7.53" height="5.40" fill="#d5e474"/>
<rect x="191.20" y="388.71" width="7.53" height="5.40" fill="#d5e474"/>
<rect x="199.53" y="388.71" width="7.53" height="5.40" fill="#d5e474"/>
<rect x="207.86" y="388.71" width="7.53" height="5.40" fill="#d5e474"/>
<rect x="216.19" y="388.71" width="7.53" height="5.40" fill="#d5e474"/>
<rect x="224.52" y="388.71" width="7.53" height="5.40" fill="#d5e474"/>
<rect x="232.85" y="388.71" width="7.53" height="5.40" fill="#d5e474"/>
<rect x="241.18" y="388.71" width="7.53" height="5.40" fill="#d5e474"/>
<rect x="249.52" y="388.71" width="7.53" height="5.40" fill="#d5e474"/>
<rect x="257.85" y="388.71" width="7.53" height="5.40" fill="#d5e474"/>
<rect x="266.18" y="388.71" width="7.53" height="5.40" fill="#d5e474"/>
<rect x="274.51" y="388.71" width="7.53" height="5.40" fill="#d5e474"/>
<rect x="282.84" y="388.71" width="7.53" height="5.40" fill="#d5e474"/>
<rect x="291.17" y="388.71" width="7.53" height="5.40" fill="#d5e474"/>
<rect x="299.50" y="388.71" width="7.53" height="5.40" fill="#d5e474"/>
<rect x="307.83" y="388.71" width="7.53" height="5.40" fill="#d5e474"/>
<rect x="316.16" y="388.71" width="7.53" height="5.40" fill="#d5e474"/>
<rect x="324.49" y="388.71" width="7.53" height="5.40" fill="#d5e474"/>
<rect x="332.82" y="388.71" width="7.53" height="5.40" fill="#d5e474"/>
<rect x="341.15" y="388.71" width="7.53" height="5.40" fill="#d5e474"/>
<rect x="349.48" y="388.71" width="7.53" height="5.40" fill="#d5e474"/>
<rect x="357.82" y="388.71" width="7.53" height="5.40" fill="#d5e474"/>
<rect x="366.15" y="388.71" width="7.53" height="5.40" fill="#d5e474"/>
<rect x="374.48" y="388.71" width="7.53" height="5.40" fill="#d5e474"/>
<rect x="382.81" y="388.71" width="7.53" height="5.40" fill="#d5e474"/>
<rect x="391.14" y="388.71" width="7.53" height="5.40" fill="#f0811a"/>
<rect x="399.47" y="388.71" width="7.53" height="5.40" fill="#d5e474"/>
<rect x="191.20" y="394.90" width="7.53" height="5.40" fill="#d5e474"/>
<rect x="199.53" y="394.90" width="7.53" height="5.40" fill="#d5e474"/>
<rect x="207.86" y="394.90" width="7.53" height="5.40" fill="#d5e474"/>
<rect x="216.19" y="394.90" width="7.53" height="5.40" fill="#d5e474"/>
<rect x="224.52" y="394.90" width="7.53" height="5.40" fill="#d5e474"/>
<rect x="232.85" y="394.90" width="7.53" height="5.40" fill="#d5e474"/>
<rect x="241.18" y="394.90" width="7.53" height="5.40" fill="#d5e474"/>
<rect x="249.52" y="394.90" width="7.53" height="5.40" fill="#d5e474"/>
<rect x="257.85" y="394.90" width="7.53" height="5.40" fill="#d5e474"/>
<rect x="266.18" y="394.90" width="7.53" height="5.40" fill="#d5e474"/>
<rect x="274.51" y="394.90" width="7.53" height="5.40" fill="#d5e474"/>
<rect x="282.84" y="394.90" width="7.53" height="5.40" fill="#d5e474"/>
<rect x="291.17" y="394.90" width="7.53" height="5.40" fill="#f1851b"/>
<rect x="299.50" y="394.90" width="7.53" height="5.40" fill="#d5e474"/>
<rect x="307.83" y="394.90" width="7.53" height="5.40" fill="#d5e474"/>
<rect x="316.16" y="394.90" width="7.53" height="5.40" fill="#d5e474"/>
<rect x="324.49" y="394.90" width="7.53" height="5.40" fill="#d5e474"/>
<rect x="332.82" y="394.90" width="7.53" height="5.40" fill="#d5e474"/>
<rect x="341.15" y="394.90" width="7.53" height="5.40" fill="#d5e474"/>
<rect x="349.48" y="394.90" width="7.53" height="5.40" fill="#d5e474"/>
<rect x="357.82" y="394.90" width="7.53" height="5.40" fill="#d5e474"/>
<rect x="366.15" y="394.90" width="7.53" height="5.40" fill="#d5e474"/>
<rect x="374.48" y="394.90" width="7.53" height="5.40" fill="#d5e474"/>
<rect x="382.81" y="394.90" width="7.53" height="5.40" fill="#d5e474"/>
<rect x="391.14" y="394.90" width="7.53" height="5.40" fill="#d5e474"/>
<rect x="399.47" y="394.90" width="7.53" height="5.40" fill="#d5e474"/>
</g>
<g class="yl" transform="rotate(0.05 171 320)">
<text x="186.50" y="244.80">a (n=26916)</text>
<text x="186.50" y="250.99">b (n=5171)</text>
<text x="186.50" y="257.19">c (n=10281)</text>
<text x="186.50" y="263.39">d (n=12903)</text>
<text x="186.50" y="269.58">e (n=39554)</text>
<text x="186.50" y="275.78">f (n=7203)</text>
<text x="186.50" y="281.98">g (n=6124)</text>
<text x="186.50" y="288.17">h (n=16110)</text>
<text x="186.50" y="294.37">i (n=22698)</text>
<text x="186.50" y="300.56">j (n=837)</text>
<text x="186.50" y="306.76">k (n=2357)</text>
<text x="186.50" y="312.96">l (n=13602)</text>
<text x="186.50" y="319.15">m (n=8511)</text>
<text x="186.50" y="325.35">n (n=23028)</text>
<text x="186.50" y="331.54">o (n=23712)</text>
<text x="186.50" y="337.74">p (n=6493)</text>
<text x="186.50" y="343.94">q (n=278)</text>
<text x="186.50" y="350.13">r (n=21010)</text>
<text x="186.50" y="356.33">s (n=21177)</text>
<text x="186.50" y="362.53">t (n=28966)</text>
<text x="186.50" y="368.72">u (n=8039)</text>
<text x="186.50" y="374.92">v (n=3160)</text>
<text x="186.50" y="381.11">w (n=5592)</text>
<text x="186.50" y="387.31">x (n=668)</text>
<text x="186.50" y="393.51">y (n=5354)</text>
<text x="186.50" y="399.70">z (n=255)</text>
</g><g class="xl" transform="rotate(0.05 299 410)">
<text x="194.97" y="410.20">a</text>
<text x="203.30" y="410.20">b</text>
<text x="211.63" y="410.20">c</text>
<text x="219.96" y="410.20">d</text>
<text x="228.29" y="410.20">e</text>
<text x="236.62" y="410.20">f</text>
<text x="244.95" y="410.20">g</text>
<text x="253.28" y="410.20">h</text>
<text x="261.61" y="410.20">i</text>
<text x="269.94" y="410.20">j</text>
<text x="278.27" y="410.20">k</text>
<text x="286.60" y="410.20">l</text>
<text x="294.93" y="410.20">m</text>
<text x="303.27" y="410.20">n</text>
<text x="311.60" y="410.20">o</text>
<text x="319.93" y="410.20">p</text>
<text x="328.26" y="410.20">q</text>
<text x="336.59" y="410.20">r</text>
<text x="344.92" y="410.20">s</text>
<text x="353.25" y="410.20">t</text>
<text x="361.58" y="410.20">u</text>
<text x="369.91" y="410.20">v</text>
<text x="378.24" y="410.20">w</text>
<text x="386.57" y="410.20">x</text>
<text x="394.90" y="410.20">y</text>
<text x="403.23" y="410.20">z</text>
</g>
<text class="ti" x="297.00" y="231.40" transform="rotate(0.05 297 231)">Substitution</text>
<text class="ca" x="301.00" y="424.80" transform="rotate(0.05 301 425)">Weighted F<tspan class="os">1</tspan>-score: <tspan class="os">0</tspan>.<tspan dy="1.9">9</tspan>7</text>
<defs><filter id="bl" x="-2%" y="-2%" width="104%" height="104%"><feGaussianBlur stdDeviation="0.35"/></filter></defs>
<defs><linearGradient id="cb" x1="0" y1="1" x2="0" y2="0"><stop offset="0.0" stop-color="#d5e474"/><stop offset="0.25" stop-color="#f3dc34"/><stop offset="0.5" stop-color="#fbb91a"/><stop offset="0.75" stop-color="#f89c1c"/><stop offset="1.0" stop-color="#ee7a1a"/></linearGradient></defs>
<rect x="416.1" y="243.0" width="6.60" height="155.60" fill="url(#cb)"/>
<g class="cbl" transform="rotate(0.05 435 320)">
<text x="430.4" y="401.25">0.0</text>
<line x1="416.1" x2="425.9" y1="367.50" y2="367.50" stroke="#3c3c3c" stroke-width="0.55"/>
<text x="430.4" y="370.13">0.2</text>
<line x1="416.1" x2="425.9" y1="336.50" y2="336.50" stroke="#3c3c3c" stroke-width="0.55"/>
<text x="430.4" y="339.01">0.4</text>
<line x1="416.1" x2="425.9" y1="305.50" y2="305.50" stroke="#3c3c3c" stroke-width="0.55"/>
<text x="430.4" y="307.89">0.6</text>
<line x1="416.1" x2="425.9" y1="274.50" y2="274.50" stroke="#3c3c3c" stroke-width="0.55"/>
<text x="430.4" y="276.77">0.8</text>
<line x1="416.1" x2="425.9" y1="243.50" y2="243.50" stroke="#3c3c3c" stroke-width="0.55"/>
<text x="430.4" y="245.65">1.0</text>
</g>
</svg>
</body></html>
